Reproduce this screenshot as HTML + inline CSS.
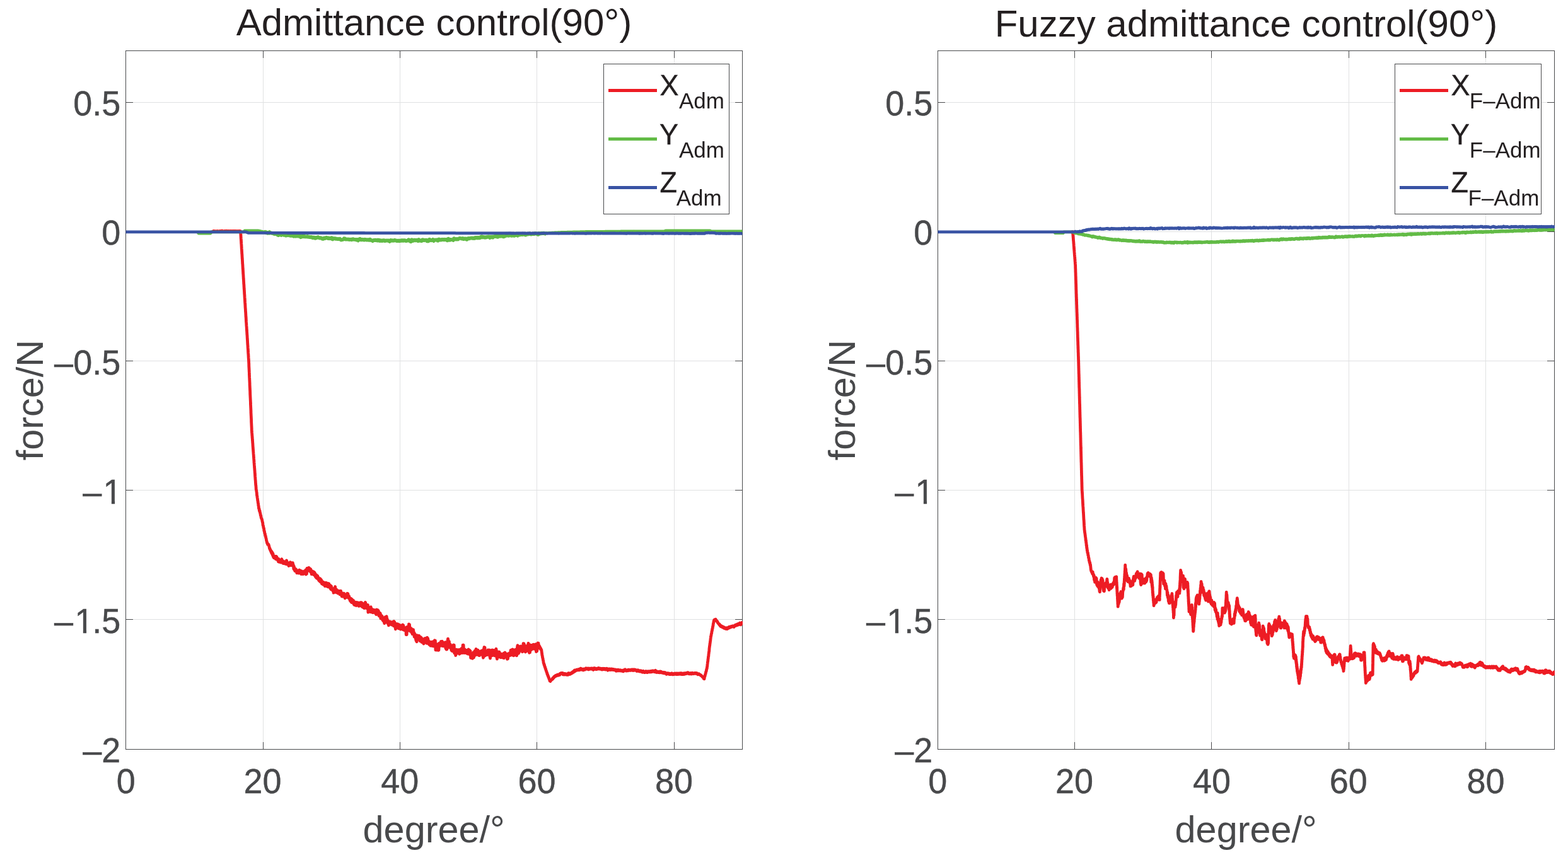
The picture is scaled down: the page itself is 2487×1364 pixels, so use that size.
<!DOCTYPE html>
<html lang="en"><head><meta charset="utf-8"><title>Admittance control vs fuzzy admittance control (90°)</title>
<style>html,body{margin:0;padding:0;background:#fff;}body{width:2487px;height:1364px;overflow:hidden;}svg{display:block;}text{font-family:'Liberation Sans', Arial, Helvetica, sans-serif;}</style></head><body>
<svg xmlns="http://www.w3.org/2000/svg" width="2487" height="1364" viewBox="0 0 2487 1364">
<rect x="0" y="0" width="2487" height="1364" fill="#ffffff"/>
<g>
<path d="M417.5 80.5V1188.5M634.5 80.5V1188.5M851.5 80.5V1188.5M1069.5 80.5V1188.5M199.5 162.5H1177.5M199.5 367.5H1177.5M199.5 572.5H1177.5M199.5 777.5H1177.5M199.5 982.5H1177.5" stroke="#e0e1e2" stroke-width="1" fill="none"/>
<rect x="199.5" y="80.5" width="978.0" height="1108.0" fill="none" stroke="#48494b" stroke-width="1"/>
<path d="M417.5 1188.5v-11.5M417.5 80.5v11.5M634.5 1188.5v-11.5M634.5 80.5v11.5M851.5 1188.5v-11.5M851.5 80.5v11.5M1069.5 1188.5v-11.5M1069.5 80.5v11.5M199.5 162.5h11.5M1177.5 162.5h-11.5M199.5 367.5h11.5M1177.5 367.5h-11.5M199.5 572.5h11.5M1177.5 572.5h-11.5M199.5 777.5h11.5M1177.5 777.5h-11.5M199.5 982.5h11.5M1177.5 982.5h-11.5" stroke="#48494b" stroke-width="1" fill="none"/>
<clipPath id="clip0"><rect x="199.0" y="80.0" width="979.0" height="1109.0"/></clipPath>
<g clip-path="url(#clip0)" fill="none" stroke-width="4.80" stroke-linejoin="round" stroke-linecap="butt">
<path d="M336.5 368.2L337.0 367.9L337.5 367.3L338.0 366.8L338.5 366.4L339.0 366.7L339.5 366.4L340.0 366.7L340.5 366.9L341.0 367.0L341.5 366.9L342.0 366.7L342.5 366.6L343.0 366.8L343.5 366.6L344.0 366.8L344.5 366.5L345.0 366.8L345.5 366.5L346.0 366.8L346.5 366.9L347.0 367.0L347.5 366.9L348.0 367.0L348.5 366.5L349.1 366.8L349.6 366.5L350.1 366.8L350.6 366.5L351.1 366.3L351.6 366.2L352.1 366.3L352.6 366.2L353.1 366.9L353.6 366.8L354.1 366.9L354.6 366.8L355.1 366.7L355.6 366.5L356.1 366.7L356.6 366.5L357.1 366.7L357.6 366.5L358.1 366.7L358.6 366.2L359.1 366.3L359.6 366.5L360.1 366.7L360.6 366.5L361.1 366.7L361.6 366.5L362.1 366.7L362.6 366.4L363.1 366.8L363.6 366.4L364.1 366.8L364.6 366.5L365.1 366.7L365.6 366.5L366.1 366.7L366.6 366.4L367.1 366.8L367.6 366.5L368.1 366.8L368.6 366.5L369.1 366.7L369.6 366.4L370.1 366.8L370.7 366.5L371.2 366.7L371.7 366.4L372.2 366.7L372.7 366.4L373.2 366.7L373.7 366.4L374.2 366.8L374.7 366.5L375.2 366.8L375.7 366.5L376.2 367.0L376.7 366.8L377.2 367.0L377.7 366.5L378.2 366.8L378.7 366.5L379.2 366.9L379.7 366.4L380.2 366.6L380.7 366.4L381.2 366.6L381.6 367.8L381.7 370.2L381.9 371.9L382.0 374.2L382.1 375.8L382.2 378.2L382.4 379.9L382.5 382.2L382.6 383.9L382.7 386.2L382.9 387.8L383.0 390.1L383.1 391.9L383.2 394.2L383.4 395.8L383.5 398.2L383.6 399.8L383.7 402.1L383.9 403.8L384.0 406.1L384.1 407.8L384.2 410.1L384.4 411.8L384.5 414.1L384.6 415.8L384.7 418.1L384.9 419.8L385.0 422.1L385.1 423.8L385.2 426.1L385.4 427.8L385.5 430.1L385.6 431.8L385.7 434.1L385.9 435.9L386.0 438.1L386.1 439.8L386.2 442.1L386.4 443.8L386.5 446.1L386.6 447.8L386.7 450.1L386.9 451.8L387.0 454.2L387.1 455.9L387.2 458.1L387.4 459.9L387.5 462.2L387.6 463.9L387.7 466.1L387.9 467.9L388.0 470.2L388.1 471.9L388.3 474.2L388.4 475.8L388.5 478.2L388.6 479.9L388.8 482.2L388.9 484.1L389.0 486.3L389.1 488.1L389.3 490.3L389.4 492.2L389.5 494.3L389.7 496.1L389.8 498.3L389.9 500.1L390.0 502.3L390.2 504.1L390.3 506.4L390.4 508.3L390.5 510.4L390.7 512.3L390.8 514.4L390.9 516.2L391.1 518.4L391.2 519.8L391.3 522.0L391.4 523.8L391.6 526.0L391.7 527.9L391.8 530.1L392.0 531.9L392.1 534.0L392.2 535.8L392.3 538.0L392.5 539.8L392.6 542.1L392.7 543.9L392.8 546.1L393.0 547.9L393.1 550.1L393.2 551.9L393.4 554.1L393.5 555.9L393.6 558.1L393.7 559.9L393.9 562.2L394.0 563.9L394.1 566.2L394.2 567.9L394.4 570.2L394.5 571.9L394.6 574.2L394.7 575.8L394.8 578.2L394.8 579.9L394.9 582.2L395.0 583.9L395.1 586.2L395.2 587.9L395.3 590.2L395.4 591.7L395.4 594.1L395.5 595.7L395.6 598.2L395.7 599.8L395.8 602.1L395.9 603.8L396.0 606.1L396.1 607.8L396.1 610.1L396.2 611.8L396.3 614.1L396.4 615.7L396.5 618.1L396.6 619.8L396.7 622.1L396.7 623.7L396.8 626.1L396.9 627.8L397.0 630.1L397.1 631.8L397.2 634.1L397.3 635.8L397.4 638.2L397.4 639.9L397.5 642.1L397.6 643.9L397.7 646.2L397.8 647.9L397.9 650.1L398.0 651.9L398.0 654.1L398.1 655.9L398.2 658.1L398.3 659.9L398.4 662.1L398.5 663.9L398.6 666.1L398.6 667.9L398.7 670.1L398.8 671.9L398.9 674.2L399.0 675.9L399.1 678.2L399.2 679.9L399.2 682.1L399.4 683.9L399.5 686.2L399.7 687.8L399.8 690.1L400.0 691.8L400.1 694.1L400.3 695.7L400.4 698.0L400.6 699.7L400.7 701.9L400.9 703.6L401.0 705.9L401.1 707.6L401.3 709.9L401.4 711.6L401.6 713.9L401.7 715.6L401.9 717.9L402.0 719.5L402.2 721.8L402.3 723.4L402.5 725.8L402.6 727.4L402.8 729.7L402.9 731.4L403.0 733.7L403.2 735.4L403.3 737.7L403.5 739.3L403.6 741.6L403.8 743.2L403.9 745.5L404.1 747.3L404.2 749.5L404.4 751.1L404.5 753.5L404.6 755.2L404.8 757.5L404.9 759.1L405.1 761.9L405.2 761.9L405.4 766.0L405.5 766.5L405.7 769.9L405.8 769.3L406.0 772.1L406.1 773.4L406.2 776.1L406.6 777.2L406.9 780.0L407.2 781.3L407.5 785.9L407.8 786.5L408.1 789.6L408.4 790.6L408.7 793.9L409.0 794.7L409.3 797.7L409.6 798.5L409.9 802.2L410.2 802.4L410.5 806.5L411.0 806.6L411.4 810.4L411.9 809.7L412.4 813.2L412.8 813.8L413.3 817.3L413.8 817.8L414.2 821.3L414.7 822.1L415.2 823.5L415.7 824.7L416.1 827.4L416.6 828.5L417.1 833.4L417.5 833.5L418.0 837.5L418.5 837.6L418.9 842.0L419.4 842.6L419.8 845.7L420.3 846.4L420.8 849.9L421.2 849.8L421.7 853.2L422.1 854.0L422.6 857.3L423.1 858.6L423.6 861.3L424.0 861.0L424.5 863.4L425.0 862.8L425.5 863.2L426.0 863.5L426.5 865.4L427.0 867.2L427.5 870.1L428.0 869.8L428.5 872.3L429.0 872.0L429.5 874.5L430.0 873.6L430.5 877.0L431.0 874.9L431.5 878.6L432.0 876.3L432.5 880.9L433.0 878.1L433.5 883.3L434.0 882.1L434.5 884.8L435.1 882.4L435.6 885.1L436.1 882.3L436.6 885.9L437.1 882.4L437.6 886.9L438.1 882.3L438.6 884.5L439.1 883.5L439.6 887.7L440.1 886.4L440.6 888.6L441.0 887.0L441.5 890.9L442.0 886.5L442.5 891.3L443.0 888.8L443.4 891.4L443.9 889.3L444.4 891.5L444.9 890.3L445.4 892.1L445.9 890.8L446.3 888.2L446.8 886.7L447.3 888.4L447.8 889.7L448.3 892.5L448.8 890.2L449.2 893.7L449.7 890.2L450.2 893.4L450.7 890.5L451.2 893.9L451.7 891.5L452.1 894.2L452.6 892.0L453.1 894.4L453.6 892.0L454.1 894.7L454.5 889.0L455.0 890.8L455.5 893.0L456.0 894.9L456.5 892.9L457.0 894.9L457.4 892.8L457.9 897.6L458.4 896.4L458.9 896.4L459.4 892.3L459.9 896.5L460.3 891.6L460.8 895.8L461.3 892.1L461.8 896.9L462.3 895.3L462.8 896.5L463.3 896.1L463.8 892.6L464.3 892.6L464.8 895.4L465.3 896.0L465.8 902.4L466.3 898.1L466.8 903.5L467.3 900.9L467.8 905.7L468.3 902.5L468.8 905.6L469.3 902.6L469.7 906.3L470.2 904.3L470.7 908.8L471.2 904.7L471.7 908.2L472.2 904.9L472.6 908.3L473.1 905.6L473.6 909.2L474.1 905.5L474.6 907.4L475.1 904.0L475.6 908.3L476.1 904.9L476.6 908.2L477.1 905.8L477.6 910.5L478.0 905.6L478.5 910.0L479.0 907.4L479.5 909.8L480.0 906.7L480.5 910.7L481.0 907.2L481.5 910.1L482.0 906.2L482.5 908.3L483.0 905.7L483.5 908.4L484.0 905.6L484.5 907.3L484.9 904.0L485.4 911.1L485.9 908.8L486.4 910.3L486.9 901.5L487.4 905.2L487.8 901.9L488.3 905.6L488.8 900.9L489.3 905.1L489.8 900.5L490.3 904.3L490.8 901.0L491.3 905.6L491.8 902.5L492.3 906.9L492.8 902.6L493.2 907.7L493.7 908.4L494.2 910.6L494.7 909.5L495.2 909.6L495.7 905.8L496.2 910.7L496.7 907.2L497.2 911.1L497.7 906.9L498.2 911.9L498.7 907.9L499.2 911.3L499.7 909.4L500.2 914.4L500.7 911.2L501.3 916.0L501.8 911.6L502.3 917.0L502.8 913.2L503.3 917.3L503.8 913.3L504.3 918.2L504.8 915.5L505.3 920.0L505.8 918.9L506.3 921.4L506.8 920.1L507.3 920.9L507.8 917.7L508.3 923.0L508.9 918.9L509.4 923.4L509.9 920.2L510.4 925.9L510.9 922.3L511.4 926.3L511.9 923.8L512.4 927.2L512.9 923.2L513.4 927.2L513.9 923.9L514.4 928.0L514.9 925.2L515.3 929.5L515.8 925.2L516.3 928.8L516.8 924.2L517.3 929.0L517.8 924.3L518.2 929.8L518.7 925.0L519.2 929.5L519.7 925.6L520.2 930.8L520.7 925.5L521.2 930.1L521.7 925.7L522.2 931.4L522.7 927.6L523.1 931.8L523.6 928.2L524.1 933.6L524.6 928.9L525.1 934.8L525.6 930.0L526.1 935.4L526.6 932.8L527.1 935.6L527.6 933.3L528.1 937.5L528.6 934.4L529.1 940.2L529.6 935.1L530.1 939.5L530.6 935.1L531.1 932.4L531.6 930.5L532.1 938.8L532.6 934.2L533.1 939.5L533.6 935.0L534.1 938.8L534.6 936.6L535.1 940.3L535.6 936.8L536.1 941.2L536.6 936.8L537.1 941.0L537.6 937.4L538.1 940.9L538.6 937.3L539.1 942.8L539.6 937.8L540.1 942.4L540.6 937.2L541.1 942.8L541.6 943.5L542.1 945.6L542.6 944.2L543.1 946.1L543.6 940.8L544.1 944.7L544.7 941.9L545.2 944.8L545.7 941.1L546.2 946.9L546.7 946.5L547.2 948.8L547.7 947.3L548.2 946.4L548.7 943.3L549.2 947.7L549.7 944.5L550.2 942.8L550.7 941.2L551.2 942.8L551.7 941.4L552.2 943.6L552.7 945.2L553.1 948.6L553.6 945.3L554.1 949.7L554.6 948.0L555.1 952.5L555.6 949.6L556.1 953.8L556.6 949.1L557.1 954.9L557.6 949.9L558.1 955.7L558.6 950.9L559.1 955.7L559.6 952.3L560.1 956.4L560.6 952.4L561.1 958.4L561.6 954.6L562.1 959.5L562.6 956.0L563.1 959.5L563.6 955.1L564.1 959.6L564.6 955.1L565.1 960.5L565.6 955.4L566.1 959.3L566.6 955.9L567.1 959.5L567.6 955.7L568.1 959.4L568.5 956.7L569.0 961.3L569.5 957.2L570.0 961.2L570.5 956.4L571.0 959.9L571.5 955.6L572.0 959.6L572.5 955.7L573.0 959.8L573.5 955.7L574.0 961.8L574.5 957.4L575.0 962.8L575.5 957.1L576.0 962.4L576.5 959.0L577.0 964.1L577.5 958.9L578.0 964.7L578.5 959.3L579.0 957.8L579.5 955.3L580.0 957.8L580.5 958.6L581.0 964.2L581.4 960.5L581.9 964.9L582.4 961.1L582.9 960.8L583.4 959.5L583.9 971.1L584.3 968.9L584.8 967.7L585.3 963.5L585.8 969.2L586.3 964.9L586.8 969.0L587.2 965.7L587.7 970.6L588.2 962.7L588.7 965.3L589.2 966.4L589.7 971.0L590.3 966.6L590.8 971.5L591.3 966.6L591.8 971.6L592.3 967.8L592.8 971.0L593.3 967.5L593.8 970.8L594.3 967.7L594.8 971.2L595.3 968.0L595.8 973.3L596.3 968.3L596.8 974.5L597.3 967.0L597.9 969.8L598.3 967.6L598.8 969.7L599.3 967.5L599.8 970.6L600.3 968.7L600.8 976.4L601.3 971.7L601.8 977.2L602.3 972.0L602.8 977.6L603.3 972.9L603.8 980.8L604.3 976.0L604.8 980.4L605.3 976.4L605.8 981.7L606.3 977.6L606.8 983.4L607.3 981.8L607.7 984.7L608.2 982.9L608.7 985.1L609.2 985.6L609.7 988.6L610.2 986.5L610.6 982.6L611.1 978.6L611.6 983.3L612.1 980.1L612.6 979.7L613.1 977.6L613.5 980.7L614.0 981.3L614.5 988.0L615.0 983.6L615.5 989.3L615.9 985.7L616.4 991.9L616.9 986.8L617.4 989.7L617.9 986.0L618.4 989.7L618.9 985.9L619.4 990.2L619.9 986.6L620.4 990.1L620.9 986.8L621.4 991.1L621.9 986.9L622.4 990.8L622.9 986.5L623.4 990.8L623.9 985.9L624.4 992.7L624.9 985.3L625.4 992.8L625.9 986.7L626.4 993.6L626.9 995.1L627.4 997.9L627.9 996.3L628.4 992.8L628.8 989.3L629.3 993.3L629.8 989.9L630.3 994.6L630.8 989.7L631.3 995.6L631.8 990.3L632.3 996.9L632.8 990.7L633.3 996.1L633.8 991.4L634.3 996.7L634.8 992.7L635.3 998.0L635.8 991.8L636.3 997.6L636.8 992.5L637.3 997.7L637.8 993.8L638.3 998.3L638.8 990.9L639.3 993.9L639.8 991.8L640.3 999.0L640.8 995.9L641.3 999.7L641.8 996.8L642.2 999.7L642.7 995.7L643.2 999.3L643.7 995.7L644.2 1006.6L644.7 1003.9L645.1 1006.6L645.6 994.4L646.1 1000.1L646.6 994.6L647.1 1000.5L647.6 994.7L648.0 999.2L648.5 989.8L649.0 992.7L649.5 990.7L650.0 999.8L650.5 995.2L651.0 1001.4L651.5 997.0L652.0 1001.2L652.5 996.8L653.0 1003.3L653.5 999.0L654.0 1005.6L654.5 999.3L655.0 1005.6L655.5 998.6L656.0 1002.0L656.5 1003.7L657.0 1009.8L657.5 1004.4L658.0 1010.1L658.5 1006.1L659.0 1012.3L659.5 1013.5L660.0 1016.1L660.5 1014.4L661.0 1017.8L661.5 1007.6L662.0 1011.2L662.5 1008.6L663.0 1011.9L663.5 1008.3L664.1 1013.6L664.6 1008.2L665.1 1014.1L665.6 1009.3L666.1 1016.7L666.6 1011.0L667.1 1017.0L667.6 1010.7L668.1 1017.6L668.6 1011.8L669.1 1018.5L669.6 1013.5L670.1 1018.5L670.6 1014.5L671.1 1019.6L671.6 1018.2L672.1 1021.0L672.6 1018.6L673.1 1015.8L673.5 1012.7L674.0 1015.9L674.5 1012.4L675.0 1015.5L675.5 1012.9L676.0 1019.0L676.5 1013.9L677.0 1020.3L677.5 1011.1L678.0 1014.1L678.5 1012.2L679.0 1014.8L679.5 1017.2L680.0 1021.4L680.5 1017.2L681.0 1022.4L681.5 1018.5L682.0 1021.7L682.5 1018.2L683.0 1024.2L683.5 1018.6L684.0 1024.0L684.5 1018.1L685.0 1024.3L685.5 1019.4L686.0 1023.7L686.5 1017.8L687.0 1024.9L687.5 1017.5L688.0 1024.8L688.5 1019.5L688.9 1024.9L689.4 1015.6L689.9 1018.1L690.4 1016.1L690.9 1030.8L691.4 1028.2L691.9 1031.2L692.4 1022.1L692.9 1028.9L693.4 1021.9L693.9 1027.4L694.4 1021.6L694.9 1031.3L695.4 1028.4L695.9 1031.2L696.4 1020.4L696.9 1024.9L697.4 1019.8L697.9 1024.7L698.4 1020.4L698.9 1024.2L699.4 1017.3L699.9 1023.2L700.4 1017.5L700.9 1021.9L701.4 1017.1L701.9 1024.6L702.4 1020.9L702.9 1024.5L703.4 1020.1L703.9 1024.9L704.4 1019.4L704.9 1023.3L705.4 1019.2L705.9 1022.7L706.4 1018.6L706.9 1028.3L707.5 1025.4L708.0 1030.1L708.5 1026.8L709.0 1029.8L709.5 1027.1L710.0 1016.4L710.5 1013.1L711.0 1015.9L711.5 1016.6L712.0 1019.5L712.4 1017.4L712.9 1026.8L713.4 1022.1L713.9 1026.9L714.4 1022.1L714.9 1028.0L715.3 1023.7L715.8 1031.0L716.3 1024.3L716.8 1032.3L717.3 1025.9L717.8 1032.0L718.3 1026.1L718.7 1033.1L719.2 1023.0L719.7 1025.8L720.2 1023.2L720.7 1035.9L721.2 1030.1L721.7 1036.4L722.2 1036.4L722.7 1039.5L723.2 1030.7L723.7 1036.3L724.2 1030.1L724.7 1036.6L725.2 1030.6L725.7 1035.6L726.2 1031.1L726.7 1035.1L727.2 1030.6L727.7 1035.9L728.2 1030.9L728.7 1037.4L729.2 1031.5L729.7 1035.8L730.2 1029.8L730.7 1036.1L731.2 1030.2L731.7 1034.7L732.2 1028.3L732.7 1034.3L733.2 1029.6L733.7 1035.5L734.1 1023.1L734.6 1025.2L735.1 1023.0L735.6 1035.1L736.1 1029.7L736.6 1035.5L737.1 1029.9L737.6 1034.7L738.1 1031.2L738.6 1035.7L739.1 1031.2L739.6 1035.9L740.1 1031.9L740.6 1036.4L741.1 1032.4L741.6 1037.1L742.1 1030.8L742.6 1036.0L743.1 1029.8L743.6 1036.9L744.1 1032.2L744.6 1037.9L745.1 1031.5L745.6 1037.8L746.1 1032.6L746.6 1043.3L747.1 1040.3L747.6 1043.6L748.1 1038.6L748.6 1041.7L749.0 1041.4L749.5 1044.4L750.0 1041.7L750.5 1040.9L751.0 1034.6L751.5 1042.9L752.0 1034.5L752.5 1038.7L753.0 1032.4L753.5 1039.6L754.0 1033.6L754.5 1032.2L755.0 1029.4L755.5 1038.0L756.0 1032.4L756.5 1038.4L757.0 1031.0L757.5 1038.4L758.0 1031.1L758.5 1037.3L759.0 1034.7L759.5 1039.5L760.0 1035.4L760.5 1039.7L761.0 1034.7L761.5 1036.5L762.0 1032.9L762.5 1036.0L763.0 1032.8L763.5 1038.2L764.0 1032.2L764.5 1038.4L765.0 1031.6L765.5 1038.2L766.0 1040.7L766.5 1043.2L767.0 1040.3L767.5 1029.5L768.0 1026.4L768.5 1029.8L769.0 1026.8L769.5 1040.0L770.0 1035.3L770.5 1039.0L771.0 1033.8L771.5 1038.1L772.0 1034.8L772.5 1038.7L773.0 1034.6L773.5 1037.1L774.0 1031.0L774.5 1038.4L775.0 1031.5L775.5 1038.1L776.0 1030.9L776.5 1037.2L777.0 1041.7L777.5 1044.1L778.0 1031.9L778.5 1039.6L778.9 1032.6L779.4 1039.5L779.9 1031.1L780.4 1039.8L780.9 1031.0L781.4 1038.1L781.9 1031.9L782.4 1038.8L782.9 1032.4L783.4 1038.3L783.9 1031.4L784.4 1039.8L784.9 1032.3L785.4 1040.2L785.9 1032.5L786.4 1032.5L786.9 1029.1L787.4 1032.7L787.9 1042.1L788.4 1045.2L788.9 1033.7L789.4 1040.6L789.9 1034.5L790.4 1040.7L790.9 1034.1L791.4 1041.8L791.9 1034.0L792.4 1042.1L792.9 1037.3L793.4 1041.9L793.9 1037.4L794.4 1042.9L794.9 1036.8L795.4 1042.5L795.9 1037.3L796.5 1042.9L797.0 1038.1L797.5 1043.1L798.0 1039.4L798.5 1043.3L799.0 1036.1L799.5 1043.9L800.0 1036.0L800.5 1042.5L801.0 1035.0L801.5 1042.0L802.0 1038.4L802.5 1041.8L803.0 1037.6L803.5 1041.3L804.0 1037.2L804.5 1045.4L805.0 1042.4L805.5 1044.9L806.0 1036.9L806.5 1040.4L807.0 1037.3L807.5 1040.1L808.0 1036.0L808.5 1039.4L809.0 1036.2L809.5 1039.5L810.0 1031.4L810.5 1037.5L811.0 1030.9L811.5 1034.5L812.0 1030.7L812.5 1034.7L813.0 1030.0L813.5 1039.3L814.0 1036.0L814.5 1039.8L815.0 1036.7L815.5 1039.4L816.0 1030.8L816.5 1035.4L817.0 1030.6L817.5 1035.7L818.0 1030.1L818.5 1035.1L819.0 1031.0L819.5 1039.8L820.0 1036.9L820.5 1026.3L821.0 1023.7L821.5 1035.0L822.0 1028.3L822.5 1036.3L823.0 1029.4L823.5 1034.3L824.0 1028.0L824.5 1031.4L825.0 1025.2L825.5 1031.5L826.0 1024.9L826.5 1030.6L827.0 1026.2L827.5 1030.9L828.0 1027.6L828.5 1033.9L829.0 1028.0L829.5 1033.2L830.0 1020.7L830.5 1023.3L831.0 1020.8L831.5 1022.9L832.0 1023.2L832.5 1025.9L833.0 1026.7L833.5 1034.2L834.0 1027.3L834.5 1032.7L835.0 1025.2L835.5 1032.5L836.0 1024.5L836.5 1031.7L837.0 1025.2L837.5 1022.9L838.0 1020.3L838.5 1022.5L839.0 1032.8L839.5 1035.3L840.0 1032.3L840.5 1035.0L841.0 1022.9L841.5 1030.0L842.0 1023.3L842.5 1030.9L843.0 1023.4L843.5 1029.7L844.0 1023.3L844.5 1029.0L845.0 1023.5L845.5 1029.0L846.0 1022.2L846.5 1028.8L847.0 1022.4L847.5 1028.5L848.0 1023.3L848.5 1029.6L849.0 1022.5L849.5 1028.3L850.0 1021.6L850.5 1033.7L851.0 1030.2L851.5 1033.0L852.0 1030.7L852.5 1026.2L853.0 1020.0L853.5 1028.0L854.0 1020.2L854.5 1026.4L855.0 1023.8L855.5 1026.2L855.9 1025.0L856.4 1027.3L856.9 1027.1L857.3 1029.7L857.8 1028.6L858.3 1030.3L858.8 1030.9L859.1 1033.3L859.5 1036.1L859.9 1039.5L860.2 1040.1L860.6 1043.3L861.0 1044.2L861.4 1047.3L861.8 1048.2L862.1 1051.6L862.5 1051.5L863.0 1054.6L863.5 1054.5L864.0 1057.7L864.5 1057.7L865.0 1060.5L865.5 1060.7L866.0 1063.4L866.5 1064.0L867.0 1066.3L867.5 1066.7L868.0 1069.5L868.5 1069.5L869.0 1071.9L869.5 1072.1L870.0 1074.6L870.5 1074.7L871.0 1077.1L871.5 1077.6L872.0 1079.9L872.5 1080.0L873.0 1080.5L873.5 1079.0L874.0 1079.1L874.5 1077.9L875.0 1078.0L875.5 1077.2L876.0 1077.6L876.5 1075.7L877.0 1076.7L877.5 1074.9L878.0 1075.4L878.5 1073.5L879.0 1074.2L879.5 1072.6L880.0 1073.3L880.5 1072.0L881.0 1072.6L881.5 1071.2L882.0 1072.0L882.5 1071.0L883.0 1071.9L883.5 1070.5L884.0 1071.1L884.5 1070.1L885.0 1070.7L885.5 1070.4L886.0 1071.1L886.5 1069.8L887.0 1070.6L887.5 1069.4L888.0 1070.3L888.5 1068.1L889.0 1068.5L889.5 1067.7L890.0 1068.0L890.5 1067.6L891.0 1068.1L891.5 1067.6L892.0 1068.0L892.5 1067.6L893.0 1069.9L893.5 1068.5L894.0 1069.7L894.5 1068.7L895.0 1070.1L895.5 1068.4L896.0 1069.9L896.5 1068.6L897.0 1069.7L897.5 1068.7L898.0 1070.1L898.5 1069.2L899.0 1070.2L899.5 1069.0L900.0 1070.2L900.5 1069.3L901.0 1070.3L901.5 1067.7L902.0 1068.3L902.5 1067.8L903.0 1068.0L903.5 1068.9L904.0 1069.5L904.5 1068.3L905.0 1068.9L905.5 1067.6L906.0 1068.3L906.5 1067.1L907.0 1067.8L907.5 1066.1L908.0 1067.2L908.5 1065.4L909.0 1066.5L909.5 1064.9L910.0 1066.0L910.5 1063.8L911.0 1063.9L911.5 1063.1L912.0 1064.7L912.5 1063.2L913.0 1064.0L913.5 1062.9L914.0 1063.5L914.5 1062.2L915.0 1063.1L915.5 1062.1L916.0 1063.0L916.5 1062.0L917.0 1062.7L917.5 1061.7L918.0 1062.7L918.5 1061.4L919.0 1062.7L919.5 1061.3L920.0 1060.9L920.5 1060.4L921.0 1060.9L921.5 1060.3L922.0 1062.2L922.5 1061.5L923.0 1062.0L923.5 1061.4L924.0 1062.1L924.5 1062.4L925.0 1063.0L925.5 1061.0L926.0 1062.2L926.5 1061.1L927.0 1062.2L927.5 1060.9L928.0 1062.0L928.5 1060.9L929.0 1060.4L929.5 1059.8L930.0 1061.1L930.5 1060.2L931.0 1060.9L931.5 1060.3L932.0 1060.8L932.5 1060.0L933.0 1061.7L933.5 1060.1L934.0 1061.7L934.5 1060.3L935.0 1061.4L935.5 1060.2L936.0 1061.0L936.5 1060.3L937.0 1061.1L937.5 1060.3L938.0 1061.1L938.5 1059.9L939.0 1061.3L939.5 1059.9L940.0 1061.1L940.5 1061.9L941.0 1062.4L941.5 1061.8L942.0 1060.1L942.5 1059.5L943.0 1060.0L943.5 1060.4L944.0 1061.2L944.5 1060.1L945.0 1061.6L945.5 1060.2L946.0 1061.3L946.5 1060.6L947.0 1061.4L947.5 1060.6L948.0 1060.2L948.5 1059.7L949.0 1060.2L949.5 1059.6L950.0 1061.0L950.5 1060.1L951.0 1061.0L951.5 1060.0L952.0 1061.0L952.5 1060.3L953.0 1061.3L953.5 1060.5L954.0 1061.8L954.5 1060.4L955.0 1062.0L955.5 1060.5L956.0 1061.9L956.5 1060.3L957.0 1061.4L957.5 1060.4L958.0 1061.5L958.5 1060.4L959.0 1061.4L959.5 1060.6L960.0 1061.9L960.5 1060.8L961.0 1061.9L961.5 1061.0L962.0 1061.6L962.5 1060.2L963.0 1061.9L963.5 1062.5L964.0 1063.1L964.5 1062.5L965.0 1062.2L965.5 1060.9L966.0 1062.4L966.5 1061.0L967.0 1062.1L967.5 1061.1L968.0 1062.5L968.5 1061.1L969.0 1062.1L969.5 1061.1L970.0 1062.2L970.5 1061.0L971.0 1062.2L971.5 1061.5L972.0 1062.3L972.5 1061.6L973.0 1062.4L973.5 1061.5L974.0 1062.5L974.5 1062.0L975.0 1062.8L975.5 1062.0L976.0 1063.1L976.5 1062.1L977.0 1064.1L977.5 1063.5L978.0 1064.1L978.5 1062.4L979.0 1063.4L979.5 1062.4L980.0 1063.8L980.5 1062.3L981.0 1063.9L981.5 1062.8L982.0 1063.8L982.5 1062.8L983.0 1063.8L983.5 1063.1L984.0 1063.7L984.5 1062.8L985.0 1064.0L985.5 1063.2L986.0 1064.0L986.5 1063.5L987.0 1064.3L987.5 1063.2L988.0 1064.8L988.5 1063.3L989.0 1064.7L989.5 1062.6L990.0 1063.0L990.5 1062.4L991.0 1062.4L991.5 1061.7L992.0 1062.3L992.5 1063.3L993.0 1064.0L993.5 1063.2L994.0 1064.0L994.5 1063.0L995.0 1063.8L995.5 1062.9L996.0 1063.8L996.5 1062.2L997.0 1063.4L997.5 1062.2L998.0 1063.2L998.5 1062.5L999.0 1063.3L999.5 1062.4L1000.0 1063.3L1000.5 1062.4L1001.0 1063.2L1001.5 1062.1L1002.0 1063.1L1002.5 1062.0L1003.0 1062.9L1003.5 1062.0L1004.0 1063.5L1004.5 1061.9L1005.0 1063.3L1005.5 1061.9L1006.0 1063.2L1006.5 1062.0L1007.0 1062.9L1007.5 1062.4L1008.0 1063.1L1008.5 1062.6L1009.0 1063.4L1009.5 1063.8L1010.0 1064.4L1010.5 1064.1L1011.0 1063.6L1011.5 1062.8L1012.0 1064.2L1012.5 1062.9L1013.0 1064.6L1013.5 1063.9L1014.0 1064.7L1014.5 1064.1L1015.0 1065.1L1015.5 1063.9L1016.0 1065.1L1016.5 1063.8L1017.0 1065.3L1017.5 1064.7L1018.0 1065.6L1018.5 1064.6L1019.0 1066.2L1019.5 1064.8L1020.0 1064.6L1020.5 1064.2L1021.0 1064.8L1021.5 1065.4L1022.0 1066.5L1022.5 1065.5L1023.0 1066.6L1023.5 1065.3L1024.0 1065.1L1024.5 1064.5L1025.0 1065.0L1025.5 1065.2L1026.0 1066.4L1026.5 1065.2L1027.0 1066.5L1027.5 1064.8L1028.0 1066.0L1028.5 1065.1L1029.0 1065.8L1029.5 1064.8L1030.0 1065.6L1030.5 1065.1L1031.0 1065.9L1031.5 1064.6L1032.0 1065.7L1032.5 1064.5L1033.0 1065.7L1033.5 1064.1L1034.0 1065.6L1034.5 1064.3L1035.0 1065.2L1035.5 1064.0L1036.0 1065.0L1036.5 1063.9L1037.0 1064.7L1037.5 1065.1L1038.0 1065.7L1038.5 1065.3L1039.0 1063.7L1039.5 1063.3L1040.0 1063.9L1040.5 1065.9L1041.0 1066.5L1041.5 1066.1L1042.0 1066.1L1042.5 1065.0L1043.0 1066.4L1043.5 1065.3L1044.0 1066.5L1044.5 1065.5L1045.0 1066.6L1045.5 1065.3L1046.0 1066.8L1046.5 1065.3L1047.0 1066.8L1047.5 1065.0L1048.0 1065.7L1048.5 1065.2L1049.0 1066.8L1049.5 1066.2L1050.0 1067.0L1050.5 1066.4L1051.0 1067.2L1051.5 1066.5L1052.0 1067.4L1052.5 1066.2L1053.0 1067.8L1053.5 1066.7L1054.0 1067.9L1054.5 1066.5L1055.0 1067.7L1055.5 1066.8L1056.0 1068.1L1056.5 1068.7L1057.0 1069.4L1057.5 1068.9L1058.0 1068.2L1058.5 1067.8L1059.0 1068.6L1059.5 1067.9L1060.0 1068.9L1060.5 1068.0L1061.0 1068.9L1061.5 1068.3L1062.0 1069.4L1062.5 1068.3L1063.0 1069.5L1063.5 1068.5L1064.0 1069.5L1064.5 1068.4L1065.0 1068.3L1065.5 1067.8L1066.0 1068.4L1066.5 1068.7L1067.0 1069.8L1067.5 1068.8L1068.0 1069.7L1068.5 1068.5L1069.0 1069.6L1069.5 1068.3L1070.0 1069.3L1070.5 1068.1L1071.0 1069.3L1071.5 1068.2L1072.0 1069.2L1072.5 1068.1L1073.0 1069.4L1073.5 1068.3L1074.0 1069.5L1074.5 1068.0L1075.0 1069.3L1075.5 1068.2L1076.0 1069.4L1076.5 1068.0L1077.0 1069.2L1077.5 1068.1L1078.0 1069.0L1078.5 1068.0L1079.0 1069.2L1079.5 1067.8L1080.0 1069.1L1080.5 1067.6L1081.0 1069.5L1081.5 1068.3L1082.0 1069.4L1082.5 1068.2L1083.0 1069.4L1083.5 1068.1L1084.0 1069.4L1084.5 1067.9L1085.0 1069.2L1085.5 1067.8L1086.0 1069.2L1086.5 1067.6L1087.0 1068.6L1087.5 1067.8L1088.0 1068.6L1088.5 1067.6L1089.0 1068.5L1089.5 1067.3L1090.0 1067.8L1090.5 1066.9L1091.0 1067.4L1091.5 1066.8L1092.0 1068.6L1092.5 1068.0L1093.0 1068.6L1093.5 1068.0L1094.0 1068.8L1094.5 1067.8L1095.0 1068.8L1095.5 1067.6L1096.0 1068.8L1096.5 1067.6L1097.0 1069.0L1097.5 1067.4L1098.0 1068.3L1098.5 1067.3L1099.0 1068.3L1099.5 1067.8L1100.0 1068.7L1100.5 1067.9L1101.0 1068.1L1101.5 1067.5L1102.0 1068.2L1102.5 1067.4L1103.0 1068.2L1103.5 1067.5L1104.0 1068.3L1104.5 1067.5L1105.0 1068.3L1105.5 1067.7L1106.0 1069.1L1106.5 1068.5L1107.0 1069.8L1107.5 1069.0L1108.0 1069.0L1108.5 1068.8L1109.0 1069.7L1109.5 1069.5L1110.0 1070.2L1110.5 1070.1L1111.0 1071.0L1111.5 1070.8L1112.0 1071.7L1112.5 1071.5L1113.0 1072.4L1113.5 1072.7L1114.0 1073.6L1114.5 1073.3L1115.0 1074.3L1115.5 1074.2L1116.0 1076.1L1116.5 1075.2L1117.0 1076.8L1117.5 1073.5L1118.1 1072.4L1118.6 1069.5L1119.1 1068.7L1119.7 1065.3L1120.2 1064.6L1120.7 1061.3L1121.2 1060.6L1121.5 1057.7L1121.8 1056.8L1122.0 1053.7L1122.2 1052.6L1122.5 1049.5L1122.8 1048.7L1123.0 1045.6L1123.2 1045.0L1123.5 1041.5L1123.8 1040.8L1124.0 1037.5L1124.2 1036.7L1124.5 1033.7L1124.8 1032.9L1125.0 1028.8L1125.2 1027.3L1125.5 1024.8L1125.8 1023.3L1126.0 1020.8L1126.2 1020.3L1126.5 1017.4L1126.8 1016.2L1127.0 1013.4L1127.2 1012.1L1127.5 1009.3L1127.9 1008.3L1128.3 1005.3L1128.7 1004.6L1129.0 1001.5L1129.4 1000.6L1129.8 997.4L1130.2 996.8L1130.6 993.6L1131.0 992.5L1131.3 989.2L1131.7 988.1L1132.1 985.3L1132.5 984.1L1133.0 983.0L1133.5 983.5L1134.0 983.9L1134.5 984.2L1135.0 982.1L1135.5 983.8L1136.0 983.6L1136.5 985.1L1137.0 984.7L1137.5 986.4L1138.0 985.9L1138.5 988.0L1139.0 987.9L1139.5 989.1L1140.0 989.1L1140.5 990.6L1141.0 989.8L1141.5 991.6L1142.0 991.3L1142.5 993.1L1143.0 992.0L1143.5 993.7L1144.0 992.6L1144.4 994.0L1144.9 993.2L1145.4 994.6L1145.9 993.5L1146.4 995.0L1146.9 994.2L1147.4 995.7L1147.8 994.6L1148.3 996.4L1148.8 995.0L1149.3 996.4L1149.8 995.5L1150.3 997.1L1150.8 996.2L1151.2 997.4L1151.7 995.9L1152.2 997.1L1152.7 995.6L1153.2 997.6L1153.7 996.9L1154.2 997.2L1154.7 996.5L1155.2 996.2L1155.7 994.7L1156.2 996.0L1156.7 994.3L1157.1 995.8L1157.6 994.2L1158.1 995.2L1158.6 993.9L1159.1 994.8L1159.6 993.5L1160.1 994.4L1160.6 993.3L1161.1 993.9L1161.6 993.0L1162.1 993.6L1162.5 992.8L1163.0 993.4L1163.5 994.1L1164.0 994.4L1164.5 993.8L1165.0 993.0L1165.5 991.6L1166.0 992.7L1166.5 991.3L1167.0 992.3L1167.5 990.9L1168.0 992.1L1168.5 990.4L1169.0 991.7L1169.5 990.0L1170.0 991.4L1170.5 989.8L1171.0 990.9L1171.4 989.5L1171.9 990.7L1172.4 989.2L1172.9 990.2L1173.4 988.0L1173.9 988.3L1174.4 990.2L1174.9 990.7L1175.4 990.0L1175.9 988.7L1176.4 987.4L1176.9 988.5L1177.4 988.0" stroke="#ed1c24"/>
<path d="M313.5 367.9L314.0 368.6L314.5 369.3L315.0 370.0L315.5 370.0L316.0 370.0L316.5 370.0L317.0 370.0L317.5 370.0L318.0 370.0L318.5 370.0L319.0 370.0L319.5 370.0L320.0 370.0L320.5 370.0L321.0 370.0L321.5 370.0L322.0 370.0L322.5 370.0L323.0 370.0L323.5 370.0L324.0 370.0L324.5 370.0L325.0 370.0L325.5 370.0L326.0 370.0L326.5 370.0L327.0 370.0L327.5 370.0L328.0 370.0L328.5 370.0L329.0 370.0L329.5 370.0L330.0 370.0L330.5 370.0L331.0 370.0L331.5 370.0L332.0 370.0L332.5 370.0L333.0 370.0L333.5 370.0L334.0 370.0L334.5 368.9L335.0 367.9L335.5 367.9L336.0 367.9L336.5 367.9L337.0 367.9L337.5 367.9L338.0 367.9L338.5 367.9L339.0 367.9L339.5 367.9L340.0 367.9L340.5 367.9L341.0 367.9L341.5 367.9L342.0 367.9L342.5 367.9L343.0 367.9L343.5 367.9L344.0 367.9L344.5 367.9L345.0 367.9L345.5 367.9L346.0 367.9L346.5 367.9L347.0 367.9L347.5 367.9L348.0 367.9L348.5 367.9L349.0 367.9L349.5 367.9L350.0 367.9L350.5 367.9L351.0 367.9L351.5 367.9L352.0 367.9L352.5 367.9L353.0 367.9L353.5 367.9L354.0 367.9L354.5 367.9L355.0 367.9L355.5 367.9L356.0 367.9L356.5 367.9L357.0 367.9L357.5 367.9L358.0 367.9L358.5 367.9L359.0 367.9L359.5 367.9L360.0 367.9L360.5 367.9L361.0 367.9L361.5 367.9L362.0 367.9L362.5 367.9L363.0 367.9L363.5 367.9L364.0 367.9L364.5 367.9L365.0 367.9L365.5 367.9L366.0 367.9L366.5 367.9L367.0 367.9L367.5 367.9L368.0 367.9L368.5 367.9L369.0 367.9L369.5 367.9L370.0 367.9L370.5 367.9L371.0 367.9L371.5 367.9L372.0 367.9L372.5 367.9L373.0 367.9L373.5 367.9L374.0 367.9L374.5 367.9L375.0 367.9L375.5 367.9L376.0 367.9L376.5 367.9L377.0 367.9L377.5 367.9L378.0 367.9L378.5 367.9L379.0 367.9L379.5 367.9L380.0 367.9L380.5 367.9L381.0 367.9L381.5 367.9L382.0 367.9L382.5 367.9L383.0 367.9L383.5 367.9L384.0 367.9L384.5 367.9L385.0 367.9L385.5 367.9L386.0 367.9L386.5 367.9L387.0 367.9L387.5 366.9L388.0 366.0L388.5 366.0L389.0 366.0L389.5 366.0L390.0 366.0L390.5 366.0L391.0 366.0L391.5 366.0L392.0 366.0L392.5 366.0L393.0 366.0L393.5 366.0L394.0 366.0L394.5 366.0L395.0 366.0L395.5 366.0L396.0 366.0L396.5 366.0L397.0 366.0L397.5 366.0L398.0 366.0L398.5 366.0L399.0 366.0L399.5 366.0L400.0 366.0L400.5 366.0L401.0 366.0L401.5 366.0L402.0 366.0L402.5 366.0L403.0 366.0L403.5 366.0L404.0 366.0L404.5 366.0L405.0 366.0L405.5 366.0L406.0 366.0L406.5 366.0L407.0 366.0L407.5 366.0L408.0 366.0L408.5 366.0L409.0 366.0L409.5 366.0L410.0 366.0L410.5 366.1L411.0 366.2L411.5 366.3L412.0 366.4L412.5 366.5L413.0 366.6L413.5 366.8L414.0 366.9L414.5 367.0L415.0 367.1L415.5 367.2L416.0 367.3L416.5 367.4L417.0 367.5L417.5 367.6L418.0 367.7L418.5 367.8L419.0 367.8L419.5 367.9L420.0 368.0L420.5 367.3L421.0 369.2L421.5 367.7L422.0 369.4L422.5 367.7L423.0 369.3L423.5 369.7L424.0 370.3L424.5 368.4L425.0 369.4L425.5 368.5L426.0 369.7L426.5 368.8L427.0 370.2L427.5 367.5L428.0 368.2L428.5 368.7L429.0 369.7L429.5 368.8L430.0 370.0L430.5 369.3L431.0 370.2L431.5 369.3L432.0 370.3L432.5 369.4L433.0 370.6L433.5 370.0L434.0 371.2L434.5 370.2L435.0 371.3L435.5 370.1L436.0 371.7L436.5 370.5L437.0 371.5L437.5 370.6L438.0 371.5L438.5 370.7L439.0 372.0L439.5 372.3L440.0 373.0L440.5 372.4L441.0 373.4L441.5 372.8L442.0 373.5L442.5 371.0L443.0 372.1L443.5 371.3L444.0 372.1L444.5 371.4L445.0 372.2L445.5 372.8L446.0 373.5L446.5 372.8L447.0 372.6L447.5 371.3L448.0 372.6L448.5 371.2L449.0 372.9L449.5 372.0L450.0 373.3L450.5 372.1L451.0 373.3L451.5 372.4L452.0 373.3L452.5 373.2L453.0 374.0L453.5 373.5L454.0 374.0L454.5 372.3L455.0 373.3L455.5 372.4L456.0 373.4L456.5 372.2L457.0 373.7L457.5 372.3L458.0 373.4L458.5 372.3L459.0 373.5L459.5 372.6L460.0 374.2L460.5 372.8L461.0 374.2L461.5 372.9L462.0 374.2L462.5 373.3L463.0 374.3L463.5 373.2L464.0 374.5L464.5 373.3L465.0 374.5L465.5 374.6L466.0 375.3L466.5 374.6L467.0 374.8L467.5 373.5L468.0 374.9L468.5 373.7L469.0 375.3L469.5 373.8L470.0 375.1L470.5 373.9L471.0 374.7L471.5 373.9L472.0 374.9L472.5 373.5L473.0 375.0L473.5 373.6L474.0 375.1L474.5 373.8L475.0 375.5L475.5 374.2L476.0 375.5L476.5 374.2L477.0 376.7L477.5 376.2L478.0 375.6L478.5 374.4L479.0 375.8L479.5 374.6L480.0 375.7L480.5 373.3L481.0 374.0L481.5 373.3L482.0 375.7L482.5 374.2L483.0 375.9L483.5 374.5L484.0 375.7L484.5 374.8L485.0 375.9L485.5 375.0L486.0 375.8L486.5 375.1L487.0 375.9L487.5 374.6L488.0 375.8L488.5 374.7L489.0 376.2L489.5 374.9L490.0 376.4L490.5 375.3L491.0 376.5L491.5 375.4L492.0 376.4L492.5 375.5L493.0 376.7L493.5 375.5L494.0 376.5L494.5 375.6L495.0 377.4L495.5 377.0L496.0 377.6L496.5 376.0L497.0 377.0L497.5 376.2L498.0 377.0L498.5 376.1L499.0 378.1L499.5 377.4L500.0 378.2L500.5 377.6L501.0 378.2L501.5 376.1L502.0 377.2L502.5 376.5L503.0 377.4L503.5 376.3L504.0 376.2L504.5 375.6L505.0 376.3L505.5 376.4L506.0 377.8L506.5 376.6L507.0 378.0L507.5 376.6L508.0 378.0L508.5 376.9L509.0 377.7L509.5 376.9L510.0 377.9L510.5 378.7L511.0 379.3L511.5 378.7L512.0 379.3L512.5 378.7L513.0 379.2L513.5 377.2L514.0 378.4L514.5 377.2L515.0 378.4L515.5 377.0L516.0 378.5L516.5 377.4L517.0 377.0L517.5 376.4L518.0 377.0L518.5 376.6L519.0 378.1L519.5 376.9L520.0 378.5L520.5 376.9L521.0 378.3L521.5 377.1L522.0 378.7L522.5 377.2L523.0 378.5L523.5 377.5L524.0 378.7L524.5 377.4L525.0 377.5L525.5 376.9L526.0 377.5L526.5 376.9L527.0 379.9L527.5 379.4L528.0 379.9L528.5 377.8L529.0 378.6L529.5 377.8L530.0 378.7L530.5 377.8L531.0 378.6L531.5 377.7L532.0 379.4L532.5 377.9L533.0 379.4L533.5 378.5L534.0 379.3L534.5 378.6L535.0 379.5L535.5 378.8L536.0 379.5L536.5 378.4L537.0 379.6L537.5 378.6L538.0 379.7L538.5 378.4L539.0 379.3L539.5 378.3L540.0 379.3L540.5 380.3L541.0 381.0L541.5 379.9L542.0 380.5L542.5 380.0L543.0 380.4L543.5 379.9L544.0 380.5L544.5 380.0L545.0 378.4L545.5 377.8L546.0 378.3L546.5 378.0L547.0 378.6L547.5 378.0L548.0 380.1L548.5 379.1L549.0 380.1L549.5 379.0L550.0 379.9L550.5 379.0L551.0 380.1L551.5 379.2L552.0 380.0L552.5 379.1L553.0 380.3L553.5 379.2L554.0 380.5L554.5 379.2L555.0 380.4L555.5 379.5L556.0 380.2L556.5 379.2L557.0 380.6L557.5 379.1L558.0 380.7L558.5 379.3L559.0 380.4L559.5 378.7L560.0 379.4L560.5 378.7L561.0 380.3L561.5 379.4L562.0 380.3L562.5 379.5L563.0 380.3L563.5 379.5L564.0 380.4L564.5 379.5L565.0 381.0L565.5 379.7L566.0 381.1L566.5 379.5L567.0 381.1L567.5 381.3L568.0 382.1L568.5 379.3L569.0 380.7L569.5 379.5L570.0 380.5L570.5 378.4L571.0 379.1L571.5 378.6L572.0 380.8L572.5 379.6L573.0 380.7L573.5 379.6L574.0 380.7L574.5 379.2L575.0 380.6L575.5 379.7L576.0 380.7L576.5 379.4L577.0 381.0L577.5 380.2L578.0 381.1L578.5 379.3L579.0 379.9L579.5 379.5L580.0 380.0L580.5 379.5L581.0 381.0L581.5 379.8L582.0 380.9L582.5 379.8L583.0 380.9L583.5 379.7L584.0 381.0L584.5 379.8L585.0 381.2L585.5 379.7L586.0 381.4L586.5 379.3L587.0 379.9L587.5 379.3L588.0 381.4L588.5 380.3L589.0 381.6L589.5 380.6L590.0 381.8L590.5 382.2L591.0 382.8L591.5 382.3L592.0 381.7L592.5 380.4L593.0 381.6L593.5 380.4L594.0 381.5L594.5 380.1L595.0 381.4L595.5 380.2L596.0 381.5L596.5 380.3L597.0 381.6L597.5 380.9L598.0 381.9L598.5 381.0L599.0 382.0L599.5 380.0L600.0 380.6L600.5 380.4L601.0 381.6L601.5 380.3L602.0 382.5L602.5 380.7L603.0 382.4L603.5 380.8L604.0 382.5L604.5 381.0L605.0 382.1L605.5 381.1L606.0 382.4L606.5 380.9L607.0 382.4L607.5 380.8L608.0 381.5L608.5 380.8L609.0 381.7L609.5 380.7L610.0 382.5L610.5 381.0L611.0 382.5L611.5 381.2L612.0 382.3L612.5 381.1L613.0 382.0L613.5 381.1L614.0 382.0L614.5 381.3L615.0 382.1L615.5 380.9L616.0 382.5L616.5 381.0L617.0 382.6L617.5 382.8L618.0 383.5L618.5 382.9L619.0 381.9L619.5 380.4L620.0 382.1L620.5 380.5L621.0 382.2L621.5 381.0L622.0 382.1L622.5 380.8L623.0 382.3L623.5 381.1L624.0 382.1L624.5 381.2L625.0 382.2L625.5 380.4L626.0 381.8L626.5 380.6L627.0 381.8L627.5 380.8L628.0 382.0L628.5 380.9L629.0 382.6L629.5 381.3L630.0 382.5L630.5 381.3L631.0 382.4L631.5 381.2L632.0 382.6L632.5 381.1L633.0 382.6L633.5 381.1L634.0 382.7L634.5 381.2L635.0 382.3L635.5 381.6L636.0 382.3L636.5 380.8L637.0 382.2L637.5 380.8L638.0 382.0L638.5 380.7L639.0 382.2L639.5 380.7L640.0 382.3L640.5 380.7L641.0 382.1L641.5 381.0L642.0 382.1L642.5 380.8L643.0 382.2L643.5 381.4L644.0 382.6L644.5 381.6L645.0 382.4L645.5 381.5L646.0 381.9L646.5 380.8L647.0 382.0L647.5 380.0L648.0 380.5L648.5 379.9L649.0 382.2L649.5 381.1L650.0 382.2L650.5 380.9L651.0 383.6L651.5 383.0L652.0 383.6L652.5 380.0L653.0 380.5L653.5 379.9L654.0 380.6L654.5 381.1L655.0 382.4L655.5 380.9L656.0 381.6L656.5 380.3L657.0 381.8L657.5 380.3L658.0 381.9L658.5 380.2L659.0 381.8L659.5 380.5L660.0 381.7L660.5 380.2L661.0 381.7L661.5 380.5L662.0 381.8L662.5 382.1L663.0 382.7L663.5 379.7L664.0 380.1L664.5 379.6L665.0 382.3L665.5 381.2L666.0 382.1L666.5 380.8L667.0 382.4L667.5 381.2L668.0 382.6L668.5 382.0L669.0 382.5L669.5 379.9L670.0 380.4L670.5 379.8L671.0 380.4L671.5 380.2L672.0 381.6L672.5 380.2L673.0 381.8L673.5 380.4L674.0 381.1L674.5 380.4L675.0 381.2L675.5 380.4L676.0 381.1L676.5 380.2L677.0 382.9L677.5 382.3L678.0 382.8L678.5 382.1L679.0 382.9L679.5 382.1L680.0 382.7L680.5 379.3L681.0 379.8L681.5 379.2L682.0 379.7L682.5 380.7L683.0 381.6L683.5 380.6L684.0 381.7L684.5 380.6L685.0 381.6L685.5 380.6L686.0 379.8L686.5 379.2L687.0 379.8L687.5 382.0L688.0 382.6L688.5 380.1L689.0 381.4L689.5 380.0L690.0 381.3L690.5 380.3L691.0 381.0L691.5 380.0L692.0 381.1L692.5 379.9L693.0 380.9L693.5 380.0L694.0 382.1L694.5 381.5L695.0 382.1L695.5 379.1L696.0 379.7L696.5 379.1L697.0 381.1L697.5 379.8L698.0 381.0L698.5 379.8L699.0 381.0L699.5 379.6L700.0 381.0L700.5 379.5L701.0 380.5L701.5 379.2L702.0 380.4L702.5 379.5L703.0 380.7L703.5 379.5L704.0 380.5L704.5 379.3L705.0 380.9L705.5 379.5L706.0 380.6L706.5 379.5L707.0 380.5L707.5 379.4L708.0 380.6L708.5 379.6L709.0 381.8L709.5 381.2L710.0 381.8L710.5 378.5L711.0 379.0L711.5 378.3L712.0 378.9L712.5 380.6L713.0 381.2L713.5 380.6L714.0 381.1L714.5 379.4L715.0 380.5L715.5 379.4L716.0 380.3L716.5 380.3L717.0 380.8L717.5 380.4L718.0 380.9L718.5 380.8L719.0 381.5L719.5 377.9L720.0 378.4L720.5 377.7L721.0 380.2L721.5 378.9L722.0 379.8L722.5 379.0L723.0 379.9L723.5 378.6L724.0 380.1L724.5 378.9L725.0 379.8L725.5 378.5L726.0 380.1L726.5 378.7L727.0 379.9L727.5 378.5L728.0 378.2L728.5 377.6L729.0 378.3L729.5 377.5L730.0 378.1L730.5 377.5L731.0 378.0L731.5 377.9L732.0 379.0L732.5 377.9L733.0 378.8L733.5 377.7L734.0 378.8L734.5 377.6L735.0 379.7L735.5 378.1L736.0 379.5L736.5 378.0L737.0 379.2L737.5 378.1L738.0 379.1L738.5 378.1L739.0 379.3L739.5 378.0L740.0 380.2L740.5 379.6L741.0 380.2L741.5 379.5L742.0 378.9L742.5 377.4L743.0 378.9L743.5 377.5L744.0 378.7L744.5 377.5L745.0 378.7L745.5 377.4L746.0 378.2L746.5 377.2L747.0 377.9L747.5 377.3L748.0 378.0L748.5 377.1L749.0 378.3L749.5 377.2L750.0 378.1L750.5 377.3L751.0 378.6L751.5 377.3L752.0 378.3L752.5 377.1L753.0 378.4L753.5 376.5L754.0 377.9L754.5 376.5L755.0 377.5L755.5 376.5L756.0 377.7L756.5 376.4L757.0 377.8L757.5 376.6L758.0 378.0L758.5 376.2L759.0 377.8L759.5 376.4L760.0 377.9L760.5 376.7L761.0 377.9L761.5 376.1L762.0 377.5L762.5 375.1L763.0 375.7L763.5 375.1L764.0 375.5L764.5 374.9L765.0 376.9L765.5 375.5L766.0 376.8L766.5 375.4L767.0 376.8L767.5 375.5L768.0 376.7L768.5 375.9L769.0 377.2L769.5 375.8L770.0 376.9L770.5 375.8L771.0 377.0L771.5 375.6L772.0 376.4L772.5 375.3L773.0 376.4L773.5 375.4L774.0 376.3L774.5 374.9L775.0 376.2L775.5 375.0L776.0 376.1L776.5 377.1L777.0 377.7L777.5 375.2L778.0 376.3L778.5 375.3L779.0 376.5L779.5 375.1L780.0 376.2L780.5 374.9L781.0 377.1L781.5 376.5L782.0 377.0L782.5 374.9L783.0 375.7L783.5 374.7L784.0 375.7L784.5 374.8L785.0 375.6L785.5 374.7L786.0 374.3L786.5 373.5L787.0 374.1L787.5 374.4L788.0 376.0L788.5 374.4L789.0 376.2L789.5 375.6L790.0 376.2L790.5 373.9L791.0 375.0L791.5 373.9L792.0 375.3L792.5 373.8L793.0 374.8L793.5 373.7L794.0 375.2L794.5 374.3L795.0 375.1L795.5 374.1L796.0 374.9L796.5 374.1L797.0 374.7L797.5 374.0L798.0 375.7L798.5 375.1L799.0 375.8L799.5 375.1L800.0 375.2L800.5 374.7L801.0 375.1L801.5 373.2L802.0 374.1L802.5 373.0L803.0 374.2L803.5 372.8L804.0 373.9L804.5 373.2L805.0 373.9L805.5 372.8L806.0 374.2L806.5 372.6L807.0 374.2L807.5 372.8L808.0 374.0L808.5 373.0L809.0 373.8L809.5 372.9L810.0 373.8L810.5 372.8L811.0 374.3L811.5 373.0L812.0 374.2L812.5 372.2L813.0 373.3L813.5 372.3L814.0 373.3L814.5 372.4L815.0 374.3L815.5 373.7L816.0 374.2L816.5 373.6L817.0 373.7L817.5 372.0L818.0 373.4L818.5 372.2L819.0 373.5L819.5 372.2L820.0 373.5L820.5 373.7L821.0 374.3L821.5 373.4L822.0 372.9L822.5 372.1L823.0 372.9L823.5 371.7L824.0 373.0L824.5 372.0L825.0 372.9L825.5 371.9L826.0 372.5L826.5 371.6L827.0 372.4L827.5 371.2L828.0 372.6L828.5 371.7L829.0 372.7L829.5 371.5L830.0 372.3L830.5 371.6L831.0 372.2L831.5 371.4L832.0 372.1L832.5 371.4L833.0 373.1L833.5 372.5L834.0 373.0L834.5 371.1L835.0 372.4L835.5 371.3L836.0 372.1L836.5 371.3L837.0 371.9L837.5 371.2L838.0 371.9L838.5 371.1L839.0 370.7L839.5 370.1L840.0 370.6L840.5 369.9L841.0 371.9L841.5 370.6L842.0 372.0L842.5 370.4L843.0 372.0L843.5 370.4L844.0 371.7L844.5 370.1L845.0 371.5L845.5 370.2L846.0 371.6L846.5 370.5L847.0 371.7L847.5 370.6L848.0 371.5L848.5 369.7L849.0 370.9L849.5 369.8L850.0 371.0L850.5 369.9L851.0 370.9L851.5 371.3L852.0 371.9L852.5 371.2L853.0 372.3L853.5 371.7L854.0 372.2L854.5 369.8L855.0 371.1L855.5 369.9L856.0 371.2L856.5 369.6L857.0 371.0L857.5 369.9L858.0 370.6L858.5 369.6L859.0 370.8L859.5 369.5L860.0 370.5L860.5 369.5L861.0 370.6L861.5 369.5L862.0 370.4L862.5 369.3L863.0 370.4L863.5 369.5L864.0 370.5L864.5 371.2L865.0 369.8L865.5 369.8L866.0 369.7L866.5 369.7L867.0 369.7L867.5 369.7L868.0 369.6L868.5 369.6L869.0 369.6L869.5 369.6L870.0 369.5L870.5 369.5L871.0 369.5L871.5 369.5L872.0 369.4L872.5 369.4L873.0 369.4L873.5 369.4L874.0 369.3L874.5 369.3L875.0 369.3L875.5 369.2L876.0 369.2L876.5 369.2L877.0 369.2L877.5 369.1L878.0 369.1L878.5 369.1L879.0 369.1L879.5 369.0L880.0 369.0L880.5 369.0L881.0 369.0L881.5 368.9L882.0 368.9L882.5 368.9L883.0 368.9L883.5 368.8L884.0 368.8L884.5 368.8L885.0 368.8L885.5 368.7L886.0 368.7L886.5 368.7L887.0 368.7L887.5 368.6L888.0 368.6L888.5 368.6L889.0 368.6L889.5 368.5L890.0 368.5L890.5 368.5L891.0 368.5L891.5 368.5L892.0 368.4L892.5 368.4L893.0 368.4L893.5 368.4L894.0 368.4L894.5 368.4L895.0 368.4L895.5 368.4L896.0 368.4L896.5 368.3L897.0 368.3L897.5 368.3L898.0 368.3L898.5 368.3L899.0 368.3L899.5 368.3L900.0 368.2L900.5 368.2L901.0 368.2L901.5 368.2L902.0 368.2L902.5 368.2L903.0 368.2L903.5 368.2L904.0 368.1L904.5 368.1L905.0 368.1L905.5 368.1L906.0 368.1L906.5 368.1L907.0 368.1L907.5 368.1L908.0 368.1L908.5 368.0L909.0 368.0L909.5 368.0L910.0 368.0L910.5 368.0L911.0 368.0L911.5 368.0L912.0 367.9L912.5 367.9L913.0 367.9L913.5 367.9L914.0 367.9L914.5 367.9L915.0 367.9L915.5 367.9L916.0 367.9L916.5 367.8L917.0 367.8L917.5 367.8L918.0 367.8L918.5 367.8L919.0 367.8L919.5 367.8L920.0 367.8L920.5 367.7L921.0 367.7L921.5 367.7L922.0 367.7L922.5 367.7L923.0 367.7L923.5 367.7L924.0 367.6L924.5 367.6L925.0 367.6L925.5 367.6L926.0 367.6L926.5 367.6L927.0 367.6L927.5 367.6L928.0 367.6L928.5 367.5L929.0 367.5L929.5 367.5L930.0 367.5L930.5 367.5L931.0 367.5L931.5 367.5L932.0 367.5L932.5 367.5L933.0 367.5L933.5 367.5L934.0 367.5L934.5 367.5L935.0 367.5L935.5 367.5L936.0 367.4L936.5 367.4L937.0 367.4L937.5 367.4L938.0 367.4L938.5 367.4L939.0 367.4L939.5 367.4L940.0 367.4L940.5 367.4L941.0 367.4L941.5 367.4L942.0 367.4L942.5 367.4L943.0 367.4L943.5 367.4L944.0 367.4L944.5 367.4L945.0 367.4L945.5 367.4L946.0 367.4L946.5 367.4L947.0 367.4L947.5 367.4L948.0 367.4L948.5 367.3L949.0 367.3L949.5 367.3L950.0 367.3L950.5 367.3L951.0 367.3L951.5 367.3L952.0 367.3L952.5 367.3L953.0 367.3L953.5 367.3L954.0 367.3L954.5 367.3L955.0 367.3L955.5 367.3L956.0 367.3L956.5 367.3L957.0 367.3L957.5 367.3L958.0 367.3L958.5 367.3L959.0 367.3L959.5 367.3L960.0 367.2L960.5 367.2L961.0 367.2L961.5 367.2L962.0 367.2L962.5 367.2L963.0 367.2L963.5 367.2L964.0 367.2L964.5 367.2L965.0 367.2L965.5 367.2L966.0 367.2L966.5 367.2L967.0 367.2L967.5 367.2L968.0 367.2L968.5 367.2L969.0 367.2L969.5 367.2L970.0 367.2L970.5 367.2L971.0 367.2L971.5 367.2L972.0 367.1L972.5 367.1L973.0 367.1L973.5 367.1L974.0 367.1L974.5 367.1L975.0 367.1L975.5 367.1L976.0 367.1L976.5 367.1L977.0 367.1L977.5 367.1L978.0 367.1L978.5 367.1L979.0 367.1L979.5 367.1L980.0 367.1L980.5 367.1L981.0 367.1L981.5 367.1L982.0 367.1L982.5 367.1L983.0 367.1L983.5 367.1L984.0 367.1L984.5 367.0L985.0 367.0L985.5 367.0L986.0 367.0L986.5 367.0L987.0 367.0L987.5 367.0L988.0 367.0L988.5 367.0L989.0 367.0L989.5 367.0L990.0 367.0L990.5 367.0L991.0 367.0L991.5 367.0L992.0 367.0L992.5 367.0L993.0 367.0L993.5 367.0L994.0 367.0L994.5 367.0L995.0 367.0L995.5 367.0L996.0 367.0L996.5 367.0L997.0 367.0L997.5 367.0L998.0 367.0L998.5 367.0L999.0 367.0L999.5 367.0L1000.0 367.0L1000.5 367.0L1001.0 367.0L1001.5 367.0L1002.0 367.0L1002.5 367.0L1003.0 367.0L1003.5 367.0L1004.0 367.0L1004.5 367.0L1005.0 367.0L1005.5 367.0L1006.0 366.9L1006.5 366.9L1007.0 366.9L1007.5 366.9L1008.0 366.9L1008.5 366.9L1009.0 366.9L1009.5 366.9L1010.0 366.9L1010.5 366.9L1011.0 366.9L1011.5 366.9L1012.0 366.9L1012.5 366.9L1013.0 366.9L1013.5 366.9L1014.0 366.9L1014.5 366.9L1015.0 366.9L1015.5 366.9L1016.0 366.9L1016.5 366.9L1017.0 366.9L1017.5 366.9L1018.0 366.9L1018.5 366.9L1019.0 366.9L1019.5 366.9L1020.0 366.9L1020.5 366.9L1021.0 366.9L1021.5 366.9L1022.0 366.9L1022.5 366.9L1023.0 366.9L1023.5 366.9L1024.0 366.9L1024.5 366.9L1025.0 366.9L1025.5 366.9L1026.0 366.9L1026.5 366.9L1027.0 366.9L1027.5 366.9L1028.0 366.9L1028.5 366.9L1029.0 366.9L1029.5 366.9L1030.0 366.9L1030.5 366.9L1031.0 366.9L1031.5 366.9L1032.0 366.9L1032.5 366.9L1033.0 366.9L1033.5 366.9L1034.0 366.9L1034.5 366.9L1035.0 366.9L1035.5 366.9L1036.0 366.9L1036.5 366.9L1037.0 366.9L1037.5 366.9L1038.0 366.9L1038.5 366.8L1039.0 366.8L1039.5 366.8L1040.0 366.8L1040.5 366.8L1041.0 366.8L1041.5 366.8L1042.0 366.8L1042.5 366.8L1043.0 366.8L1043.5 366.8L1044.0 366.8L1044.5 366.8L1045.0 366.8L1045.5 366.8L1046.0 366.8L1046.5 366.8L1047.0 366.8L1047.5 366.8L1048.0 366.8L1048.5 366.8L1049.0 366.8L1049.5 366.8L1050.0 366.8L1050.5 366.8L1051.0 366.8L1051.5 366.8L1052.0 366.8L1052.5 366.8L1053.0 366.8L1053.5 366.8L1054.0 366.8L1054.5 366.6L1055.0 366.3L1055.5 366.1L1056.0 365.8L1056.5 365.8L1057.0 365.8L1057.5 365.8L1058.0 365.8L1058.5 365.8L1059.0 365.8L1059.5 365.8L1060.0 365.8L1060.5 365.8L1061.0 365.8L1061.5 365.8L1062.0 365.8L1062.5 365.8L1063.0 365.8L1063.5 365.8L1064.0 365.8L1064.5 365.8L1065.0 365.8L1065.5 365.8L1066.0 365.8L1066.5 365.8L1067.0 365.8L1067.5 365.8L1068.0 365.8L1068.5 365.8L1069.0 365.8L1069.5 365.8L1070.0 365.8L1070.5 365.8L1071.0 365.8L1071.5 365.8L1072.0 365.8L1072.5 365.8L1073.0 365.8L1073.5 365.8L1074.0 365.8L1074.5 365.8L1075.0 365.8L1075.5 365.8L1076.0 365.8L1076.5 365.8L1077.0 365.8L1077.5 365.8L1078.0 365.8L1078.5 365.8L1079.0 365.8L1079.5 365.8L1080.0 365.8L1080.5 365.8L1081.0 365.8L1081.5 365.8L1082.0 365.8L1082.5 365.8L1083.0 365.8L1083.5 365.8L1084.0 365.8L1084.5 365.8L1085.0 365.8L1085.5 365.8L1086.0 365.8L1086.5 365.8L1087.0 365.8L1087.5 365.8L1088.0 365.8L1088.5 365.8L1089.0 365.8L1089.5 365.8L1090.0 365.8L1090.5 365.8L1091.0 365.8L1091.5 365.8L1092.0 365.8L1092.5 365.8L1093.0 365.8L1093.5 365.8L1094.0 365.8L1094.5 365.8L1095.0 365.8L1095.5 365.8L1096.0 365.8L1096.5 365.8L1097.0 365.8L1097.5 365.8L1098.0 365.8L1098.5 365.8L1099.0 365.8L1099.5 365.8L1100.0 365.8L1100.5 365.8L1101.0 365.8L1101.5 365.8L1102.0 365.8L1102.5 365.8L1103.0 365.8L1103.5 365.8L1104.0 365.8L1104.5 365.8L1105.0 365.8L1105.5 365.8L1106.0 365.8L1106.5 365.8L1107.0 365.8L1107.5 365.8L1108.0 365.8L1108.5 365.8L1109.0 365.8L1109.5 365.8L1110.0 365.8L1110.5 365.8L1111.0 365.8L1111.5 365.8L1112.0 365.8L1112.5 365.8L1113.0 365.8L1113.5 365.8L1114.0 365.8L1114.5 365.8L1115.0 365.8L1115.5 365.8L1116.0 365.8L1116.5 365.8L1117.0 365.8L1117.5 365.8L1118.0 365.8L1118.5 365.8L1119.0 365.8L1119.5 365.8L1120.0 365.8L1120.5 365.8L1121.0 365.8L1121.5 365.8L1122.0 365.8L1122.5 365.8L1123.0 365.8L1123.5 365.8L1124.0 365.8L1124.5 365.8L1125.0 365.8L1125.5 365.8L1126.0 365.8L1126.5 366.1L1127.0 366.4L1127.5 366.7L1128.0 367.0L1128.5 367.0L1129.0 367.0L1129.5 367.0L1130.0 367.0L1130.5 367.0L1131.0 367.0L1131.5 367.0L1132.0 367.0L1132.5 367.0L1133.0 367.0L1133.5 367.0L1134.0 367.0L1134.5 367.0L1135.0 367.0L1135.5 367.0L1136.0 367.0L1136.5 367.0L1137.0 367.0L1137.5 367.0L1138.0 367.0L1138.5 367.0L1139.0 367.0L1139.5 367.0L1140.0 367.0L1140.5 367.0L1141.0 367.0L1141.5 367.0L1142.0 367.0L1142.5 367.0L1143.0 367.0L1143.5 367.0L1144.0 367.0L1144.5 367.0L1145.0 367.0L1145.5 367.0L1146.0 367.0L1146.5 367.0L1147.0 367.0L1147.5 367.0L1148.0 367.0L1148.5 367.0L1149.0 367.0L1149.5 367.0L1150.0 367.0L1150.5 367.0L1151.0 367.0L1151.5 367.0L1152.0 367.0L1152.5 367.0L1152.9 367.0L1153.4 367.0L1153.9 367.0L1154.4 367.0L1154.9 367.0L1155.4 367.0L1155.9 367.0L1156.4 367.0L1156.9 367.0L1157.4 367.0L1157.9 367.0L1158.4 367.0L1158.9 367.0L1159.4 367.0L1159.9 367.0L1160.4 367.0L1160.9 367.0L1161.4 367.0L1161.9 367.0L1162.4 367.0L1162.9 367.0L1163.4 367.0L1163.9 367.0L1164.4 367.0L1164.9 367.0L1165.4 367.0L1165.9 367.0L1166.4 367.0L1166.9 367.0L1167.4 367.0L1167.9 367.0L1168.4 367.0L1168.9 367.0L1169.4 367.0L1169.9 367.0L1170.4 367.0L1170.9 367.0L1171.4 367.0L1171.9 367.0L1172.4 367.0L1172.9 367.0L1173.4 367.0L1173.9 367.0L1174.4 367.0L1174.9 367.0L1175.4 367.0L1175.9 367.0L1176.4 367.0L1176.9 367.0L1177.4 367.0" stroke="#62bb46"/>
<path d="M199.5 367.9L200.5 367.9L201.5 367.9L202.5 367.9L203.5 367.9L204.5 367.9L205.5 367.9L206.5 367.9L207.5 367.9L208.5 367.9L209.5 367.9L210.5 367.9L211.5 367.9L212.5 367.9L213.5 367.9L214.5 367.9L215.5 367.9L216.5 367.9L217.5 367.9L218.6 367.9L219.6 367.9L220.6 367.9L221.6 367.9L222.6 367.9L223.6 367.9L224.6 367.9L225.6 367.9L226.6 367.9L227.6 367.9L228.6 367.9L229.6 367.9L230.6 367.9L231.6 367.9L232.6 367.9L233.6 367.9L234.6 367.9L235.6 367.9L236.6 367.9L237.6 367.9L238.6 367.9L239.6 367.9L240.6 367.9L241.6 367.9L242.6 367.9L243.6 367.9L244.6 367.9L245.6 367.9L246.6 367.9L247.6 367.9L248.6 367.9L249.6 367.9L250.6 367.9L251.6 367.9L252.6 367.9L253.6 367.9L254.6 367.9L255.6 367.9L256.6 367.9L257.7 367.9L258.7 367.9L259.7 367.9L260.7 367.9L261.7 367.9L262.7 367.9L263.7 367.9L264.7 367.9L265.7 367.9L266.7 367.9L267.7 367.9L268.7 367.9L269.7 367.9L270.7 367.9L271.7 367.9L272.7 367.9L273.7 367.9L274.7 367.9L275.7 367.9L276.7 367.9L277.7 367.9L278.7 367.9L279.7 367.9L280.7 367.9L281.7 367.9L282.7 367.9L283.7 367.9L284.7 367.9L285.7 367.9L286.7 367.9L287.7 367.9L288.7 367.9L289.7 367.9L290.7 367.9L291.7 367.9L292.7 367.9L293.7 367.9L294.8 367.9L295.8 367.9L296.8 367.9L297.8 367.9L298.8 367.9L299.8 367.9L300.8 367.9L301.8 367.9L302.8 367.9L303.8 367.9L304.8 367.9L305.8 367.9L306.8 367.9L307.8 367.9L308.8 367.9L309.8 367.9L310.8 367.9L311.8 367.9L312.8 367.9L313.8 367.9L314.8 367.9L315.8 367.9L316.8 367.9L317.8 367.9L318.8 367.9L319.8 367.9L320.8 367.9L321.8 367.9L322.8 367.9L323.8 367.9L324.8 367.9L325.8 367.9L326.8 367.9L327.8 367.9L328.8 367.9L329.8 367.9L330.8 367.9L331.8 367.9L332.9 367.9L333.9 367.9L334.9 367.9L335.9 367.9L336.9 367.9L337.9 367.9L338.9 367.9L339.9 367.9L340.9 367.9L341.9 367.9L342.9 367.9L343.9 367.9L344.9 367.9L345.9 367.9L346.9 367.9L347.9 367.9L348.9 367.9L349.9 367.9L350.9 367.9L351.9 367.9L352.9 367.9L353.9 367.9L354.9 367.9L355.9 367.9L356.9 367.9L357.9 367.9L358.9 367.9L359.9 367.9L360.9 367.9L361.9 367.9L362.9 367.9L363.9 367.9L364.9 367.9L365.9 367.9L366.9 367.9L367.9 367.9L368.9 367.9L369.9 367.9L371.0 367.9L372.0 367.9L373.0 367.9L374.0 367.9L375.0 367.9L376.0 367.9L377.0 367.9L378.0 367.9L379.0 367.9L380.0 367.9L381.0 367.9L382.0 367.9L383.0 367.9L384.0 367.9L385.0 367.9L386.0 367.9L387.0 367.9L388.0 367.9L389.0 367.9L390.0 367.9L391.0 368.3L392.0 368.6L393.0 369.0L394.0 369.4L395.0 369.4L396.0 369.4L397.0 369.4L398.0 369.4L399.0 369.4L400.0 369.4L401.0 369.4L402.0 369.4L403.0 369.4L404.0 369.4L405.0 369.4L406.0 369.4L407.0 369.4L408.0 369.4L409.0 369.4L410.0 369.4L411.0 369.4L412.0 369.4L413.0 369.4L414.0 369.4L415.0 369.4L416.0 369.4L417.0 369.4L418.0 369.4L419.0 369.4L420.0 369.4L421.0 369.4L422.0 369.4L423.0 369.4L424.0 369.4L425.0 369.4L426.0 369.4L427.0 369.4L428.0 369.4L429.0 369.4L430.0 369.4L431.0 369.4L432.0 369.4L433.0 369.4L434.0 369.4L435.0 369.4L436.0 369.4L437.0 369.4L438.0 369.4L439.0 369.4L440.0 369.4L441.0 369.4L442.0 369.4L443.0 369.4L444.0 369.4L445.0 369.4L446.0 369.4L447.0 369.4L448.0 369.4L449.0 369.4L450.0 369.4L451.0 369.4L452.0 369.4L453.0 369.4L454.0 369.4L455.0 369.4L456.0 369.5L457.0 369.5L458.0 369.5L459.0 369.5L460.0 369.5L461.0 369.5L462.0 369.5L463.0 369.5L464.0 369.5L465.0 369.5L466.0 369.5L467.0 369.5L468.0 369.5L469.0 369.5L470.0 369.5L471.0 369.5L472.0 369.5L473.0 369.5L474.0 369.5L475.0 369.5L476.0 369.5L477.0 369.5L478.0 369.5L479.0 369.5L480.0 369.5L481.0 369.5L482.0 369.5L483.0 369.5L484.0 369.5L485.0 369.5L486.0 369.5L487.0 369.5L488.0 369.5L489.0 369.5L490.0 369.5L491.0 369.5L492.0 369.5L493.0 369.5L494.0 369.5L495.0 369.5L496.0 369.5L497.0 369.5L498.0 369.5L499.0 369.5L500.0 369.5L501.0 369.5L502.0 369.5L503.0 369.5L504.0 369.5L505.0 369.5L506.0 369.5L507.0 369.5L508.0 369.5L509.0 369.5L510.0 369.5L511.0 369.5L512.0 369.5L513.0 369.5L514.0 369.5L515.0 369.5L516.0 369.5L517.0 369.5L518.0 369.5L519.0 369.5L520.0 369.5L521.0 369.5L522.0 369.5L523.0 369.5L524.0 369.5L525.0 369.5L526.0 369.5L527.0 369.5L528.0 369.5L529.0 369.5L530.0 369.5L531.0 369.5L532.0 369.5L533.0 369.5L534.0 369.5L535.0 369.5L536.0 369.5L537.0 369.5L538.0 369.5L539.0 369.5L540.0 369.5L541.0 369.5L542.0 369.5L543.0 369.5L544.0 369.5L545.0 369.5L546.0 369.5L547.0 369.5L548.0 369.5L549.0 369.5L550.0 369.5L551.0 369.5L552.0 369.5L553.0 369.5L554.0 369.5L555.0 369.5L556.0 369.5L557.0 369.5L558.0 369.5L559.0 369.5L560.0 369.5L561.0 369.5L562.0 369.5L563.0 369.5L564.0 369.5L565.0 369.5L566.0 369.5L567.0 369.5L568.0 369.5L569.0 369.5L570.0 369.5L571.0 369.5L572.0 369.5L573.0 369.5L574.0 369.5L575.0 369.5L576.0 369.5L577.0 369.5L578.0 369.5L579.0 369.6L580.0 369.6L581.0 369.6L582.0 369.6L583.0 369.6L584.0 369.6L585.0 369.6L586.0 369.6L587.0 369.6L588.0 369.6L589.0 369.6L590.0 369.6L591.0 369.6L592.0 369.6L593.0 369.6L594.0 369.6L595.0 369.6L596.0 369.6L597.0 369.6L598.0 369.6L599.0 369.6L600.0 369.6L601.0 369.6L602.0 369.6L603.0 369.6L604.0 369.6L605.0 369.6L606.0 369.6L607.0 369.6L608.0 369.6L609.0 369.6L610.0 369.6L611.0 369.6L612.0 369.6L613.0 369.6L614.0 369.6L615.0 369.6L616.0 369.6L617.0 369.6L618.0 369.6L619.0 369.6L620.0 369.6L621.0 369.6L622.0 369.6L623.0 369.6L624.0 369.6L625.0 369.6L626.0 369.6L627.0 369.6L628.0 369.6L629.0 369.6L630.0 369.6L631.0 369.6L632.0 369.6L633.0 369.6L634.0 369.6L635.0 369.6L636.0 369.6L637.0 369.6L638.0 369.6L639.0 369.6L640.0 369.6L641.0 369.6L642.0 369.6L643.0 369.6L644.0 369.6L645.0 369.6L646.0 369.6L647.0 369.6L648.0 369.6L649.0 369.6L650.0 369.6L651.0 369.6L652.0 369.6L653.0 369.6L654.0 369.6L655.0 369.6L656.0 369.6L657.0 369.6L658.0 369.6L659.0 369.6L660.0 369.6L661.0 369.6L662.0 369.6L663.0 369.6L664.0 369.6L665.0 369.6L666.0 369.6L667.0 369.6L668.0 369.7L669.0 369.7L670.0 369.7L671.0 369.7L672.0 369.7L673.0 369.7L674.0 369.7L675.0 369.7L676.0 369.7L677.0 369.7L678.0 369.7L679.0 369.7L680.0 369.7L681.0 369.7L682.0 369.7L683.0 369.7L684.0 369.7L685.0 369.7L686.0 369.7L687.0 369.7L688.0 369.7L689.0 369.7L690.0 369.7L691.0 369.7L692.0 369.7L693.0 369.7L694.0 369.7L695.0 369.7L696.0 369.7L697.0 369.7L698.0 369.7L699.0 369.7L700.0 369.7L701.0 369.7L702.0 369.7L703.0 369.7L704.0 369.7L705.0 369.7L706.0 369.7L707.0 369.7L708.0 369.7L709.0 369.7L710.0 369.7L711.0 369.7L712.0 369.7L713.0 369.7L714.0 369.7L715.0 369.7L716.0 369.7L717.0 369.7L718.0 369.7L719.0 369.7L720.0 369.7L721.0 369.7L722.0 369.7L723.0 369.8L724.0 369.8L725.0 369.8L726.0 369.8L727.0 369.8L728.0 369.8L729.0 369.8L730.0 369.8L731.0 369.8L732.0 369.8L733.0 369.8L734.0 369.8L735.0 369.8L736.0 369.8L737.0 369.8L738.0 369.8L739.0 369.8L740.0 369.8L741.0 369.8L742.0 369.8L743.0 369.8L744.0 369.8L745.0 369.8L746.0 369.8L747.0 369.8L748.0 369.8L749.0 369.8L750.0 369.8L751.0 369.8L752.0 369.8L753.0 369.8L754.0 369.8L755.0 369.8L756.0 369.8L757.0 369.8L758.0 369.8L759.0 369.8L760.0 369.8L761.0 369.8L762.0 369.8L763.0 369.8L764.0 369.8L765.0 369.8L766.0 369.8L767.0 369.8L768.0 369.8L769.0 369.8L770.0 369.8L771.0 369.8L772.0 369.8L773.0 369.8L774.0 369.8L775.0 369.8L776.0 369.8L777.0 369.8L778.0 369.9L779.0 369.9L780.0 369.9L781.0 369.9L782.0 369.9L783.0 369.9L784.0 369.9L785.0 369.9L786.0 369.9L787.0 369.9L788.0 369.9L789.0 369.9L790.0 369.9L791.0 369.9L792.0 369.9L793.0 369.9L794.0 369.9L795.0 369.9L796.0 369.9L797.0 369.9L798.0 369.9L799.0 369.9L800.0 369.9L801.0 369.9L802.0 370.0L803.0 369.8L804.0 370.1L805.0 369.8L806.0 370.0L807.0 369.7L808.0 370.0L809.0 369.7L810.0 370.0L811.0 369.9L812.0 370.0L813.0 369.9L814.0 370.0L815.0 369.9L816.0 370.2L817.0 370.1L818.0 370.1L819.0 369.8L820.0 370.0L821.0 369.8L822.0 370.1L823.0 369.9L824.0 370.0L825.0 369.8L826.0 370.0L827.0 369.8L828.0 370.0L829.0 369.7L830.0 370.0L831.0 369.8L832.0 370.1L833.0 369.8L834.0 370.2L835.0 370.1L836.0 370.1L837.0 369.9L838.0 370.1L839.0 369.8L840.0 370.0L841.0 369.8L842.0 370.3L843.0 370.2L844.0 370.1L845.0 369.9L846.0 370.1L847.0 369.8L848.0 370.1L849.0 369.8L850.0 370.1L851.0 369.9L852.0 370.1L853.0 369.9L854.0 370.1L855.0 369.9L856.0 370.3L857.0 370.2L858.0 370.1L859.0 369.9L860.0 370.1L861.0 369.8L862.0 370.1L863.0 369.7L864.0 369.8L865.0 369.9L866.0 370.1L867.0 369.9L868.0 370.3L869.0 370.2L870.0 370.1L871.0 369.9L872.0 370.1L873.0 370.0L874.0 370.1L875.0 369.8L876.0 370.1L877.0 369.9L878.0 370.1L879.0 369.8L880.0 370.1L881.0 369.9L882.0 370.2L883.0 370.0L884.0 370.1L885.0 370.0L886.0 370.3L887.0 370.2L888.0 370.1L889.0 370.0L890.0 370.1L891.0 369.9L892.0 370.1L893.0 370.0L894.0 370.1L895.0 369.9L896.0 370.1L897.0 369.9L898.0 370.2L899.0 369.9L900.0 370.1L901.0 370.0L902.0 370.2L903.0 370.0L904.0 370.0L905.0 369.9L906.0 369.8L907.0 369.8L908.0 370.2L909.0 370.1L910.0 370.2L911.0 370.1L912.0 370.3L913.0 370.2L914.0 369.9L915.0 369.8L916.0 370.2L917.0 370.0L918.0 370.2L919.0 370.0L920.0 370.2L921.0 370.0L922.0 370.2L923.0 370.0L924.0 370.1L925.0 370.0L926.0 370.1L927.0 370.2L928.0 370.3L929.0 370.2L930.0 370.3L931.0 369.8L932.0 370.1L933.0 369.9L934.0 370.1L935.0 369.9L936.0 370.2L937.0 369.9L938.0 370.2L939.0 369.8L940.0 369.9L941.0 369.9L942.0 370.1L943.0 369.9L944.0 370.1L945.0 369.8L946.0 369.9L947.0 370.0L948.0 370.1L949.0 370.0L950.0 370.2L951.0 369.9L952.0 370.2L953.0 370.0L954.0 369.9L955.0 369.8L956.0 370.2L957.0 370.1L958.0 370.2L959.0 370.1L960.0 370.2L961.0 370.1L962.0 370.2L963.0 370.0L964.0 370.2L965.0 370.0L966.0 370.2L967.0 370.0L968.0 370.1L969.0 370.0L970.0 370.1L971.0 370.0L972.0 370.1L973.0 369.9L974.0 370.2L975.0 369.9L976.0 370.2L977.0 370.1L978.0 370.2L979.0 370.0L980.0 370.2L981.0 370.1L982.0 370.2L983.0 369.9L984.0 370.2L985.0 369.9L986.0 370.2L987.0 370.0L988.0 370.2L989.0 370.0L990.0 370.3L991.0 370.0L992.0 370.3L993.0 370.2L994.0 370.4L995.0 369.9L996.0 370.0L997.0 369.8L998.0 370.2L999.0 369.9L1000.0 370.2L1001.0 370.0L1002.0 370.2L1003.0 369.9L1004.0 370.2L1005.0 370.0L1006.0 370.2L1007.0 370.0L1008.0 370.2L1009.0 370.0L1010.0 370.1L1011.0 370.0L1012.0 370.1L1013.0 370.0L1014.0 370.4L1015.0 370.0L1016.0 370.3L1017.0 370.0L1018.0 370.3L1019.0 370.1L1020.0 370.2L1021.0 370.1L1022.0 370.0L1023.0 369.9L1024.0 370.4L1025.0 370.2L1026.0 370.2L1027.0 370.0L1028.0 370.2L1029.0 370.0L1030.0 370.2L1031.0 370.1L1032.0 370.2L1033.0 370.1L1034.0 370.3L1035.0 370.1L1036.0 370.3L1037.0 369.8L1038.0 369.9L1039.0 370.0L1040.0 370.2L1041.0 370.0L1042.0 370.2L1043.0 370.0L1044.0 370.2L1045.0 370.1L1046.0 370.2L1047.0 370.1L1048.0 370.2L1049.0 370.1L1050.0 370.3L1051.0 370.1L1052.0 370.5L1053.0 370.4L1054.0 370.2L1055.0 370.0L1056.0 370.2L1057.0 370.0L1058.0 370.3L1059.0 370.0L1060.0 370.3L1061.0 370.1L1062.0 370.3L1063.0 370.0L1064.0 370.3L1065.0 370.0L1066.0 370.3L1067.0 369.9L1068.0 370.0L1069.0 370.3L1070.0 370.3L1071.0 370.1L1072.0 370.3L1073.0 369.9L1074.0 370.0L1075.0 370.1L1076.0 370.3L1077.0 370.1L1078.0 370.3L1079.0 370.1L1080.0 370.3L1081.0 370.1L1082.0 370.2L1083.0 370.1L1084.0 370.2L1085.0 370.4L1086.0 370.4L1087.0 370.1L1088.0 370.3L1089.0 370.1L1090.0 370.3L1091.0 370.2L1092.0 370.3L1093.0 370.4L1094.0 370.5L1095.0 370.4L1096.0 370.5L1097.0 370.1L1098.0 370.3L1099.0 370.1L1100.0 370.3L1101.0 370.1L1102.0 370.4L1103.0 369.9L1104.0 370.0L1105.0 370.2L1106.0 370.3L1107.0 370.2L1108.0 370.3L1109.0 370.1L1110.0 370.3L1111.0 370.1L1112.0 370.3L1113.0 370.1L1114.0 370.4L1115.0 370.1L1116.0 370.3L1117.0 370.2L1118.0 370.3L1119.0 369.3L1120.0 369.4L1121.0 369.3L1122.0 369.4L1123.0 369.2L1124.0 369.2L1125.0 369.3L1126.0 369.5L1127.0 369.3L1128.0 369.4L1129.0 369.2L1130.0 369.4L1131.0 369.3L1132.0 369.5L1133.0 369.3L1134.0 369.3L1135.0 370.2L1136.0 370.3L1137.0 370.2L1138.0 370.2L1139.0 370.1L1140.0 370.3L1141.1 370.2L1142.1 370.4L1143.1 370.0L1144.1 370.1L1145.1 370.2L1146.1 370.3L1147.1 370.2L1148.1 370.4L1149.1 370.2L1150.1 370.4L1151.2 370.2L1152.2 370.5L1153.2 370.3L1154.2 370.3L1155.2 370.2L1156.2 370.4L1157.2 370.2L1158.2 370.3L1159.2 370.2L1160.2 370.2L1161.2 370.1L1162.3 370.2L1163.3 370.2L1164.3 370.4L1165.3 370.2L1166.3 370.5L1167.3 370.2L1168.3 370.4L1169.3 370.2L1170.3 370.5L1171.3 370.2L1172.4 370.5L1173.4 370.2L1174.4 370.4L1175.4 370.4L1176.4 370.4L1177.4 370.3" stroke="#3953a4"/>
</g>
<g>
<text transform="translate(199.80 1258.20) scale(1 1.015)" text-anchor="middle" font-size="54px" fill="#48494b" stroke="#48494b" stroke-width="0.40">0</text>
<text transform="translate(416.60 1258.20) scale(1 1.015)" text-anchor="middle" font-size="54px" fill="#48494b" stroke="#48494b" stroke-width="0.40">20</text>
<text transform="translate(634.15 1258.20) scale(1 1.015)" text-anchor="middle" font-size="54px" fill="#48494b" stroke="#48494b" stroke-width="0.40">40</text>
<text transform="translate(851.50 1258.20) scale(1 1.015)" text-anchor="middle" font-size="54px" fill="#48494b" stroke="#48494b" stroke-width="0.40">60</text>
<text transform="translate(1069.00 1258.20) scale(1 1.015)" text-anchor="middle" font-size="54px" fill="#48494b" stroke="#48494b" stroke-width="0.40">80</text>
<text transform="translate(191.20 183.39) scale(1 1.015)" text-anchor="end" font-size="54px" fill="#48494b" stroke="#48494b" stroke-width="0.40">0.5</text>
<text transform="translate(191.20 388.48) scale(1 1.015)" text-anchor="end" font-size="54px" fill="#48494b" stroke="#48494b" stroke-width="0.40">0</text>
<text transform="translate(191.20 593.57) scale(1 1.015)" text-anchor="end" font-size="54px" fill="#48494b" stroke="#48494b" stroke-width="0.40">–0.5</text>
<text transform="translate(193.55 798.66) scale(1 1.015)" text-anchor="end" font-size="54px" fill="#48494b" stroke="#48494b" stroke-width="0.40">1</text>
<path d="M164.36 793.66h12.50v6.50h-12.50zM182.13 793.66h11.00v6.50h-11.00z" fill="#ffffff"/>
<text transform="translate(161.17 798.66) scale(1 1.015)" text-anchor="end" font-size="54px" fill="#48494b" stroke="#48494b" stroke-width="0.40">–</text>
<text transform="translate(148.51 1003.76) scale(1 1.015)" text-anchor="end" font-size="54px" fill="#48494b" stroke="#48494b" stroke-width="0.40">1</text>
<path d="M119.32 998.76h12.50v6.50h-12.50zM137.09 998.76h11.00v6.50h-11.00z" fill="#ffffff"/>
<text transform="translate(191.20 1003.76) scale(1 1.015)" text-anchor="end" font-size="54px" fill="#48494b" stroke="#48494b" stroke-width="0.40">.5</text>
<text transform="translate(116.13 1003.76) scale(1 1.015)" text-anchor="end" font-size="54px" fill="#48494b" stroke="#48494b" stroke-width="0.40">–</text>
<text transform="translate(191.20 1208.85) scale(1 1.015)" text-anchor="end" font-size="54px" fill="#48494b" stroke="#48494b" stroke-width="0.40">–2</text>
</g>
<text x="688.20" y="1335.50" text-anchor="middle" font-size="59.4px" fill="#48494b">degree/°</text>
<text transform="translate(68.00 634.50) rotate(-90)" text-anchor="middle" font-size="59.4px" fill="#48494b">force/N</text>
<text x="688.50" y="55.80" text-anchor="middle" font-size="60px" fill="#231f20">Admittance control(90°)</text>
<rect x="957.5" y="101.5" width="199.0" height="238" fill="#ffffff" stroke="#48494b" stroke-width="1"/>
<line x1="965.00" y1="143.50" x2="1042.00" y2="143.50" stroke="#ed1c24" stroke-width="5.00"/>
<text transform="translate(1046.50 150.80) scale(1 1.015)" text-anchor="start" font-size="45px" fill="#231f20" stroke="#231f20" stroke-width="0.40">X</text>
<text x="1077.00" y="171.75" font-size="35.0px" fill="#231f20">Adm</text>
<line x1="965.00" y1="220.50" x2="1042.00" y2="220.50" stroke="#62bb46" stroke-width="5.00"/>
<text transform="translate(1045.90 229.00) scale(1 1.015)" text-anchor="start" font-size="45px" fill="#231f20" stroke="#231f20" stroke-width="0.40">Y</text>
<text x="1077.00" y="249.80" font-size="35.0px" fill="#231f20">Adm</text>
<line x1="965.00" y1="297.50" x2="1042.00" y2="297.50" stroke="#3953a4" stroke-width="5.00"/>
<text transform="translate(1046.50 305.10) scale(1 1.015)" text-anchor="start" font-size="45px" fill="#231f20" stroke="#231f20" stroke-width="0.40">Z</text>
<text x="1072.70" y="325.70" font-size="35.0px" fill="#231f20">Adm</text>
</g>
<g>
<path d="M1704.5 80.5V1188.5M1921.5 80.5V1188.5M2139.5 80.5V1188.5M2356.5 80.5V1188.5M1487.5 162.5H2465.5M1487.5 367.5H2465.5M1487.5 572.5H2465.5M1487.5 777.5H2465.5M1487.5 982.5H2465.5" stroke="#e0e1e2" stroke-width="1" fill="none"/>
<rect x="1487.5" y="80.5" width="978.0" height="1108.0" fill="none" stroke="#48494b" stroke-width="1"/>
<path d="M1704.5 1188.5v-11.5M1704.5 80.5v11.5M1921.5 1188.5v-11.5M1921.5 80.5v11.5M2139.5 1188.5v-11.5M2139.5 80.5v11.5M2356.5 1188.5v-11.5M2356.5 80.5v11.5M1487.5 162.5h11.5M2465.5 162.5h-11.5M1487.5 367.5h11.5M2465.5 367.5h-11.5M1487.5 572.5h11.5M2465.5 572.5h-11.5M1487.5 777.5h11.5M2465.5 777.5h-11.5M1487.5 982.5h11.5M2465.5 982.5h-11.5" stroke="#48494b" stroke-width="1" fill="none"/>
<clipPath id="clip1"><rect x="1487.0" y="80.0" width="979.0" height="1109.0"/></clipPath>
<g clip-path="url(#clip1)" fill="none" stroke-width="4.80" stroke-linejoin="round" stroke-linecap="butt">
<path d="M1699.5 367.7L1700.0 368.1L1700.5 367.8L1701.0 368.1L1701.5 367.8L1701.7 370.2L1701.8 371.9L1702.0 374.1L1702.1 375.6L1702.3 377.8L1702.4 379.6L1702.6 381.8L1702.8 383.6L1702.9 385.8L1703.1 387.6L1703.2 389.7L1703.4 391.6L1703.5 393.8L1703.7 395.9L1703.9 398.2L1704.0 399.9L1704.2 402.2L1704.3 403.9L1704.5 406.2L1704.7 407.9L1704.8 410.3L1705.0 411.9L1705.1 414.2L1705.3 415.9L1705.4 418.2L1705.6 419.9L1705.7 422.3L1705.7 424.1L1705.8 426.2L1705.9 428.1L1705.9 430.2L1706.0 432.1L1706.1 434.2L1706.1 436.1L1706.2 438.2L1706.3 440.0L1706.3 442.1L1706.4 444.0L1706.5 446.1L1706.5 448.0L1706.6 450.1L1706.7 452.0L1706.7 454.1L1706.8 455.9L1706.8 458.0L1706.9 459.9L1707.0 462.0L1707.0 463.9L1707.1 466.0L1707.2 467.5L1707.2 469.7L1707.3 471.4L1707.4 473.7L1707.4 475.4L1707.5 477.7L1707.6 479.4L1707.6 481.7L1707.7 483.3L1707.8 485.6L1707.8 487.3L1707.9 489.6L1708.0 491.3L1708.0 493.6L1708.1 495.3L1708.2 497.5L1708.2 499.2L1708.3 501.5L1708.4 503.3L1708.4 505.6L1708.5 507.2L1708.6 509.5L1708.6 511.2L1708.7 513.4L1708.8 515.2L1708.8 517.7L1708.9 519.6L1709.0 521.7L1709.0 523.6L1709.1 525.7L1709.2 527.5L1709.2 529.6L1709.3 531.5L1709.3 533.6L1709.4 535.5L1709.5 537.6L1709.5 539.4L1709.6 541.6L1709.7 543.4L1709.7 545.5L1709.8 547.4L1709.9 549.5L1709.9 551.4L1710.0 553.5L1710.1 555.3L1710.1 557.5L1710.2 559.0L1710.3 561.2L1710.3 563.0L1710.4 565.2L1710.5 567.0L1710.5 569.2L1710.6 570.9L1710.7 573.2L1710.7 574.9L1710.8 577.2L1710.8 578.9L1710.9 581.2L1710.9 583.0L1711.0 585.2L1711.0 586.9L1711.1 589.1L1711.1 590.9L1711.2 593.2L1711.3 594.9L1711.3 597.2L1711.4 598.9L1711.4 601.2L1711.5 602.9L1711.5 605.2L1711.6 606.9L1711.6 609.2L1711.7 610.9L1711.7 613.1L1711.8 615.0L1711.9 617.2L1711.9 618.9L1712.0 621.2L1712.0 623.0L1712.1 625.2L1712.1 626.9L1712.2 629.2L1712.2 630.9L1712.3 633.2L1712.3 634.6L1712.4 636.7L1712.4 638.6L1712.5 640.7L1712.6 642.6L1712.6 644.7L1712.7 646.6L1712.7 648.7L1712.8 650.6L1712.8 652.7L1712.9 654.6L1712.9 656.7L1713.0 658.6L1713.0 660.7L1713.1 662.6L1713.2 664.7L1713.2 666.6L1713.3 668.7L1713.3 670.5L1713.4 672.7L1713.4 674.6L1713.5 676.7L1713.5 678.6L1713.6 680.7L1713.6 682.9L1713.7 685.1L1713.8 686.9L1713.8 689.1L1713.9 690.9L1713.9 693.1L1714.0 694.9L1714.0 697.1L1714.1 698.9L1714.1 701.1L1714.2 702.9L1714.2 705.1L1714.3 706.9L1714.4 709.1L1714.4 710.9L1714.5 713.1L1714.5 714.9L1714.6 717.1L1714.6 718.9L1714.7 721.1L1714.7 722.9L1714.8 725.1L1714.8 726.9L1714.9 729.1L1714.9 730.9L1715.0 733.1L1715.1 734.9L1715.1 737.1L1715.2 738.9L1715.2 741.1L1715.3 742.9L1715.3 745.1L1715.4 746.9L1715.4 749.1L1715.5 750.9L1715.5 753.1L1715.6 754.9L1715.7 757.1L1715.7 758.9L1715.8 761.1L1715.8 762.9L1715.9 765.1L1715.9 766.9L1716.0 769.1L1716.0 770.9L1716.1 773.1L1716.1 774.9L1716.2 777.1L1716.3 778.9L1716.4 781.0L1716.6 782.8L1716.7 785.0L1716.8 786.7L1716.9 788.9L1717.0 790.6L1717.2 792.9L1717.3 794.5L1717.4 796.7L1717.5 798.5L1717.6 800.7L1717.7 802.4L1717.9 804.6L1718.0 806.3L1718.1 808.6L1718.2 810.2L1718.3 812.5L1718.5 814.2L1718.6 816.4L1718.7 818.1L1718.8 820.3L1718.9 822.1L1719.0 824.3L1719.2 826.0L1719.3 828.2L1719.4 829.9L1719.5 832.3L1719.6 834.0L1719.8 836.3L1719.9 838.0L1720.0 840.2L1720.3 841.8L1720.5 844.1L1720.8 845.8L1721.1 848.0L1721.3 849.7L1721.6 851.9L1721.9 853.6L1722.1 857.4L1722.4 856.7L1722.7 861.1L1722.9 860.6L1723.2 865.5L1723.5 864.6L1723.7 869.3L1724.0 868.8L1724.3 873.3L1724.5 872.3L1724.9 876.8L1725.4 876.6L1725.8 880.7L1726.2 880.9L1726.6 884.9L1727.0 885.1L1727.4 889.3L1727.8 889.3L1728.2 892.6L1728.7 892.0L1729.1 896.0L1729.5 895.4L1729.9 899.7L1730.3 903.5L1730.8 905.8L1731.2 906.0L1731.7 907.9L1732.2 908.2L1732.7 910.3L1733.1 906.8L1733.6 910.8L1734.1 910.4L1734.6 914.7L1735.1 912.4L1735.6 919.8L1736.1 917.2L1736.6 923.3L1737.1 918.0L1737.6 917.8L1738.1 916.1L1738.5 919.6L1739.1 917.4L1739.6 927.3L1740.1 923.0L1740.6 929.2L1741.1 923.2L1741.6 930.5L1742.2 925.2L1742.7 930.3L1743.0 926.9L1743.3 933.7L1743.7 931.9L1744.0 938.0L1744.3 935.7L1744.5 938.8L1744.7 931.4L1744.9 935.3L1745.1 927.2L1745.4 930.9L1745.6 923.0L1745.8 927.1L1746.0 920.0L1746.5 923.5L1747.1 916.9L1747.6 923.4L1748.1 917.7L1748.6 926.2L1749.0 919.9L1749.5 928.6L1750.0 933.4L1750.4 937.2L1750.9 935.2L1751.4 937.7L1751.9 927.9L1752.4 930.8L1752.9 926.5L1753.4 930.3L1753.9 924.7L1754.4 929.5L1754.9 924.1L1755.4 921.7L1755.9 918.3L1756.3 922.6L1756.8 924.3L1757.3 932.4L1757.7 927.4L1758.2 933.4L1758.7 929.9L1759.2 935.7L1759.7 929.4L1760.2 933.9L1760.7 928.5L1761.2 933.0L1761.7 927.2L1762.2 933.3L1762.7 927.9L1763.2 932.1L1763.7 927.3L1764.2 931.3L1764.7 926.1L1765.3 928.5L1765.8 924.6L1766.3 927.4L1766.7 923.0L1767.2 926.4L1767.7 916.5L1768.2 924.4L1768.7 915.3L1769.2 922.7L1769.7 916.5L1770.2 921.4L1770.7 914.6L1770.8 922.4L1770.9 919.7L1771.1 927.2L1771.2 923.6L1771.3 931.5L1771.4 927.6L1771.5 934.3L1771.7 930.7L1771.8 938.3L1771.9 936.5L1772.0 942.1L1772.1 939.8L1772.2 945.5L1772.4 943.9L1772.5 950.4L1772.6 947.5L1772.7 953.7L1772.8 950.9L1772.9 958.3L1773.1 955.7L1773.2 962.2L1773.7 954.5L1774.2 958.1L1774.7 951.9L1775.2 955.1L1775.8 947.7L1776.3 945.1L1776.8 941.1L1777.3 941.7L1777.8 938.5L1778.3 940.6L1778.8 941.6L1779.3 949.1L1779.8 941.6L1780.3 947.3L1780.8 938.7L1781.3 936.6L1781.8 932.2L1782.3 934.9L1782.4 929.8L1782.5 930.8L1782.6 925.9L1782.8 926.6L1782.9 924.9L1783.0 929.8L1783.2 921.7L1783.3 926.1L1783.4 917.7L1783.6 920.6L1783.7 913.8L1783.8 916.7L1783.9 910.0L1784.1 914.2L1784.2 905.5L1784.3 910.6L1784.5 900.7L1784.6 904.7L1784.7 896.2L1785.2 905.3L1785.7 902.3L1786.1 909.2L1786.6 908.7L1787.1 917.5L1787.6 912.7L1788.0 921.2L1788.5 916.2L1789.0 922.5L1789.5 918.0L1790.0 920.9L1790.5 917.2L1791.0 922.9L1791.5 919.8L1792.0 925.1L1792.5 923.6L1793.0 929.8L1793.5 924.4L1793.9 929.7L1794.4 923.0L1794.9 928.8L1795.4 922.4L1795.9 928.3L1796.3 921.3L1796.8 927.9L1797.3 920.4L1797.8 916.5L1798.3 914.2L1798.7 916.2L1799.2 918.7L1799.7 921.3L1800.2 915.3L1800.7 917.9L1801.2 913.5L1801.7 916.4L1802.2 909.9L1802.7 914.7L1803.2 908.4L1803.7 910.9L1804.2 906.7L1804.7 913.6L1805.2 909.7L1805.7 914.3L1806.2 911.7L1806.7 917.0L1807.2 912.7L1807.7 911.4L1808.1 909.9L1808.6 913.6L1809.1 924.1L1809.7 927.7L1810.2 910.4L1810.7 914.0L1811.2 911.4L1811.7 923.7L1812.2 918.8L1812.7 925.2L1813.2 918.6L1813.7 924.4L1814.2 919.5L1814.7 924.3L1815.2 920.1L1815.7 925.1L1816.2 917.9L1816.7 922.6L1817.2 917.9L1817.7 923.1L1818.2 916.3L1818.7 921.0L1819.2 915.6L1819.7 913.5L1820.2 909.3L1820.7 912.7L1821.2 908.4L1821.7 912.3L1822.2 909.4L1822.7 913.6L1823.2 911.7L1823.7 914.4L1824.2 910.3L1824.8 913.5L1825.3 911.5L1825.8 923.3L1826.3 916.2L1826.8 924.0L1827.0 920.2L1827.1 928.4L1827.3 922.7L1827.5 931.5L1827.7 927.1L1827.9 935.4L1828.1 930.8L1828.2 940.6L1828.4 937.8L1828.6 944.8L1828.8 942.1L1829.0 948.2L1829.2 946.1L1829.3 952.6L1829.5 950.5L1829.7 956.2L1829.9 954.9L1830.1 960.6L1830.6 953.9L1831.1 957.7L1831.6 952.8L1832.1 956.9L1832.6 951.2L1833.0 956.1L1833.5 952.0L1834.0 955.2L1834.5 949.9L1835.0 951.4L1835.5 947.4L1836.1 951.3L1836.6 946.5L1837.1 951.1L1837.6 945.2L1838.1 950.9L1838.6 945.2L1839.2 951.4L1839.2 943.7L1839.3 947.9L1839.4 940.0L1839.5 943.0L1839.6 935.9L1839.6 939.5L1839.7 933.1L1839.8 935.1L1839.9 928.1L1840.0 932.6L1840.1 924.1L1840.1 928.3L1840.2 920.2L1840.3 923.1L1840.4 916.0L1840.5 920.6L1840.6 912.1L1840.6 916.7L1840.7 908.9L1840.8 911.6L1841.3 907.9L1841.8 913.8L1842.2 907.3L1842.7 916.3L1843.2 909.8L1843.7 919.4L1844.2 908.6L1844.6 911.8L1845.1 909.8L1845.6 926.1L1846.1 924.3L1846.6 925.3L1847.0 920.6L1847.5 929.4L1848.0 924.6L1848.5 933.9L1848.9 925.8L1849.4 930.7L1849.9 929.5L1850.4 935.1L1850.9 935.7L1851.4 944.3L1851.9 939.5L1852.3 947.9L1852.8 943.7L1853.3 953.6L1853.8 949.1L1854.3 956.6L1854.8 951.1L1855.3 956.6L1855.8 950.0L1856.4 953.1L1856.9 947.0L1857.4 949.5L1857.9 944.5L1858.4 947.5L1858.9 941.5L1859.1 947.4L1859.3 944.9L1859.4 951.2L1859.6 949.0L1859.8 955.4L1859.9 952.7L1860.1 960.0L1860.3 956.7L1860.4 963.5L1860.6 961.2L1860.8 967.9L1860.9 965.1L1861.1 971.9L1861.3 969.0L1861.4 979.8L1861.7 975.6L1862.1 975.9L1862.4 958.8L1862.7 960.5L1863.1 955.5L1863.4 955.8L1863.7 962.5L1864.1 962.9L1864.4 958.6L1864.7 959.6L1865.0 954.0L1865.4 951.2L1865.7 944.0L1866.0 947.4L1866.4 939.5L1866.9 946.3L1867.4 940.8L1867.9 946.7L1868.4 937.3L1868.9 940.5L1869.5 937.3L1870.0 940.7L1870.5 937.3L1870.6 938.8L1870.8 933.2L1870.9 940.9L1871.0 933.8L1871.2 937.8L1871.3 928.7L1871.4 933.1L1871.6 924.1L1871.7 929.1L1871.8 921.0L1872.0 924.5L1872.1 915.7L1872.2 913.7L1872.4 908.6L1872.5 910.3L1872.6 904.5L1873.1 909.1L1873.6 907.6L1874.1 918.2L1874.5 913.5L1875.0 919.9L1875.5 916.4L1876.0 915.7L1876.5 913.1L1876.9 931.8L1877.4 929.7L1877.9 933.8L1878.4 931.3L1878.9 920.6L1879.4 918.0L1879.8 920.7L1880.3 923.2L1880.8 930.8L1881.3 923.9L1881.8 930.2L1882.2 924.6L1882.7 929.2L1883.2 923.4L1883.7 930.3L1883.8 925.1L1883.9 934.4L1884.0 928.7L1884.2 938.3L1884.3 934.0L1884.4 940.8L1884.5 936.3L1884.6 945.4L1884.7 941.3L1884.9 949.7L1885.0 946.5L1885.1 954.8L1885.2 950.0L1885.3 958.3L1885.4 953.7L1885.6 961.8L1885.7 958.1L1885.8 966.8L1885.9 960.9L1886.0 970.2L1886.2 965.4L1886.7 970.3L1887.2 963.0L1887.7 969.8L1888.2 971.7L1888.7 974.6L1889.2 970.2L1889.8 966.7L1890.3 959.4L1890.4 967.8L1890.6 962.6L1890.7 972.1L1890.8 967.7L1891.0 975.9L1891.1 971.7L1891.2 979.4L1891.4 973.9L1891.5 982.3L1891.7 979.5L1891.8 986.9L1891.9 984.8L1892.1 992.2L1892.2 988.5L1892.3 995.6L1892.5 993.6L1892.6 1001.3L1892.8 997.1L1892.9 1000.5L1893.1 991.9L1893.3 994.4L1893.5 987.0L1893.7 989.2L1893.9 983.7L1894.1 986.5L1894.3 978.8L1894.5 981.2L1894.7 975.3L1894.9 978.3L1895.1 971.4L1895.3 974.1L1895.5 967.9L1895.7 971.2L1895.9 962.7L1896.1 967.6L1896.3 957.5L1896.5 963.3L1896.7 955.2L1896.9 959.3L1897.1 949.5L1897.3 954.8L1897.5 947.4L1897.7 950.3L1898.2 945.7L1898.7 953.0L1899.2 944.0L1899.8 947.3L1900.3 951.9L1900.8 956.0L1901.3 952.7L1901.8 958.1L1902.1 952.3L1902.3 954.0L1902.6 948.5L1902.8 950.2L1903.1 941.9L1903.3 945.4L1903.6 936.7L1903.9 941.0L1904.1 932.5L1904.4 936.4L1904.6 927.6L1904.9 932.4L1905.1 922.4L1905.6 927.5L1906.1 925.9L1906.6 935.2L1907.1 930.8L1907.6 936.2L1908.1 932.0L1908.6 940.5L1909.1 935.6L1909.6 944.3L1910.1 939.6L1910.6 946.1L1911.1 942.8L1911.6 949.9L1912.1 943.6L1912.6 952.2L1913.2 941.8L1913.7 946.2L1914.2 943.9L1914.7 945.1L1915.1 941.2L1915.6 942.5L1916.1 951.5L1916.5 954.0L1917.0 950.3L1917.5 938.4L1918.0 937.7L1918.4 942.3L1918.9 944.5L1919.4 952.5L1919.8 947.2L1920.3 956.0L1920.8 951.9L1921.3 958.1L1921.8 951.9L1922.2 958.6L1922.7 955.0L1923.2 960.0L1923.7 955.8L1924.2 960.3L1924.6 957.2L1925.1 962.0L1925.6 955.5L1926.1 958.9L1926.6 956.9L1927.1 967.3L1927.6 964.1L1928.1 970.1L1928.6 966.7L1929.1 971.7L1929.7 973.9L1930.2 978.3L1930.7 976.9L1931.0 982.1L1931.3 972.5L1931.7 981.7L1932.0 977.3L1932.3 986.0L1932.7 981.8L1933.0 988.6L1933.3 985.8L1933.7 992.5L1934.0 990.0L1934.4 991.9L1934.8 986.2L1935.2 988.4L1935.6 982.4L1936.0 991.0L1936.5 986.2L1936.9 987.3L1937.3 981.5L1937.7 981.8L1938.1 976.7L1938.5 978.3L1938.9 964.3L1939.4 971.8L1939.9 965.1L1940.4 970.4L1940.9 964.7L1941.4 971.0L1941.9 965.6L1942.4 972.0L1942.9 963.4L1943.4 970.2L1943.9 962.7L1944.0 967.8L1944.1 960.2L1944.2 965.0L1944.3 955.4L1944.4 959.9L1944.5 951.7L1944.6 956.4L1944.8 948.8L1944.9 949.7L1945.0 943.3L1945.1 945.4L1945.2 939.2L1945.6 945.6L1945.9 943.1L1946.3 950.1L1946.7 955.1L1947.1 959.6L1947.4 958.9L1947.8 957.5L1948.2 955.5L1948.5 961.0L1948.9 958.4L1949.3 966.5L1949.7 960.7L1949.8 969.4L1949.9 965.1L1950.1 974.3L1950.2 968.4L1950.4 978.6L1950.5 973.9L1950.7 982.0L1950.8 978.1L1951.0 985.5L1951.1 981.4L1951.3 988.6L1951.8 983.0L1952.3 988.6L1952.7 985.8L1953.2 990.0L1953.7 985.0L1954.2 989.4L1954.7 983.3L1955.1 988.3L1955.6 982.0L1956.1 987.8L1956.6 981.3L1957.1 988.4L1957.5 980.5L1957.9 980.7L1958.3 973.3L1958.7 976.6L1959.1 969.7L1959.5 972.1L1959.9 966.2L1960.3 968.2L1960.7 960.6L1961.1 964.6L1961.5 953.2L1961.9 953.8L1962.3 948.7L1962.8 952.5L1963.3 957.7L1963.8 962.6L1964.3 960.0L1964.8 964.5L1965.2 962.3L1965.7 969.5L1966.2 963.8L1966.7 970.5L1967.2 966.2L1967.7 972.9L1968.1 969.1L1968.6 973.2L1969.1 970.3L1969.6 975.6L1970.1 971.4L1970.6 968.8L1971.2 966.5L1971.7 971.0L1972.2 973.9L1972.7 979.1L1973.2 975.7L1973.7 981.3L1974.2 977.0L1974.7 984.6L1975.2 979.7L1975.7 984.8L1976.2 976.7L1976.7 981.2L1977.2 974.6L1977.7 979.5L1978.2 973.9L1978.7 982.4L1979.2 978.5L1979.7 977.8L1980.2 970.3L1980.7 978.1L1981.2 972.0L1981.6 980.6L1982.1 975.4L1982.6 982.4L1983.1 977.1L1983.6 988.2L1984.1 983.6L1984.6 991.1L1985.1 985.9L1985.6 991.0L1986.1 985.8L1986.6 991.7L1987.0 978.7L1987.5 981.9L1988.0 978.2L1988.5 994.1L1989.0 990.8L1989.4 994.4L1989.9 976.8L1990.4 979.1L1990.9 976.2L1991.0 981.4L1991.2 980.3L1991.4 994.5L1991.5 990.1L1991.7 999.4L1991.9 992.8L1992.0 1002.2L1992.2 997.8L1992.4 1006.9L1992.5 1000.9L1993.0 1007.9L1993.6 998.1L1994.1 1003.5L1994.6 994.8L1995.1 998.0L1995.6 990.9L1996.1 994.8L1996.7 987.9L1997.1 993.7L1997.5 991.1L1997.9 1004.0L1998.3 1003.5L1998.7 1008.1L1999.1 1007.2L1999.5 1001.1L2000.0 999.7L2000.4 1004.3L2000.8 1004.1L2001.2 1013.9L2001.6 1009.0L2001.8 1014.6L2002.0 1005.0L2002.2 1008.8L2002.3 1001.9L2002.5 1005.2L2002.7 997.7L2002.9 1002.3L2003.1 993.0L2003.3 998.6L2003.7 994.2L2004.2 1002.4L2004.6 996.3L2005.1 1005.8L2005.5 1002.6L2006.0 1009.5L2006.5 1007.1L2006.9 1013.0L2007.4 1009.5L2007.9 1008.7L2008.4 1006.7L2008.9 1010.8L2009.4 1011.5L2010.0 1020.5L2010.5 1014.2L2011.0 1022.2L2011.5 1015.7L2011.6 1020.6L2011.6 1012.5L2011.7 1017.1L2011.8 1008.8L2011.8 1013.3L2011.9 1004.2L2011.9 1010.3L2012.0 1000.8L2012.1 1005.9L2012.1 996.8L2012.2 1000.9L2012.3 991.4L2012.3 997.0L2012.8 989.4L2013.3 993.6L2013.8 991.5L2014.3 994.6L2014.8 993.5L2015.3 1002.5L2015.8 999.0L2016.3 1004.1L2016.8 1000.7L2017.3 1008.6L2017.7 1000.4L2018.2 1007.0L2018.7 997.4L2019.2 1002.3L2019.7 992.2L2020.2 998.4L2020.6 991.0L2021.1 995.5L2021.6 986.0L2022.1 992.0L2022.6 983.5L2023.0 988.4L2023.2 984.3L2023.3 992.9L2023.4 988.1L2023.5 997.2L2023.6 990.7L2023.7 999.2L2023.9 994.9L2024.4 1000.6L2024.9 993.3L2025.3 998.2L2025.8 988.9L2026.3 994.4L2026.8 986.6L2027.3 988.3L2027.8 981.4L2028.3 985.7L2028.8 977.8L2029.3 981.5L2029.6 981.2L2029.9 989.5L2030.2 985.6L2030.4 993.5L2030.7 988.6L2031.0 995.8L2031.3 992.0L2031.8 996.0L2032.3 989.7L2032.8 993.2L2033.3 987.8L2033.9 992.1L2034.4 991.5L2034.9 992.9L2035.4 989.0L2035.9 993.0L2036.4 992.6L2036.9 996.0L2037.3 984.7L2037.8 992.6L2038.3 986.1L2038.8 995.7L2039.3 989.3L2039.7 996.0L2040.2 988.9L2040.7 993.6L2041.2 989.9L2041.7 996.9L2042.2 992.4L2042.7 1000.4L2043.2 994.3L2043.8 1003.5L2044.3 1006.3L2044.8 1011.1L2045.3 1009.1L2045.8 1008.0L2046.3 1004.9L2046.9 1009.6L2047.4 1005.2L2047.9 1009.6L2048.4 1006.6L2048.9 1009.1L2049.4 1005.9L2049.6 1011.8L2049.7 1008.7L2049.9 1016.9L2050.0 1012.6L2050.2 1019.6L2050.4 1017.7L2050.5 1023.7L2050.7 1021.1L2050.8 1028.2L2051.0 1025.2L2051.1 1031.3L2051.3 1029.3L2051.4 1035.1L2051.6 1033.6L2051.7 1041.7L2051.9 1037.6L2052.4 1044.1L2052.8 1037.7L2053.3 1044.3L2053.8 1038.7L2054.3 1045.4L2054.7 1039.4L2055.2 1045.6L2055.4 1041.3L2055.7 1050.2L2055.9 1045.9L2056.1 1053.0L2056.3 1049.5L2056.6 1058.0L2056.8 1053.1L2057.0 1060.8L2057.2 1056.8L2057.5 1064.8L2057.7 1060.0L2058.0 1067.7L2058.3 1063.1L2058.7 1071.1L2059.0 1068.6L2059.3 1076.2L2059.7 1071.0L2060.0 1080.9L2060.3 1074.6L2060.6 1083.8L2060.9 1077.5L2061.2 1079.7L2061.6 1073.2L2061.9 1076.2L2062.2 1068.8L2062.5 1072.7L2062.8 1064.8L2063.1 1067.9L2063.4 1061.0L2063.7 1062.3L2064.0 1056.6L2064.3 1058.6L2064.4 1052.9L2064.5 1055.0L2064.7 1048.9L2064.8 1050.3L2064.9 1045.0L2065.1 1046.3L2065.2 1040.3L2065.3 1042.0L2065.5 1037.1L2065.6 1038.8L2065.7 1032.6L2065.9 1034.9L2066.0 1029.1L2066.1 1031.0L2066.3 1024.5L2066.4 1027.0L2066.5 1017.2L2066.6 1018.3L2066.8 1012.7L2066.9 1013.7L2067.0 1009.2L2067.2 1010.1L2067.3 1004.7L2067.4 1006.4L2067.6 1001.6L2067.9 1008.1L2068.2 1003.3L2068.6 1004.7L2068.9 999.1L2069.2 1001.1L2069.5 995.2L2069.9 996.6L2070.2 991.5L2070.5 986.3L2070.9 981.5L2071.2 982.4L2071.5 977.5L2071.9 986.9L2072.2 977.8L2072.5 981.3L2073.0 977.5L2073.5 985.3L2073.9 981.3L2074.4 992.7L2074.9 992.1L2075.3 995.6L2075.8 996.1L2076.3 996.2L2076.8 994.5L2077.2 999.7L2077.7 998.0L2078.2 1004.1L2078.6 1001.9L2079.1 1007.9L2079.6 1005.0L2080.1 1009.9L2080.6 1006.8L2081.1 1011.9L2081.6 1011.2L2082.1 1013.7L2082.6 1008.7L2083.1 1011.6L2083.6 1010.6L2084.1 1013.6L2084.5 1013.7L2085.0 1016.1L2085.5 1014.4L2086.0 1017.5L2086.5 1014.6L2087.0 1016.1L2087.5 1012.3L2088.0 1014.4L2088.5 1009.9L2089.0 1011.4L2089.4 1009.7L2089.9 1012.8L2090.4 1010.5L2090.9 1014.3L2091.4 1010.6L2091.9 1013.6L2092.3 1011.3L2092.8 1014.5L2093.3 1012.1L2093.8 1014.8L2094.3 1012.7L2094.7 1018.8L2095.2 1017.2L2095.7 1019.1L2096.2 1017.3L2096.7 1012.4L2097.2 1011.2L2097.7 1012.5L2098.2 1010.8L2098.7 1016.0L2099.2 1013.7L2099.7 1016.4L2100.1 1015.8L2100.5 1021.0L2100.9 1019.8L2101.3 1024.3L2101.7 1022.3L2102.2 1028.9L2102.6 1026.4L2103.0 1032.7L2103.5 1029.0L2104.0 1035.0L2104.5 1031.0L2105.0 1036.1L2105.5 1032.7L2106.0 1037.4L2106.4 1033.7L2106.9 1038.0L2107.4 1035.8L2107.9 1039.3L2108.4 1036.7L2108.9 1040.9L2109.4 1038.1L2109.9 1041.9L2110.4 1039.0L2110.9 1042.7L2111.4 1039.6L2111.9 1043.2L2112.4 1040.2L2112.9 1043.6L2113.0 1042.5L2113.2 1047.4L2113.3 1045.8L2113.4 1051.5L2113.6 1048.6L2113.7 1054.4L2114.1 1048.6L2114.4 1050.6L2114.8 1045.3L2115.2 1046.6L2115.6 1040.4L2115.9 1042.3L2116.3 1038.2L2116.7 1037.9L2117.1 1038.3L2117.5 1042.7L2117.9 1046.4L2118.3 1050.1L2118.7 1050.8L2119.1 1050.3L2119.5 1049.4L2120.0 1051.1L2120.5 1047.2L2121.0 1049.6L2121.5 1044.3L2122.0 1045.9L2122.4 1041.3L2122.9 1043.1L2123.4 1041.1L2123.9 1041.5L2124.4 1038.1L2124.8 1039.3L2125.1 1037.8L2125.5 1042.9L2125.8 1041.5L2126.2 1047.0L2126.5 1046.0L2126.9 1050.2L2127.4 1049.4L2127.9 1053.6L2128.4 1052.7L2129.0 1057.0L2129.5 1056.2L2130.0 1060.3L2130.5 1059.3L2131.0 1064.4L2131.2 1059.5L2131.4 1061.3L2131.6 1055.4L2131.8 1057.2L2131.9 1050.6L2132.1 1052.9L2132.3 1046.7L2132.5 1048.5L2132.7 1043.8L2133.2 1047.1L2133.7 1043.8L2134.2 1047.7L2134.7 1043.3L2135.2 1047.6L2135.8 1043.2L2136.3 1045.9L2136.8 1043.1L2137.3 1046.3L2137.8 1045.2L2138.3 1048.4L2138.9 1045.2L2139.4 1044.1L2139.9 1042.8L2140.4 1044.6L2140.9 1042.6L2141.0 1045.4L2141.2 1040.2L2141.3 1041.4L2141.4 1036.0L2141.6 1037.5L2141.7 1032.2L2141.8 1033.7L2142.0 1028.0L2142.1 1029.5L2142.2 1024.5L2142.4 1029.6L2142.5 1028.0L2142.7 1034.3L2142.8 1032.1L2143.0 1037.4L2143.1 1036.6L2143.2 1041.8L2143.4 1040.2L2143.9 1044.4L2144.4 1039.6L2144.8 1044.9L2145.3 1040.3L2145.8 1044.6L2146.3 1039.5L2146.8 1044.0L2147.2 1039.3L2147.7 1043.4L2148.2 1036.7L2148.7 1037.7L2149.2 1035.9L2149.7 1037.7L2150.2 1036.0L2150.6 1037.4L2151.1 1038.4L2151.6 1040.4L2152.1 1038.2L2152.6 1039.7L2153.1 1037.6L2153.6 1039.1L2154.1 1036.9L2154.6 1039.9L2155.1 1038.3L2155.6 1041.0L2156.1 1039.2L2156.6 1038.4L2157.1 1037.5L2157.6 1039.4L2158.1 1038.2L2158.6 1047.1L2159.1 1045.9L2159.6 1047.0L2160.0 1040.0L2160.5 1043.8L2161.0 1039.3L2161.5 1043.3L2162.0 1039.7L2162.5 1042.8L2163.0 1035.0L2163.5 1036.5L2164.0 1034.8L2164.1 1038.3L2164.2 1038.4L2164.3 1042.0L2164.4 1042.3L2164.5 1051.7L2164.6 1050.0L2164.7 1056.6L2164.8 1055.0L2164.9 1059.5L2165.0 1057.9L2165.1 1063.9L2165.2 1062.7L2165.3 1067.4L2165.4 1066.6L2165.6 1071.8L2165.7 1070.5L2165.8 1075.5L2165.9 1074.5L2166.1 1079.2L2166.2 1077.6L2166.4 1083.3L2166.5 1077.6L2166.7 1081.6L2166.8 1081.7L2167.3 1081.5L2167.8 1077.8L2168.2 1077.9L2168.7 1074.6L2169.2 1079.5L2169.7 1074.8L2170.1 1076.2L2170.6 1071.3L2171.1 1074.4L2171.6 1071.3L2172.1 1077.5L2172.6 1075.3L2173.1 1069.4L2173.6 1067.1L2174.2 1068.7L2174.7 1066.8L2175.2 1071.0L2175.7 1068.1L2176.2 1070.5L2176.7 1067.7L2177.2 1070.1L2177.2 1065.7L2177.3 1065.7L2177.3 1061.6L2177.3 1062.3L2177.4 1057.2L2177.4 1057.7L2177.4 1054.0L2177.5 1055.2L2177.5 1050.6L2177.5 1051.4L2177.6 1046.6L2177.6 1047.3L2177.6 1041.9L2177.7 1043.5L2177.7 1038.1L2177.8 1039.8L2177.8 1034.3L2177.8 1035.5L2177.9 1029.6L2177.9 1031.8L2177.9 1026.2L2178.0 1027.8L2178.0 1022.2L2178.0 1023.5L2178.5 1020.7L2179.0 1025.6L2179.5 1022.9L2179.9 1028.5L2180.4 1025.2L2180.9 1033.3L2181.4 1032.7L2181.9 1035.3L2182.4 1030.1L2182.8 1033.8L2183.3 1032.0L2183.8 1035.9L2184.3 1033.1L2184.8 1036.6L2185.3 1034.6L2185.8 1036.9L2186.3 1034.6L2186.8 1037.3L2187.3 1035.5L2187.8 1037.8L2188.3 1035.7L2188.7 1037.8L2189.2 1037.6L2189.7 1041.3L2190.2 1040.8L2190.6 1044.0L2191.1 1043.1L2191.6 1047.1L2192.0 1046.4L2192.6 1048.2L2193.1 1045.1L2193.6 1047.8L2194.1 1045.3L2194.6 1047.9L2195.1 1044.0L2195.6 1048.1L2196.1 1043.3L2196.6 1047.7L2197.1 1043.5L2197.6 1047.0L2198.1 1043.2L2198.6 1046.1L2199.2 1041.0L2199.7 1043.1L2200.2 1038.6L2200.7 1041.4L2201.2 1035.9L2201.7 1039.3L2202.2 1033.8L2202.8 1035.8L2203.2 1032.9L2203.7 1039.4L2204.2 1038.2L2204.7 1040.5L2205.2 1038.9L2205.6 1039.3L2206.1 1036.3L2206.6 1040.1L2207.1 1036.8L2207.6 1043.5L2208.1 1042.4L2208.5 1044.3L2209.0 1036.4L2209.6 1038.4L2210.1 1043.4L2210.6 1045.4L2211.1 1044.1L2211.6 1044.2L2212.1 1042.3L2212.6 1045.3L2213.1 1043.1L2213.6 1045.6L2214.1 1043.1L2214.6 1045.6L2215.1 1043.4L2215.6 1043.5L2216.1 1041.6L2216.6 1043.0L2217.1 1043.0L2217.6 1046.5L2218.1 1043.2L2218.6 1045.7L2219.1 1042.6L2219.6 1045.1L2220.1 1042.8L2220.6 1045.2L2221.1 1042.7L2221.6 1044.9L2222.1 1042.3L2222.6 1044.9L2223.0 1040.0L2223.5 1041.6L2224.0 1039.9L2224.5 1048.9L2225.0 1046.9L2225.5 1048.7L2226.0 1042.9L2226.5 1044.7L2227.0 1042.9L2227.5 1044.9L2228.1 1043.2L2228.6 1045.5L2229.1 1043.0L2229.6 1045.8L2230.1 1043.4L2230.6 1045.8L2231.1 1039.7L2231.6 1041.2L2232.1 1039.7L2232.6 1041.3L2233.1 1040.5L2233.6 1042.4L2234.1 1040.6L2234.6 1051.6L2235.1 1050.8L2235.6 1054.1L2236.1 1048.7L2236.6 1053.9L2236.7 1052.2L2236.8 1058.6L2237.0 1056.5L2237.1 1062.6L2237.3 1060.1L2237.4 1064.7L2237.5 1063.9L2237.7 1068.3L2237.8 1067.3L2237.9 1073.1L2238.1 1072.2L2238.2 1077.4L2238.7 1072.9L2239.2 1075.5L2239.7 1072.3L2240.2 1074.6L2240.7 1071.8L2241.2 1073.1L2241.7 1070.3L2242.2 1071.5L2242.7 1067.8L2243.2 1068.6L2243.7 1066.4L2244.2 1067.8L2244.7 1065.7L2245.1 1067.6L2245.6 1064.8L2246.1 1066.6L2246.6 1064.3L2247.1 1066.0L2247.6 1063.7L2248.1 1065.0L2248.3 1061.1L2248.4 1061.3L2248.5 1057.5L2248.7 1057.3L2248.8 1053.4L2248.9 1053.5L2249.1 1049.6L2249.2 1049.6L2249.4 1046.0L2249.5 1045.8L2249.6 1042.0L2249.8 1041.9L2250.2 1041.0L2250.7 1044.2L2251.2 1043.2L2251.7 1046.1L2252.2 1044.3L2252.7 1047.0L2253.1 1046.0L2253.6 1048.3L2254.1 1047.6L2254.6 1050.1L2255.1 1049.5L2255.5 1051.8L2256.0 1048.8L2256.5 1049.2L2257.0 1045.9L2257.5 1046.1L2258.0 1043.2L2258.5 1044.9L2259.0 1043.0L2259.5 1045.1L2260.0 1043.0L2260.5 1045.3L2261.0 1043.3L2261.5 1046.4L2262.0 1044.5L2262.5 1046.2L2263.0 1044.8L2263.5 1046.3L2264.0 1044.6L2264.4 1047.0L2264.9 1043.2L2265.4 1044.1L2265.9 1043.3L2266.4 1047.3L2266.9 1045.5L2267.4 1047.6L2267.9 1045.7L2268.4 1047.4L2268.9 1045.6L2269.4 1047.8L2269.9 1046.1L2270.4 1048.2L2270.9 1046.0L2271.4 1048.6L2271.9 1047.1L2272.4 1048.5L2272.9 1047.5L2273.4 1049.1L2273.9 1047.9L2274.4 1049.4L2274.9 1047.1L2275.4 1048.9L2275.9 1047.2L2276.4 1049.3L2276.9 1047.6L2277.4 1049.6L2277.9 1047.6L2278.4 1049.9L2279.0 1048.0L2279.5 1050.1L2279.9 1049.0L2280.4 1050.9L2280.9 1049.7L2281.4 1051.7L2281.9 1050.1L2282.4 1051.3L2282.9 1050.5L2283.4 1051.7L2283.9 1050.9L2284.4 1050.4L2284.9 1049.8L2285.4 1051.0L2285.9 1051.4L2286.4 1054.0L2286.9 1051.9L2287.4 1054.2L2287.9 1052.3L2288.4 1054.1L2288.9 1052.6L2289.3 1054.7L2289.9 1053.0L2290.4 1051.8L2290.9 1051.0L2291.4 1051.7L2291.9 1052.3L2292.4 1054.5L2292.9 1052.3L2293.4 1054.0L2293.9 1052.0L2294.4 1054.1L2294.9 1051.5L2295.4 1052.7L2295.9 1051.5L2296.4 1052.4L2296.9 1051.2L2297.4 1052.1L2297.9 1051.0L2298.4 1052.0L2298.9 1050.8L2299.4 1051.7L2299.9 1050.4L2300.4 1051.3L2300.9 1050.2L2301.4 1052.7L2301.8 1051.3L2302.3 1053.9L2302.8 1052.5L2303.2 1055.2L2303.7 1054.0L2304.2 1056.5L2304.7 1054.3L2305.2 1055.9L2305.7 1054.4L2306.2 1056.1L2306.7 1054.2L2307.2 1056.8L2307.7 1055.7L2308.2 1056.7L2308.7 1052.0L2309.2 1052.5L2309.7 1053.6L2310.2 1055.1L2310.7 1053.4L2311.2 1055.0L2311.7 1052.4L2312.2 1054.4L2312.7 1052.0L2313.2 1053.8L2313.7 1052.0L2314.2 1053.9L2314.7 1051.7L2315.2 1051.8L2315.7 1050.9L2316.2 1052.1L2316.7 1052.2L2317.2 1053.4L2317.7 1052.0L2318.2 1053.5L2318.7 1053.1L2319.2 1054.5L2319.7 1056.4L2320.2 1058.2L2320.7 1057.3L2321.2 1058.3L2321.7 1056.3L2322.2 1058.4L2322.7 1056.1L2323.2 1057.7L2323.7 1055.5L2324.1 1057.1L2324.6 1055.7L2325.1 1056.7L2325.6 1054.9L2326.1 1056.1L2326.6 1054.8L2327.1 1057.9L2327.6 1056.7L2328.1 1057.3L2328.6 1053.9L2329.1 1055.1L2329.6 1053.6L2330.1 1054.6L2330.6 1052.9L2331.1 1054.6L2331.6 1053.7L2332.1 1052.9L2332.6 1052.4L2333.2 1057.0L2333.7 1056.3L2334.2 1057.3L2334.7 1053.5L2335.2 1054.4L2335.7 1053.8L2336.2 1056.9L2336.8 1055.3L2337.3 1057.4L2337.8 1055.2L2338.3 1057.9L2338.8 1058.3L2339.3 1059.0L2339.8 1057.6L2340.3 1057.2L2340.8 1055.5L2341.3 1056.4L2341.8 1054.9L2342.4 1055.8L2342.9 1054.4L2343.4 1055.5L2343.9 1053.7L2344.4 1055.7L2344.9 1052.9L2345.4 1055.1L2345.9 1052.6L2346.4 1054.6L2346.9 1050.7L2347.4 1051.3L2347.9 1050.2L2348.4 1054.4L2348.9 1053.8L2349.4 1055.3L2349.9 1051.3L2350.4 1052.4L2350.9 1051.9L2351.4 1055.0L2351.9 1053.7L2352.4 1056.2L2352.9 1055.1L2353.4 1057.4L2353.9 1056.0L2354.4 1057.4L2355.0 1056.4L2355.5 1058.3L2356.0 1057.0L2356.5 1059.1L2357.0 1057.9L2357.5 1059.0L2358.0 1057.5L2358.5 1058.9L2359.0 1057.4L2359.5 1058.9L2360.0 1057.7L2360.5 1058.9L2361.0 1057.6L2361.5 1058.8L2362.0 1057.1L2362.5 1058.9L2363.0 1057.2L2363.5 1059.0L2364.0 1057.6L2364.5 1059.2L2365.0 1057.5L2365.5 1058.8L2366.0 1056.9L2366.5 1058.6L2367.0 1057.3L2367.5 1059.2L2368.0 1057.1L2368.5 1059.2L2369.0 1057.0L2369.5 1058.9L2370.0 1057.1L2370.5 1058.7L2371.0 1057.4L2371.5 1058.7L2372.0 1057.5L2372.5 1058.4L2373.0 1057.1L2373.5 1059.0L2373.9 1058.1L2374.4 1060.3L2374.9 1059.4L2375.3 1061.6L2375.8 1060.5L2376.3 1063.0L2376.8 1061.5L2377.3 1063.2L2377.8 1061.8L2378.3 1063.4L2378.8 1061.3L2379.3 1063.3L2379.8 1062.1L2380.3 1061.1L2380.8 1059.8L2381.3 1060.8L2381.8 1058.5L2382.3 1059.8L2382.8 1057.4L2383.4 1057.3L2383.8 1056.8L2384.3 1060.8L2384.8 1059.3L2385.3 1060.9L2385.8 1059.7L2386.3 1061.1L2386.8 1059.8L2387.3 1061.9L2387.8 1059.9L2388.3 1062.8L2388.8 1060.5L2389.3 1063.3L2389.8 1061.6L2390.3 1064.0L2390.8 1062.4L2391.3 1064.6L2391.8 1063.3L2392.3 1065.4L2392.8 1063.5L2393.3 1065.6L2393.8 1064.1L2394.3 1065.5L2394.8 1065.4L2395.3 1066.2L2395.8 1065.2L2396.3 1062.6L2396.8 1061.5L2397.3 1062.3L2397.8 1061.1L2398.3 1063.8L2398.8 1061.9L2399.3 1063.3L2399.8 1061.5L2400.4 1063.2L2400.9 1061.2L2401.4 1062.7L2401.9 1060.6L2402.4 1062.4L2402.9 1060.5L2403.4 1061.9L2403.9 1059.8L2404.4 1061.9L2404.9 1062.4L2405.4 1063.3L2405.9 1062.1L2406.4 1062.9L2406.9 1060.5L2407.4 1063.9L2407.9 1063.7L2408.4 1066.7L2408.9 1066.8L2409.4 1068.2L2409.9 1066.6L2410.4 1068.7L2410.9 1066.5L2411.4 1068.0L2411.9 1066.6L2412.4 1068.1L2412.9 1066.0L2413.4 1067.5L2413.9 1066.0L2414.4 1067.5L2414.9 1065.4L2415.3 1066.4L2415.8 1065.3L2416.3 1066.2L2416.9 1064.3L2417.4 1064.3L2417.9 1064.8L2418.4 1064.9L2418.9 1062.9L2419.4 1062.8L2419.9 1058.1L2420.5 1058.7L2421.0 1057.5L2421.5 1059.5L2421.9 1058.2L2422.4 1060.1L2422.9 1058.4L2423.4 1060.3L2423.9 1058.4L2424.4 1061.1L2424.9 1059.5L2425.4 1062.2L2425.9 1061.1L2426.4 1062.7L2426.9 1061.6L2427.4 1063.4L2427.9 1062.3L2428.4 1063.6L2428.9 1062.0L2429.4 1063.8L2429.9 1062.3L2430.4 1063.5L2430.9 1062.1L2431.4 1064.0L2431.9 1062.2L2432.5 1064.4L2433.0 1062.2L2433.5 1064.2L2434.0 1062.8L2434.5 1064.6L2435.0 1063.5L2435.5 1065.8L2436.0 1063.6L2436.5 1065.8L2437.0 1064.4L2437.5 1065.5L2438.0 1064.7L2438.5 1065.8L2439.0 1064.7L2439.6 1066.1L2440.1 1064.9L2440.6 1066.6L2441.1 1064.7L2441.6 1066.8L2442.1 1064.5L2442.6 1066.8L2443.1 1064.3L2443.6 1065.9L2444.1 1064.5L2444.6 1066.1L2445.1 1064.4L2445.6 1065.3L2446.1 1064.2L2446.6 1065.3L2447.1 1064.2L2447.6 1065.5L2448.1 1064.4L2448.6 1067.9L2449.1 1067.0L2449.6 1068.0L2450.1 1066.9L2450.6 1067.7L2451.1 1063.0L2451.6 1063.8L2452.1 1062.9L2452.6 1066.5L2453.1 1064.5L2453.6 1066.6L2454.1 1064.6L2454.6 1066.5L2455.1 1064.9L2455.6 1065.8L2456.1 1064.2L2456.6 1066.3L2457.1 1064.5L2457.6 1066.0L2458.1 1064.2L2458.6 1067.0L2459.1 1065.9L2459.5 1067.9L2460.0 1066.1L2460.5 1068.1L2461.0 1067.4L2461.5 1068.8L2462.0 1067.8L2462.5 1069.6L2463.0 1067.8L2463.5 1069.4L2463.9 1067.7L2464.4 1069.0L2464.9 1065.9L2465.3 1066.8L2465.8 1067.8" stroke="#ed1c24"/>
<path d="M1672.5 367.9L1673.0 368.8L1673.5 369.7L1674.0 369.7L1674.5 369.7L1675.0 369.7L1675.5 369.7L1676.0 369.7L1676.5 369.7L1677.0 369.7L1677.5 369.7L1678.0 369.7L1678.5 369.7L1679.0 369.7L1679.5 369.7L1680.0 369.7L1680.5 369.7L1681.0 369.7L1681.5 369.7L1682.0 369.7L1682.5 369.7L1683.0 369.7L1683.5 369.7L1684.0 369.7L1684.5 369.7L1685.0 369.7L1685.5 369.7L1686.0 369.7L1686.5 369.7L1687.0 368.8L1687.5 367.9L1688.0 367.9L1688.5 367.9L1689.0 367.9L1689.5 367.9L1690.0 367.9L1690.5 367.9L1691.0 367.9L1691.5 367.9L1692.0 367.9L1692.5 367.9L1693.0 367.9L1693.5 367.9L1694.0 367.9L1694.5 367.9L1695.0 367.9L1695.5 367.9L1696.0 367.9L1696.5 367.9L1697.0 367.9L1697.5 367.9L1698.0 367.9L1698.5 367.9L1699.0 367.9L1699.5 367.9L1700.0 367.9L1700.5 368.0L1701.0 368.2L1701.5 368.3L1702.0 368.4L1702.5 368.6L1703.0 368.7L1703.5 368.9L1704.0 369.0L1704.5 368.7L1705.0 369.6L1705.5 368.9L1706.0 369.8L1706.5 369.2L1707.0 370.0L1707.5 368.8L1708.0 369.2L1708.5 369.3L1709.0 369.7L1709.5 369.6L1710.0 370.7L1710.5 370.4L1711.0 370.9L1711.5 370.4L1712.0 371.0L1712.5 370.5L1713.0 371.2L1713.5 370.7L1714.0 370.7L1714.5 370.5L1715.0 371.6L1715.5 371.4L1716.0 371.9L1716.5 371.6L1717.0 372.2L1717.5 371.6L1718.0 372.2L1718.5 371.8L1719.0 372.5L1719.5 372.0L1720.0 373.1L1720.5 372.9L1721.0 373.3L1721.5 373.1L1722.0 373.1L1722.5 372.7L1723.0 373.2L1723.5 372.9L1724.0 373.4L1724.5 373.1L1725.0 373.8L1725.5 373.3L1726.0 373.9L1726.5 373.4L1727.0 374.1L1727.5 373.6L1728.0 374.1L1728.5 373.9L1729.0 374.5L1729.5 374.2L1730.0 374.7L1730.5 374.4L1731.0 374.9L1731.5 375.4L1732.0 375.8L1732.5 375.6L1733.0 376.0L1733.5 374.4L1734.0 374.8L1734.5 374.6L1735.0 375.1L1735.5 375.2L1736.0 375.9L1736.5 375.3L1737.0 376.2L1737.5 375.6L1738.0 376.2L1738.5 375.9L1739.0 376.4L1739.5 376.0L1740.0 376.7L1740.5 377.1L1741.0 377.5L1741.5 376.5L1742.0 377.0L1742.5 376.6L1743.0 377.2L1743.5 376.0L1744.0 376.4L1744.5 376.8L1745.0 377.4L1745.5 376.9L1746.0 377.6L1746.5 377.2L1747.0 377.7L1747.5 377.4L1748.0 377.9L1748.5 377.5L1749.0 378.5L1749.5 378.3L1750.0 378.0L1750.5 377.6L1751.0 378.1L1751.5 377.7L1752.0 378.3L1752.5 377.7L1753.0 378.0L1753.5 377.9L1754.0 378.8L1754.5 378.4L1755.0 378.9L1755.5 378.5L1756.0 379.1L1756.5 378.6L1757.0 379.3L1757.5 378.8L1758.0 379.5L1758.5 378.9L1759.0 379.6L1759.5 379.1L1760.0 379.8L1760.5 379.3L1761.0 379.8L1761.5 379.3L1762.0 379.8L1762.5 379.4L1763.0 380.1L1763.5 379.6L1764.0 380.3L1764.5 379.5L1765.0 380.2L1765.5 380.3L1766.0 380.6L1766.5 380.4L1767.0 380.3L1767.5 379.8L1768.0 380.5L1768.5 380.0L1769.0 380.5L1769.5 379.9L1770.0 380.6L1770.5 380.0L1771.0 380.7L1771.5 380.2L1772.0 380.9L1772.5 380.1L1773.0 379.9L1773.5 379.6L1774.0 379.9L1774.5 379.7L1775.0 380.9L1775.5 380.6L1776.0 381.1L1776.5 380.6L1777.0 381.1L1777.5 380.7L1778.0 381.1L1778.5 381.3L1779.0 381.7L1779.5 380.9L1780.0 381.5L1780.5 380.9L1781.0 381.4L1781.5 380.9L1782.0 381.5L1782.5 380.9L1783.0 381.7L1783.5 381.0L1784.0 381.4L1784.5 381.0L1785.0 381.6L1785.5 381.0L1786.0 381.5L1786.5 381.1L1787.0 382.1L1787.5 381.3L1788.0 382.0L1788.5 381.5L1789.0 382.3L1789.5 381.5L1790.0 382.2L1790.5 381.5L1791.0 382.2L1791.5 381.6L1792.0 382.3L1792.5 381.8L1793.0 382.0L1793.5 381.6L1794.0 382.1L1794.5 381.7L1795.0 382.2L1795.5 381.8L1796.0 382.6L1796.5 382.0L1797.0 382.7L1797.5 382.0L1798.0 382.8L1798.5 382.2L1799.0 382.8L1799.5 382.2L1800.0 383.1L1800.5 382.4L1801.0 383.0L1801.5 382.5L1802.0 383.1L1802.5 382.4L1803.0 383.0L1803.5 382.3L1804.0 382.9L1804.5 382.2L1805.0 383.0L1805.5 382.2L1806.0 383.0L1806.5 381.7L1807.0 382.1L1807.5 381.8L1808.0 383.4L1808.5 383.1L1809.0 383.5L1809.5 382.7L1810.0 383.3L1810.5 382.8L1811.0 383.3L1811.5 382.8L1812.0 383.4L1812.5 382.9L1813.0 382.4L1813.5 382.1L1814.0 382.5L1814.5 382.7L1815.0 383.4L1815.5 382.8L1816.0 383.4L1816.5 382.7L1817.0 383.6L1817.5 382.9L1818.0 383.5L1818.5 383.0L1819.0 383.7L1819.5 382.9L1820.0 383.5L1820.5 382.9L1821.0 383.4L1821.5 382.9L1822.0 383.5L1822.5 383.0L1823.0 383.4L1823.5 382.7L1824.0 383.0L1824.5 382.7L1825.0 383.5L1825.5 383.0L1826.0 383.6L1826.5 383.4L1827.0 383.8L1827.5 383.3L1828.0 383.9L1828.5 383.4L1829.0 384.2L1829.5 384.0L1830.0 384.3L1830.5 383.2L1831.0 383.9L1831.5 383.2L1832.0 383.8L1832.5 383.3L1833.0 384.1L1833.5 383.4L1834.0 384.3L1834.5 383.5L1835.0 384.3L1835.5 383.6L1836.0 384.3L1836.5 383.5L1837.0 384.0L1837.5 383.6L1838.0 384.1L1838.5 383.7L1839.0 384.2L1839.5 383.7L1840.0 384.1L1840.5 383.7L1841.0 384.1L1841.5 383.5L1842.0 384.1L1842.5 383.7L1843.0 384.2L1843.5 383.8L1844.0 384.4L1844.5 383.9L1845.0 384.5L1845.5 384.1L1846.0 385.1L1846.5 384.8L1847.0 385.2L1847.5 384.6L1848.0 385.0L1848.5 384.7L1849.0 385.1L1849.5 384.8L1850.0 385.1L1850.5 384.1L1851.0 384.5L1851.5 384.1L1852.0 384.5L1852.5 384.2L1853.0 384.7L1853.5 384.2L1854.0 384.6L1854.5 384.2L1855.0 384.6L1855.5 384.1L1856.0 384.9L1856.5 384.4L1857.0 385.0L1857.5 384.5L1858.0 385.2L1858.5 384.3L1859.0 385.1L1859.5 384.4L1860.0 385.2L1860.5 384.5L1861.0 385.2L1861.5 385.3L1862.0 385.6L1862.5 384.0L1863.0 384.2L1863.5 383.9L1864.0 384.2L1864.5 384.1L1865.0 384.4L1865.5 384.0L1866.0 385.0L1866.5 384.3L1867.0 385.1L1867.5 384.3L1868.0 384.9L1868.5 384.3L1869.0 384.8L1869.5 384.4L1870.0 384.8L1870.5 384.4L1871.0 384.9L1871.5 384.3L1872.0 384.8L1872.5 384.3L1873.0 384.7L1873.5 384.6L1874.0 385.1L1874.5 384.6L1875.0 385.1L1875.5 384.6L1876.0 385.2L1876.5 384.5L1877.0 385.0L1877.5 384.4L1878.0 385.0L1878.5 383.7L1879.0 384.0L1879.5 383.8L1880.0 384.8L1880.5 384.1L1881.0 384.9L1881.5 384.1L1882.0 384.7L1882.5 383.7L1883.0 383.9L1883.5 383.6L1884.0 385.5L1884.5 385.2L1885.0 384.8L1885.5 384.0L1886.0 384.8L1886.5 384.1L1887.0 384.9L1887.5 384.1L1888.0 384.8L1888.5 384.3L1889.0 384.6L1889.5 384.2L1890.0 384.7L1890.5 384.2L1891.0 384.6L1891.5 384.3L1892.0 385.0L1892.5 384.2L1893.0 385.0L1893.5 384.3L1894.0 384.7L1894.5 383.8L1895.0 384.6L1895.5 384.0L1896.0 384.7L1896.5 383.8L1897.0 384.5L1897.5 384.0L1898.0 384.6L1898.5 383.9L1899.0 384.7L1899.5 383.9L1900.0 384.6L1900.5 383.7L1901.0 384.4L1901.5 383.8L1902.0 384.5L1902.5 383.8L1903.0 384.4L1903.5 383.9L1904.0 384.4L1904.5 384.0L1905.0 384.7L1905.5 384.1L1906.0 384.8L1906.5 384.0L1907.0 384.7L1907.5 384.1L1908.0 384.3L1908.5 384.0L1909.0 384.3L1909.5 383.9L1910.0 384.4L1910.5 383.9L1911.0 384.3L1911.5 383.8L1912.0 384.2L1912.5 383.8L1913.0 384.2L1913.5 383.8L1914.0 383.6L1914.5 383.3L1915.0 383.6L1915.5 383.8L1916.0 384.5L1916.5 383.8L1917.0 384.5L1917.5 383.7L1918.0 384.6L1918.5 383.9L1919.0 384.6L1919.5 383.6L1920.0 384.2L1920.5 383.7L1921.0 384.1L1921.5 383.6L1922.0 384.4L1922.5 383.6L1923.0 384.3L1923.5 383.8L1924.0 384.1L1924.5 383.7L1925.0 384.2L1925.5 383.7L1926.0 384.2L1926.5 383.8L1927.0 384.3L1927.5 383.8L1928.0 384.3L1928.5 383.7L1929.0 384.2L1929.5 383.4L1930.0 384.0L1930.5 383.4L1931.0 384.0L1931.5 383.6L1932.0 384.1L1932.5 383.6L1933.0 384.1L1933.5 383.5L1934.0 383.9L1934.5 383.4L1935.0 383.0L1935.5 382.8L1936.0 383.0L1936.5 383.0L1937.0 383.7L1937.5 383.1L1938.0 383.6L1938.5 383.0L1939.0 383.5L1939.5 383.0L1940.0 383.6L1940.5 382.9L1941.0 383.5L1941.5 383.7L1942.0 384.0L1942.5 383.7L1943.0 383.5L1943.5 382.9L1944.0 383.4L1944.5 382.7L1945.0 383.4L1945.5 382.6L1946.0 383.5L1946.5 382.8L1947.0 383.5L1947.5 382.8L1948.0 383.3L1948.5 382.2L1949.0 382.5L1949.5 382.2L1950.0 383.4L1950.5 382.7L1951.0 383.5L1951.5 382.8L1952.0 383.4L1952.5 382.7L1953.0 383.2L1953.5 382.7L1954.0 383.2L1954.5 382.2L1955.0 382.5L1955.5 382.1L1956.0 383.3L1956.5 382.4L1957.0 383.0L1957.5 382.3L1958.0 383.2L1958.5 382.4L1959.0 383.3L1959.5 382.5L1960.0 383.3L1960.5 382.3L1961.0 383.0L1961.5 382.3L1962.0 382.7L1962.5 382.3L1963.0 382.6L1963.5 382.2L1964.0 382.7L1964.5 382.2L1965.0 382.6L1965.5 382.4L1966.0 383.0L1966.5 382.2L1967.0 383.0L1967.5 382.3L1968.0 382.9L1968.5 382.3L1969.0 382.7L1969.5 382.2L1970.0 382.6L1970.5 382.2L1971.0 382.7L1971.5 381.8L1972.0 382.5L1972.5 381.9L1973.0 382.4L1973.5 381.9L1974.0 382.7L1974.5 381.9L1975.0 382.7L1975.5 381.8L1976.0 382.3L1976.5 381.8L1977.0 382.3L1977.5 381.8L1978.0 382.3L1978.5 381.7L1979.0 382.3L1979.5 381.7L1980.0 382.3L1980.5 381.6L1981.0 382.3L1981.5 381.7L1982.0 382.1L1982.5 381.8L1983.0 382.1L1983.5 381.6L1984.0 382.2L1984.5 381.5L1985.0 382.3L1985.5 381.6L1986.0 381.4L1986.5 381.1L1987.0 381.4L1987.5 382.3L1988.0 382.6L1988.5 382.2L1989.0 382.5L1989.5 381.4L1990.0 381.8L1990.5 381.3L1991.0 381.9L1991.5 381.3L1992.0 381.7L1992.5 381.2L1993.0 381.7L1993.5 381.0L1994.0 381.7L1994.5 381.0L1995.0 381.5L1995.5 381.9L1996.0 382.2L1996.5 381.9L1997.0 381.8L1997.5 381.1L1998.0 381.7L1998.5 380.9L1999.0 381.6L1999.5 381.2L2000.0 381.5L2000.5 381.1L2001.0 381.4L2001.5 380.7L2002.0 381.6L2002.5 380.7L2003.0 381.4L2003.5 380.8L2004.0 381.5L2004.5 380.6L2005.0 381.3L2005.5 380.7L2006.0 381.2L2006.5 380.8L2007.0 381.1L2007.5 380.7L2008.0 381.1L2008.5 380.7L2009.0 381.0L2009.5 380.6L2010.0 380.8L2010.5 380.3L2011.0 380.9L2011.5 380.3L2012.0 380.9L2012.5 380.2L2013.0 381.0L2013.5 380.5L2014.0 381.0L2014.5 380.4L2015.0 380.9L2015.5 380.4L2016.0 380.1L2016.5 379.8L2017.0 380.0L2017.5 379.7L2018.0 380.0L2018.5 380.1L2019.0 380.8L2019.5 380.0L2020.0 380.6L2020.5 380.0L2021.0 380.7L2021.5 380.1L2022.0 380.5L2022.5 380.1L2023.0 380.5L2023.5 380.0L2024.0 380.7L2024.5 380.0L2025.0 380.7L2025.5 379.9L2026.0 380.5L2026.5 379.9L2027.0 380.5L2027.5 380.6L2028.0 381.0L2028.5 380.6L2029.0 380.9L2029.5 379.7L2030.0 380.2L2030.5 379.6L2031.0 380.0L2031.5 378.9L2032.0 379.2L2032.5 378.8L2033.0 380.1L2033.5 379.6L2034.0 380.2L2034.5 379.0L2035.0 379.3L2035.5 378.9L2036.0 379.7L2036.5 379.3L2037.0 379.8L2037.5 379.3L2038.0 379.7L2038.5 379.3L2039.0 379.9L2039.5 379.3L2040.0 379.9L2040.5 379.3L2041.0 380.0L2041.5 379.3L2042.0 379.8L2042.5 379.2L2043.0 379.7L2043.5 379.0L2044.0 378.9L2044.5 378.6L2045.0 378.8L2045.5 378.9L2046.0 379.7L2046.5 378.9L2047.0 379.6L2047.5 378.8L2048.0 379.5L2048.5 378.6L2049.0 379.3L2049.5 378.6L2050.0 379.3L2050.5 378.7L2051.0 379.2L2051.5 378.7L2052.0 379.6L2052.5 379.3L2053.0 379.6L2053.5 379.2L2054.0 379.0L2054.5 378.4L2055.0 379.0L2055.5 378.4L2056.0 378.4L2056.5 378.0L2057.0 378.3L2057.5 378.5L2058.0 379.1L2058.5 378.4L2059.0 379.2L2059.5 379.1L2060.0 379.3L2060.5 379.0L2061.0 379.3L2061.5 377.7L2062.0 378.0L2062.5 377.7L2063.0 378.2L2063.5 377.8L2064.0 378.7L2064.5 378.0L2065.0 378.8L2065.5 377.9L2066.0 378.7L2066.5 378.8L2067.0 379.1L2067.5 377.8L2068.0 378.4L2068.5 377.8L2069.0 378.3L2069.5 377.8L2070.0 378.2L2070.5 377.7L2071.0 378.6L2071.5 377.9L2072.0 378.6L2072.5 377.7L2073.0 378.3L2073.5 377.6L2074.0 378.4L2074.5 377.6L2075.0 378.3L2075.5 377.5L2076.0 378.1L2076.5 377.3L2077.0 378.0L2077.5 378.4L2078.0 378.7L2078.5 378.3L2079.0 378.0L2079.5 377.6L2080.0 378.0L2080.5 377.4L2081.0 378.2L2081.5 377.5L2082.0 378.1L2082.5 377.3L2083.0 378.1L2083.5 377.4L2084.0 377.8L2084.5 377.3L2085.0 377.7L2085.5 377.2L2086.0 377.6L2086.5 377.1L2087.0 377.6L2087.5 377.1L2088.0 377.6L2088.5 376.9L2089.0 377.6L2089.5 377.0L2090.0 377.6L2090.5 377.1L2091.0 377.6L2091.5 376.3L2092.0 376.6L2092.5 376.6L2093.0 377.3L2093.5 376.6L2094.0 377.4L2094.5 376.7L2095.0 377.3L2095.5 376.7L2096.0 377.1L2096.5 376.7L2097.0 377.2L2097.5 376.3L2098.0 377.1L2098.5 376.3L2099.0 377.0L2099.5 376.4L2100.0 376.9L2100.5 376.4L2101.0 376.9L2101.5 376.3L2102.0 377.1L2102.5 376.2L2103.0 376.9L2103.5 376.2L2104.0 376.9L2104.5 376.3L2105.0 376.9L2105.5 376.3L2106.0 376.9L2106.5 376.1L2107.0 376.8L2107.5 375.5L2108.0 375.8L2108.5 375.4L2109.0 376.5L2109.5 376.1L2110.0 376.5L2110.5 375.9L2111.0 376.5L2111.5 375.9L2112.0 376.5L2112.5 375.8L2113.0 376.4L2113.5 375.8L2114.0 376.3L2114.5 375.8L2115.0 376.2L2115.5 376.7L2116.0 377.0L2116.5 376.4L2117.0 376.7L2117.5 376.4L2118.0 376.7L2118.5 375.0L2119.0 375.2L2119.5 374.9L2120.0 376.1L2120.5 375.7L2121.0 376.2L2121.5 375.6L2122.0 376.0L2122.5 375.6L2123.0 376.0L2123.5 375.4L2124.0 375.9L2124.5 375.4L2125.0 375.9L2125.5 375.9L2126.0 376.2L2126.5 375.9L2127.0 375.6L2127.5 375.2L2128.0 375.6L2128.5 375.1L2129.0 375.5L2129.5 375.1L2130.0 376.3L2130.5 376.0L2131.0 376.2L2131.5 375.9L2132.0 375.6L2132.5 375.0L2133.0 375.5L2133.5 374.9L2134.0 375.5L2134.5 374.9L2135.0 375.5L2135.5 374.9L2136.0 375.8L2136.5 374.9L2137.0 375.7L2137.5 374.8L2138.0 375.7L2138.5 374.7L2139.0 375.2L2139.5 374.6L2140.0 375.2L2140.5 374.7L2141.0 375.2L2141.5 374.6L2142.0 375.2L2142.5 374.8L2143.0 375.1L2143.5 374.7L2144.0 375.1L2144.5 374.7L2145.0 375.2L2145.5 374.6L2146.0 375.3L2146.5 375.2L2147.0 375.5L2147.5 375.2L2148.0 375.5L2148.5 375.1L2149.0 374.3L2149.5 374.0L2150.0 374.3L2150.5 374.3L2151.0 375.1L2151.5 374.1L2152.0 374.9L2152.5 374.3L2153.0 374.7L2153.5 374.0L2154.0 374.7L2154.5 374.1L2155.0 373.9L2155.5 373.5L2156.0 373.8L2156.5 373.9L2157.0 374.6L2157.5 374.0L2158.0 374.6L2158.5 373.9L2159.0 374.6L2159.5 373.9L2160.0 373.7L2160.5 373.5L2161.0 373.7L2161.5 373.6L2162.0 373.8L2162.5 373.6L2163.0 373.8L2163.5 374.6L2164.0 374.9L2164.5 373.7L2165.0 374.3L2165.5 373.5L2166.0 374.2L2166.5 373.6L2167.0 374.4L2167.5 373.7L2168.0 374.3L2168.5 373.8L2169.0 374.3L2169.5 373.7L2170.0 374.1L2170.5 373.4L2171.0 374.3L2171.5 373.5L2172.0 374.2L2172.5 373.4L2173.0 374.1L2173.5 374.1L2174.0 374.4L2174.5 374.0L2175.0 374.4L2175.5 373.0L2176.0 373.3L2176.5 373.0L2177.0 373.3L2177.5 374.3L2178.0 374.6L2178.5 374.3L2179.0 374.5L2179.5 373.4L2180.0 373.9L2180.5 373.4L2181.0 374.0L2181.5 373.3L2182.0 373.8L2182.5 373.2L2183.0 373.6L2183.5 373.2L2184.0 373.6L2184.5 373.2L2185.0 373.6L2185.5 373.1L2186.0 373.6L2186.5 372.9L2187.0 373.5L2187.5 372.9L2188.0 373.6L2188.5 372.7L2189.0 373.5L2189.5 372.2L2190.0 372.4L2190.5 372.2L2191.0 373.6L2191.5 373.1L2192.0 373.5L2192.5 372.6L2193.0 373.4L2193.5 372.6L2194.0 373.3L2194.5 372.5L2195.0 373.3L2195.5 372.1L2196.0 372.4L2196.5 372.1L2197.0 372.9L2197.5 372.5L2198.0 372.9L2198.5 372.5L2199.0 372.9L2199.5 372.5L2200.0 372.9L2200.5 372.0L2201.0 372.3L2201.5 372.0L2202.0 373.0L2202.5 372.4L2203.0 373.0L2203.5 372.4L2204.0 372.9L2204.5 372.3L2205.0 373.0L2205.5 371.9L2206.0 372.2L2206.5 371.9L2207.0 372.8L2207.5 372.4L2208.0 372.8L2208.5 372.4L2209.0 372.7L2209.5 372.3L2210.0 372.5L2210.5 372.1L2211.0 372.4L2211.5 372.1L2212.0 372.7L2212.5 372.3L2213.0 372.7L2213.5 372.2L2214.0 372.5L2214.5 372.1L2215.0 372.5L2215.5 372.0L2216.0 372.6L2216.5 372.0L2217.0 372.6L2217.5 371.9L2218.0 372.5L2218.5 371.9L2219.0 372.4L2219.5 371.8L2220.0 372.4L2220.5 371.8L2221.0 372.3L2221.5 371.9L2222.0 372.3L2222.5 371.8L2223.0 372.2L2223.5 371.8L2224.0 372.2L2224.5 371.3L2225.0 371.6L2225.5 371.3L2226.0 372.8L2226.5 372.4L2227.0 372.8L2227.5 372.4L2228.0 372.2L2228.5 371.6L2229.0 372.1L2229.5 372.3L2230.0 372.5L2230.5 372.3L2231.0 372.5L2231.5 371.2L2232.0 371.8L2232.5 371.2L2233.0 371.8L2233.5 371.0L2234.0 371.8L2234.5 371.3L2235.0 371.7L2235.5 371.3L2236.0 371.7L2236.5 370.8L2237.0 371.2L2237.5 370.8L2238.0 372.2L2238.5 371.9L2239.0 372.2L2239.5 370.7L2240.0 371.0L2240.5 370.7L2241.0 371.0L2241.5 370.9L2242.0 371.7L2242.5 370.8L2243.0 371.6L2243.5 371.0L2244.0 371.5L2244.5 370.9L2245.0 371.5L2245.5 370.9L2246.0 371.4L2246.5 370.9L2247.0 371.4L2247.5 370.8L2248.0 371.3L2248.5 370.5L2249.0 371.4L2249.5 370.6L2250.0 371.3L2250.5 370.7L2251.0 371.3L2251.5 370.8L2252.0 371.2L2252.5 370.8L2253.0 370.5L2253.5 370.2L2254.0 370.4L2254.5 371.3L2255.0 371.5L2255.5 371.2L2256.0 371.0L2256.5 370.4L2257.0 371.0L2257.5 370.4L2258.0 371.0L2258.5 370.3L2259.0 371.1L2259.5 370.3L2260.0 371.2L2260.5 370.4L2261.0 371.1L2261.5 370.3L2262.0 371.0L2262.5 370.6L2263.0 370.9L2263.5 370.6L2264.0 370.6L2264.5 370.3L2265.0 370.5L2265.5 370.1L2266.0 370.6L2266.5 370.1L2267.0 370.7L2267.5 370.1L2268.0 370.7L2268.5 370.0L2269.0 370.6L2269.5 369.9L2270.0 370.5L2270.5 369.6L2271.0 369.8L2271.5 369.5L2272.0 369.8L2272.5 369.8L2273.0 370.4L2273.5 369.9L2274.0 370.3L2274.5 369.9L2275.0 370.3L2275.5 369.8L2276.0 370.3L2276.5 369.8L2277.0 370.4L2277.5 369.7L2278.0 369.6L2278.5 369.3L2279.0 369.5L2279.5 370.6L2280.0 370.8L2280.5 369.7L2281.0 370.1L2281.5 369.7L2282.0 370.1L2282.5 369.8L2283.0 370.2L2283.5 369.8L2284.0 370.2L2284.5 369.7L2285.0 370.1L2285.5 369.8L2286.0 370.1L2286.5 369.7L2287.0 370.1L2287.5 369.7L2288.0 370.0L2288.5 369.3L2289.0 370.1L2289.5 369.3L2290.0 370.0L2290.5 369.5L2291.0 370.1L2291.5 369.5L2292.0 370.1L2292.5 369.5L2293.0 369.0L2293.5 368.7L2294.0 369.0L2294.5 369.2L2295.0 369.7L2295.5 369.3L2296.0 369.7L2296.5 369.0L2297.0 369.7L2297.5 368.9L2298.0 369.7L2298.5 368.9L2299.0 369.9L2299.5 369.3L2300.0 369.9L2300.5 369.3L2301.0 369.6L2301.5 369.1L2302.0 369.6L2302.5 369.0L2303.0 369.6L2303.5 369.1L2304.0 369.5L2304.5 368.9L2305.0 369.6L2305.5 368.7L2306.0 369.5L2306.5 368.9L2307.0 369.3L2307.5 369.1L2308.0 369.6L2308.5 369.1L2309.0 369.6L2309.5 369.1L2310.0 369.3L2310.5 368.8L2311.0 369.3L2311.5 368.7L2312.0 369.3L2312.5 368.5L2313.0 369.2L2313.5 368.6L2314.0 369.2L2314.5 368.5L2315.0 369.9L2315.5 369.6L2316.0 369.0L2316.5 368.6L2317.0 369.0L2317.5 368.6L2318.0 369.0L2318.5 368.6L2319.0 369.1L2319.5 368.3L2320.0 368.9L2320.5 368.2L2321.0 369.0L2321.5 368.4L2322.0 368.8L2322.5 368.3L2323.0 368.8L2323.5 368.3L2324.0 369.6L2324.5 369.2L2325.0 369.6L2325.5 368.1L2326.0 368.9L2326.5 368.1L2327.0 368.9L2327.5 368.0L2328.0 368.7L2328.5 368.3L2329.0 368.8L2329.5 368.3L2330.0 368.8L2330.5 368.2L2331.0 368.6L2331.5 368.2L2332.0 368.6L2332.5 367.9L2333.0 368.7L2333.5 368.0L2334.0 368.6L2334.5 368.0L2335.0 368.6L2335.5 367.8L2336.0 368.6L2336.5 367.7L2337.0 368.5L2337.5 367.9L2338.0 368.5L2338.5 367.7L2339.0 367.8L2339.5 367.5L2340.0 367.5L2340.5 367.1L2341.0 368.4L2341.5 367.9L2342.0 368.3L2342.5 367.9L2343.0 368.2L2343.5 367.8L2344.0 368.2L2344.5 367.7L2345.0 368.1L2345.5 367.6L2346.0 368.2L2346.5 367.5L2347.0 368.1L2347.5 367.5L2348.0 368.2L2348.5 367.6L2349.0 368.2L2349.5 367.4L2350.0 368.2L2350.5 367.4L2351.0 368.5L2351.5 368.3L2352.0 368.6L2352.5 367.6L2353.0 368.1L2353.5 367.6L2354.0 368.1L2354.5 367.6L2355.0 368.0L2355.5 367.5L2356.0 368.0L2356.5 367.4L2357.0 368.0L2357.5 367.4L2358.0 368.1L2358.5 367.4L2359.0 368.0L2359.5 367.3L2360.0 368.0L2360.5 367.3L2361.0 367.9L2361.5 367.2L2362.0 368.0L2362.5 367.4L2363.0 367.7L2363.5 367.2L2364.0 367.7L2364.5 366.7L2365.0 367.0L2365.5 366.7L2366.0 368.2L2366.5 367.9L2367.0 368.1L2367.5 367.8L2368.0 368.0L2368.5 367.7L2369.0 367.9L2369.5 366.7L2370.0 367.4L2370.5 366.7L2371.0 367.3L2371.5 366.8L2372.0 367.4L2372.5 366.7L2373.0 367.4L2373.5 366.7L2374.0 367.3L2374.5 366.7L2375.0 367.5L2375.5 366.8L2376.0 367.3L2376.5 366.9L2377.0 367.5L2377.5 366.6L2378.0 367.3L2378.5 366.5L2379.0 367.3L2379.5 366.7L2380.0 367.3L2380.5 366.3L2381.0 367.0L2381.5 366.3L2382.0 367.1L2382.5 366.4L2383.0 367.1L2383.5 366.3L2384.0 367.1L2384.5 366.3L2385.0 366.9L2385.5 366.5L2386.0 367.0L2386.5 366.5L2387.0 366.8L2387.5 366.5L2388.0 367.1L2388.5 366.4L2389.0 367.1L2389.5 366.4L2390.0 367.0L2390.5 366.4L2391.0 366.9L2391.5 366.3L2392.0 366.9L2392.5 366.3L2393.0 367.0L2393.5 366.2L2394.0 367.0L2394.5 366.2L2395.0 366.8L2395.5 366.1L2396.0 366.8L2396.5 365.9L2397.0 366.6L2397.5 366.0L2398.0 366.5L2398.5 366.8L2399.0 367.1L2399.5 365.9L2400.0 366.7L2400.5 366.0L2401.0 366.6L2401.5 365.5L2402.0 365.7L2402.5 365.4L2403.0 365.7L2403.5 365.8L2404.0 366.5L2404.5 365.8L2405.0 366.1L2405.5 365.7L2406.0 366.2L2406.5 365.7L2407.0 366.3L2407.5 365.7L2408.0 366.3L2408.5 365.6L2409.0 366.0L2409.5 365.5L2410.0 366.1L2410.5 365.6L2411.0 366.3L2411.5 365.7L2412.0 366.3L2412.5 366.4L2413.0 366.5L2413.5 366.3L2414.0 366.5L2414.5 365.0L2415.0 365.3L2415.5 365.0L2416.0 366.3L2416.5 365.6L2417.0 366.3L2417.5 365.6L2418.0 366.1L2418.5 365.3L2419.0 365.8L2419.5 365.2L2420.0 365.7L2420.5 365.2L2421.0 365.8L2421.5 365.3L2422.0 365.8L2422.5 365.4L2423.0 366.0L2423.5 365.3L2424.0 366.3L2424.5 365.9L2425.0 366.2L2425.5 365.9L2426.0 365.1L2426.5 364.7L2427.0 365.1L2427.5 364.7L2428.0 365.8L2428.5 365.1L2429.0 365.7L2429.5 365.1L2430.0 365.6L2430.5 365.1L2431.0 365.5L2431.6 365.2L2432.1 365.5L2432.6 365.0L2433.1 365.5L2433.6 365.0L2434.1 365.6L2434.6 365.0L2435.1 365.5L2435.6 364.9L2436.1 365.5L2436.6 364.8L2437.1 365.4L2437.6 364.7L2438.1 365.5L2438.6 364.8L2439.1 365.2L2439.6 364.8L2440.1 364.4L2440.6 364.1L2441.1 364.4L2441.6 364.6L2442.1 365.2L2442.6 364.6L2443.1 365.1L2443.6 364.5L2444.1 365.1L2444.6 364.4L2445.1 365.3L2445.6 364.3L2446.1 365.2L2446.6 364.4L2447.1 364.9L2447.6 364.4L2448.1 364.7L2448.6 364.2L2449.1 364.8L2449.6 364.3L2450.1 364.2L2450.6 363.9L2451.1 364.2L2451.6 364.3L2452.1 364.8L2452.6 364.2L2453.1 364.2L2453.6 363.9L2454.2 364.2L2454.7 363.9L2455.2 364.8L2455.7 364.5L2456.2 364.9L2456.7 364.4L2457.2 364.6L2457.7 364.1L2458.2 364.5L2458.7 364.0L2459.2 364.6L2459.7 363.9L2460.2 364.4L2460.7 364.1L2461.2 364.5L2461.7 363.9L2462.2 364.5L2462.7 364.0L2463.2 364.4L2463.7 363.9L2464.2 364.6L2464.7 363.9L2465.2 364.2" stroke="#62bb46"/>
<path d="M1487.5 367.9L1488.5 367.9L1489.5 367.9L1490.5 367.9L1491.5 367.9L1492.5 367.9L1493.5 367.9L1494.5 367.9L1495.5 367.9L1496.5 367.9L1497.5 367.9L1498.5 367.9L1499.5 367.9L1500.5 367.9L1501.5 367.9L1502.5 367.9L1503.5 367.9L1504.5 367.9L1505.5 367.9L1506.5 367.9L1507.5 367.9L1508.5 367.9L1509.6 367.9L1510.6 367.9L1511.6 367.9L1512.6 367.9L1513.6 367.9L1514.6 367.9L1515.6 367.9L1516.6 367.9L1517.6 367.9L1518.6 367.9L1519.6 367.9L1520.6 367.9L1521.6 367.9L1522.6 367.9L1523.6 367.9L1524.6 367.9L1525.6 367.9L1526.6 367.9L1527.6 367.9L1528.6 367.9L1529.6 367.9L1530.6 367.9L1531.6 367.9L1532.6 367.9L1533.6 367.9L1534.6 367.9L1535.6 367.9L1536.6 367.9L1537.6 367.9L1538.6 367.9L1539.6 367.9L1540.6 367.9L1541.6 367.9L1542.6 367.9L1543.6 367.9L1544.6 367.9L1545.6 367.9L1546.6 367.9L1547.6 367.9L1548.6 367.9L1549.6 367.9L1550.6 367.9L1551.6 367.9L1552.6 367.9L1553.7 367.9L1554.7 367.9L1555.7 367.9L1556.7 367.9L1557.7 367.9L1558.7 367.9L1559.7 367.9L1560.7 367.9L1561.7 367.9L1562.7 367.9L1563.7 367.9L1564.7 367.9L1565.7 367.9L1566.7 367.9L1567.7 367.9L1568.7 367.9L1569.7 367.9L1570.7 367.9L1571.7 367.9L1572.7 367.9L1573.7 367.9L1574.7 367.9L1575.7 367.9L1576.7 367.9L1577.7 367.9L1578.7 367.9L1579.7 367.9L1580.7 367.9L1581.7 367.9L1582.7 367.9L1583.7 367.9L1584.7 367.9L1585.7 367.9L1586.7 367.9L1587.7 367.9L1588.7 367.9L1589.7 367.9L1590.7 367.9L1591.7 367.9L1592.7 367.9L1593.7 367.9L1594.7 367.9L1595.7 367.9L1596.8 367.9L1597.8 367.9L1598.8 367.9L1599.8 367.9L1600.8 367.9L1601.8 367.9L1602.8 367.9L1603.8 367.9L1604.8 367.9L1605.8 367.9L1606.8 367.9L1607.8 367.9L1608.8 367.9L1609.8 367.9L1610.8 367.9L1611.8 367.9L1612.8 367.9L1613.8 367.9L1614.8 367.9L1615.8 367.9L1616.8 367.9L1617.8 367.9L1618.8 367.9L1619.8 367.9L1620.8 367.9L1621.8 367.9L1622.8 367.9L1623.8 367.9L1624.8 367.9L1625.8 367.9L1626.8 367.9L1627.8 367.9L1628.8 367.9L1629.8 367.9L1630.8 367.9L1631.8 367.9L1632.8 367.9L1633.8 367.9L1634.8 367.9L1635.8 367.9L1636.8 367.9L1637.8 367.9L1638.8 367.9L1639.8 367.9L1640.9 367.9L1641.9 367.9L1642.9 367.9L1643.9 367.9L1644.9 367.9L1645.9 367.9L1646.9 367.9L1647.9 367.9L1648.9 367.9L1649.9 367.9L1650.9 367.9L1651.9 367.9L1652.9 367.9L1653.9 367.9L1654.9 367.9L1655.9 367.9L1656.9 367.9L1657.9 367.9L1658.9 367.9L1659.9 367.9L1660.9 367.9L1661.9 367.9L1662.9 367.9L1663.9 367.9L1664.9 367.9L1665.9 367.9L1666.9 367.9L1667.9 367.9L1668.9 367.9L1669.9 367.9L1670.9 367.9L1671.9 367.9L1672.9 367.9L1673.9 367.9L1674.9 367.9L1675.9 367.9L1676.9 367.9L1677.9 367.9L1678.9 367.9L1679.9 367.9L1680.9 367.9L1681.9 367.9L1682.9 367.9L1683.9 367.9L1685.0 367.9L1686.0 367.9L1687.0 367.9L1688.0 367.9L1689.0 367.9L1690.0 367.9L1691.0 367.9L1692.0 367.9L1693.0 367.9L1694.0 367.9L1695.0 367.9L1696.0 367.9L1697.0 367.9L1698.0 367.9L1699.0 367.9L1700.0 367.9L1701.0 367.9L1702.0 367.9L1703.0 367.9L1704.0 367.9L1705.0 367.1L1706.0 367.4L1707.0 367.6L1708.0 367.8L1709.0 367.3L1710.0 367.9L1711.0 367.2L1712.0 367.6L1713.0 366.7L1714.0 367.3L1715.0 367.3L1716.0 367.5L1717.0 366.0L1718.0 366.4L1719.0 365.4L1720.0 365.8L1721.0 365.1L1722.0 365.5L1723.0 364.5L1724.0 365.0L1725.0 364.1L1726.0 364.4L1727.0 363.8L1728.0 364.3L1729.0 363.6L1730.0 363.8L1731.0 363.3L1732.0 363.5L1733.0 363.1L1734.0 363.7L1735.0 363.2L1736.0 363.7L1737.0 363.1L1738.0 363.5L1739.0 363.1L1740.0 363.5L1741.0 362.9L1742.0 363.5L1743.0 363.0L1744.0 362.6L1745.0 362.2L1746.0 363.2L1747.0 362.8L1748.0 363.4L1749.0 362.9L1750.0 363.5L1751.0 362.9L1752.0 363.2L1753.0 362.8L1754.0 362.6L1755.0 362.4L1756.0 362.5L1757.0 362.2L1758.0 363.1L1759.0 362.7L1760.0 363.5L1761.0 363.3L1762.0 362.5L1763.0 362.2L1764.0 363.0L1765.0 362.5L1766.0 363.0L1767.0 362.6L1768.0 362.9L1769.0 362.6L1770.0 363.2L1771.0 362.7L1772.0 363.1L1773.0 362.7L1774.0 363.2L1775.0 362.5L1776.0 363.1L1777.0 362.6L1778.0 363.1L1779.0 362.3L1780.0 363.0L1781.0 362.5L1782.0 362.9L1783.0 362.0L1784.0 362.2L1785.0 362.5L1786.0 363.0L1787.0 362.6L1788.0 362.9L1789.0 362.4L1790.0 363.2L1791.0 361.7L1792.0 362.0L1793.0 363.1L1794.0 363.3L1795.0 362.3L1796.0 362.9L1797.0 362.2L1798.0 362.3L1799.0 362.1L1800.0 362.3L1801.0 362.0L1802.0 362.9L1803.0 362.5L1804.0 362.9L1805.0 362.5L1806.0 362.8L1807.0 362.1L1808.0 362.7L1809.0 362.3L1810.0 362.9L1811.0 362.2L1812.0 362.6L1813.0 362.2L1814.0 363.3L1815.0 363.0L1816.0 362.7L1817.0 362.3L1818.0 362.7L1819.0 362.1L1820.0 362.8L1821.0 362.3L1822.0 362.7L1823.0 362.2L1824.0 362.8L1825.0 361.5L1826.0 361.8L1827.0 362.7L1828.0 363.0L1829.0 362.1L1830.0 362.6L1831.0 362.2L1832.0 363.2L1833.0 362.9L1834.0 362.7L1835.0 362.2L1836.0 363.1L1837.0 362.0L1838.0 362.4L1839.0 362.0L1840.0 362.5L1841.0 361.9L1842.0 361.8L1843.0 361.5L1844.0 362.9L1845.0 362.6L1846.0 362.6L1847.0 362.0L1848.0 362.5L1849.0 361.7L1850.0 362.3L1851.0 361.9L1852.0 362.2L1853.0 361.8L1854.0 362.5L1855.0 361.8L1856.0 362.4L1857.0 361.7L1858.0 362.4L1859.0 361.7L1860.0 362.3L1861.0 362.0L1862.0 362.3L1863.0 361.8L1864.0 362.2L1865.0 361.8L1866.0 362.4L1867.0 361.8L1868.0 361.5L1869.0 361.2L1870.0 362.9L1871.0 362.7L1872.0 361.5L1873.0 361.8L1874.0 362.3L1875.0 361.8L1876.0 362.1L1877.0 361.6L1878.0 362.2L1879.0 361.7L1880.0 362.5L1881.0 362.2L1882.0 362.0L1883.0 361.7L1884.0 362.1L1885.0 361.5L1886.0 362.2L1887.0 361.6L1888.0 362.2L1889.0 361.8L1890.0 362.1L1891.0 361.8L1892.0 362.2L1893.0 361.7L1894.0 362.7L1895.0 362.4L1896.0 362.0L1897.0 361.4L1898.0 361.9L1899.0 361.5L1900.0 361.3L1901.0 361.0L1902.0 361.5L1903.0 361.2L1904.0 362.0L1905.0 361.7L1906.0 362.2L1907.0 361.6L1908.0 362.3L1909.0 361.0L1910.0 361.9L1911.0 361.3L1912.0 361.8L1913.0 361.3L1914.0 362.5L1915.0 362.2L1916.0 362.1L1917.0 361.4L1918.0 362.1L1919.0 360.9L1920.0 361.1L1921.0 361.6L1922.0 361.9L1923.0 361.5L1924.0 361.9L1925.0 360.8L1926.0 361.1L1927.0 361.3L1928.0 361.9L1929.0 361.3L1930.0 361.9L1931.0 361.3L1932.0 361.8L1933.0 361.4L1934.0 361.8L1935.0 361.6L1936.0 361.9L1937.0 361.9L1938.0 362.2L1939.0 362.0L1940.0 361.8L1941.0 361.5L1942.0 361.8L1943.0 361.4L1944.0 361.7L1945.0 361.1L1946.0 361.8L1947.0 361.0L1948.0 361.6L1949.0 361.2L1950.0 361.7L1951.0 361.1L1952.0 361.7L1953.0 361.0L1954.0 361.2L1955.0 361.2L1956.0 361.7L1957.0 361.0L1958.0 361.8L1959.0 360.9L1960.0 361.1L1961.0 361.1L1962.0 361.6L1963.0 361.1L1964.0 361.5L1965.0 361.8L1966.0 361.6L1967.0 361.0L1968.0 361.6L1969.0 361.1L1970.0 361.6L1971.0 361.3L1972.0 361.6L1973.0 361.1L1974.0 361.5L1975.0 361.2L1976.0 361.6L1977.0 361.2L1978.0 361.6L1979.0 360.9L1980.0 361.4L1981.0 361.0L1982.0 361.4L1983.0 360.8L1984.0 362.0L1985.0 361.8L1986.0 361.7L1987.0 361.1L1988.0 361.7L1989.0 360.4L1990.0 361.5L1991.0 361.0L1992.0 361.6L1993.0 360.9L1994.0 361.6L1995.0 361.1L1996.0 361.6L1997.0 361.0L1998.0 361.3L1999.0 360.8L2000.0 361.4L2001.0 360.9L2002.0 361.4L2003.0 360.6L2004.0 361.3L2005.0 360.7L2006.0 361.4L2007.0 361.0L2008.0 361.3L2009.0 360.7L2010.0 361.3L2011.0 361.6L2012.0 361.9L2013.0 360.9L2014.0 361.2L2015.0 360.8L2016.0 361.3L2017.0 360.9L2018.0 361.3L2019.0 360.8L2020.0 361.5L2021.0 360.8L2022.0 361.2L2023.0 360.7L2024.0 361.2L2025.0 360.7L2026.0 361.3L2027.0 360.7L2028.0 360.5L2029.0 361.7L2030.0 361.9L2031.0 360.3L2032.0 361.1L2033.0 360.7L2034.0 361.1L2035.0 360.4L2036.0 360.7L2037.0 360.7L2038.0 361.2L2039.0 360.5L2040.0 361.2L2041.0 360.7L2042.0 361.1L2043.0 360.7L2044.0 361.8L2045.0 361.4L2046.0 360.4L2047.0 360.1L2048.0 361.6L2049.0 361.4L2050.0 361.6L2051.0 360.6L2052.0 361.2L2053.0 360.6L2054.0 361.0L2055.0 360.6L2056.0 361.2L2057.0 360.7L2058.0 361.6L2059.0 361.4L2060.0 361.1L2061.0 360.5L2062.0 361.1L2063.0 360.6L2064.0 361.2L2065.0 360.7L2066.0 361.1L2067.0 360.3L2068.0 360.6L2069.0 360.5L2070.0 361.0L2071.0 360.7L2072.0 361.1L2073.0 360.6L2074.0 361.2L2075.0 360.3L2076.0 361.1L2077.0 360.6L2078.0 361.0L2079.0 360.5L2080.0 361.7L2081.0 361.4L2082.0 361.4L2083.0 361.1L2084.0 360.8L2085.0 360.5L2086.0 360.9L2087.0 360.3L2088.0 361.0L2089.0 360.4L2090.0 361.0L2091.0 360.5L2092.0 361.1L2093.0 360.6L2094.0 361.2L2095.0 360.5L2096.0 360.9L2097.0 360.5L2098.0 360.8L2099.0 360.1L2100.0 360.4L2101.0 360.1L2102.0 360.3L2103.0 360.4L2104.0 361.0L2105.0 360.4L2106.0 360.9L2107.0 360.3L2108.0 360.9L2109.0 359.9L2110.0 360.2L2111.0 359.9L2112.0 360.1L2113.0 360.3L2114.0 360.8L2115.0 360.3L2116.0 360.8L2117.0 360.3L2118.0 360.8L2119.0 360.4L2120.0 361.5L2121.0 361.2L2122.0 360.8L2123.0 360.4L2124.0 360.2L2125.0 359.9L2126.0 361.0L2127.0 360.4L2128.0 361.0L2129.0 360.4L2130.0 360.8L2131.0 360.4L2132.0 360.9L2133.0 360.3L2134.0 360.7L2135.0 360.4L2136.0 360.7L2137.0 360.4L2138.0 360.8L2139.0 360.4L2140.0 360.6L2141.0 360.1L2142.0 360.6L2143.0 360.4L2144.0 360.7L2145.0 360.3L2146.0 360.6L2147.0 360.0L2148.0 361.2L2149.0 360.2L2150.0 360.9L2151.0 360.3L2152.0 360.9L2153.0 360.3L2154.0 360.9L2155.0 360.2L2156.0 360.6L2157.0 360.3L2158.0 360.7L2159.0 360.2L2160.0 360.8L2161.0 360.1L2162.0 360.7L2163.0 360.2L2164.0 360.8L2165.0 360.2L2166.0 360.5L2167.0 359.9L2168.0 360.6L2169.0 360.0L2170.0 360.5L2171.0 360.0L2172.0 361.2L2173.0 360.9L2174.0 360.0L2175.0 359.8L2176.0 360.9L2177.0 360.2L2178.0 360.9L2179.0 360.8L2180.0 361.1L2181.0 360.8L2182.0 361.1L2183.0 359.8L2184.0 360.0L2185.0 359.8L2186.0 360.0L2187.0 359.5L2188.0 359.7L2189.0 360.1L2190.0 360.8L2191.0 360.1L2192.0 360.4L2193.0 360.0L2194.0 360.6L2195.0 360.1L2196.0 360.7L2197.0 360.1L2198.0 360.5L2199.0 359.9L2200.0 360.5L2201.0 359.8L2202.0 360.6L2203.0 359.9L2204.0 360.6L2205.0 360.0L2206.0 361.0L2207.0 360.7L2208.0 360.6L2209.0 360.2L2210.0 360.6L2211.0 360.1L2212.0 360.5L2213.0 359.9L2214.0 360.6L2215.0 360.7L2216.0 360.9L2217.0 359.5L2218.0 359.7L2219.0 360.0L2220.0 360.3L2221.0 359.9L2222.0 359.8L2223.0 359.5L2224.0 360.4L2225.0 360.0L2226.0 360.3L2227.0 360.0L2228.0 359.7L2229.0 360.5L2230.0 360.5L2231.0 360.0L2232.0 360.6L2233.0 360.2L2234.0 360.5L2235.0 359.7L2236.0 360.3L2237.0 359.8L2238.0 360.3L2239.0 360.6L2240.0 360.4L2241.0 359.8L2242.0 360.4L2243.0 360.0L2244.0 360.4L2245.0 359.8L2246.0 360.3L2247.0 359.4L2248.0 360.5L2249.0 360.2L2250.0 360.5L2251.0 359.9L2252.0 360.6L2253.0 359.9L2254.0 360.5L2255.0 359.9L2256.0 361.0L2257.0 360.8L2258.0 360.3L2259.0 359.8L2260.0 360.4L2261.0 359.8L2262.0 360.4L2263.0 359.9L2264.0 360.9L2265.0 360.7L2266.0 360.1L2267.0 359.9L2268.0 360.3L2269.0 359.9L2270.0 360.3L2271.0 359.6L2272.0 360.2L2273.0 359.6L2274.0 360.3L2275.0 359.7L2276.0 360.3L2277.0 359.8L2278.0 360.4L2279.0 360.0L2280.0 360.4L2281.0 359.9L2282.0 360.4L2283.0 359.8L2284.0 360.4L2285.0 360.5L2286.0 360.7L2287.0 359.9L2288.0 360.2L2289.0 359.8L2290.0 360.4L2291.0 359.6L2292.0 360.3L2293.0 359.7L2294.0 360.3L2295.0 359.9L2296.0 360.3L2297.0 359.8L2298.0 360.4L2299.0 359.8L2300.0 360.5L2301.0 359.7L2302.0 360.4L2303.0 360.0L2304.0 360.3L2305.0 359.5L2306.0 360.2L2307.0 359.4L2308.0 359.6L2309.0 359.7L2310.0 360.1L2311.0 359.6L2312.0 360.1L2313.0 359.7L2314.0 360.2L2315.0 359.7L2316.0 360.3L2317.0 359.8L2318.0 360.2L2319.0 360.3L2320.0 360.6L2321.0 359.4L2322.0 359.7L2323.0 359.7L2324.0 360.1L2325.0 359.9L2326.0 360.2L2327.0 359.9L2328.0 360.0L2329.0 359.7L2330.0 360.0L2331.0 359.6L2332.0 360.1L2333.0 359.7L2334.0 359.3L2335.0 359.0L2336.0 360.2L2337.0 359.6L2338.0 360.1L2339.0 359.5L2340.0 360.3L2341.0 359.7L2342.0 360.4L2343.0 359.7L2344.0 360.1L2345.0 359.6L2346.0 360.0L2347.0 359.7L2348.0 359.4L2349.0 359.1L2350.0 359.5L2351.0 359.2L2352.0 360.2L2353.0 359.8L2354.0 360.2L2355.0 359.5L2356.0 360.1L2357.0 359.5L2358.0 360.0L2359.0 359.6L2360.0 360.1L2361.0 359.7L2362.0 360.2L2363.0 360.5L2364.0 360.7L2365.0 360.3L2366.0 360.1L2367.0 359.6L2368.0 359.4L2369.0 359.1L2370.0 360.0L2371.0 359.7L2372.0 360.6L2373.0 360.3L2374.0 360.5L2375.0 360.2L2376.0 360.2L2377.0 359.6L2378.0 360.2L2379.0 359.8L2380.0 360.1L2381.0 359.7L2382.0 360.5L2383.0 360.2L2384.0 359.2L2385.0 358.9L2386.0 360.0L2387.0 359.6L2388.0 360.0L2389.0 359.6L2390.0 359.9L2391.0 359.4L2392.0 359.8L2393.0 360.1L2394.0 360.4L2395.0 360.2L2396.0 360.4L2397.0 359.3L2398.0 359.9L2399.0 359.5L2400.0 359.9L2401.0 359.4L2402.0 359.9L2403.0 359.3L2404.0 359.9L2405.0 359.3L2406.0 359.9L2407.0 359.8L2408.0 360.1L2409.0 359.6L2410.0 359.9L2411.0 359.3L2412.0 360.2L2413.0 359.5L2414.0 359.4L2415.0 359.1L2416.0 360.0L2417.0 359.5L2418.0 360.0L2419.0 360.2L2420.0 360.4L2421.0 359.5L2422.0 360.1L2423.0 359.5L2424.0 359.8L2425.0 359.6L2426.0 359.9L2427.0 359.6L2428.0 359.8L2429.0 359.4L2430.0 360.0L2431.0 359.3L2432.0 359.8L2433.0 359.3L2434.0 359.7L2435.0 359.4L2436.0 359.7L2437.0 359.4L2438.0 360.0L2439.0 359.5L2440.0 360.1L2441.0 359.4L2442.0 359.8L2443.0 359.4L2444.0 360.0L2445.0 359.3L2446.0 359.9L2447.0 359.4L2448.0 359.9L2449.0 359.5L2450.0 359.9L2451.0 359.5L2452.0 360.0L2453.0 359.5L2454.0 360.0L2455.0 359.4L2456.0 359.8L2457.0 359.5L2458.0 359.8L2459.0 359.4L2460.0 359.8L2461.0 359.0L2462.0 359.3L2463.0 359.5L2464.0 360.0L2465.0 359.4L2466.0 359.6" stroke="#3953a4"/>
</g>
<g>
<text transform="translate(1487.30 1258.20) scale(1 1.015)" text-anchor="middle" font-size="54px" fill="#48494b" stroke="#48494b" stroke-width="0.40">0</text>
<text transform="translate(1704.05 1258.20) scale(1 1.015)" text-anchor="middle" font-size="54px" fill="#48494b" stroke="#48494b" stroke-width="0.40">20</text>
<text transform="translate(1921.90 1258.20) scale(1 1.015)" text-anchor="middle" font-size="54px" fill="#48494b" stroke="#48494b" stroke-width="0.40">40</text>
<text transform="translate(2138.75 1258.20) scale(1 1.015)" text-anchor="middle" font-size="54px" fill="#48494b" stroke="#48494b" stroke-width="0.40">60</text>
<text transform="translate(2356.45 1258.20) scale(1 1.015)" text-anchor="middle" font-size="54px" fill="#48494b" stroke="#48494b" stroke-width="0.40">80</text>
<text transform="translate(1479.20 183.39) scale(1 1.015)" text-anchor="end" font-size="54px" fill="#48494b" stroke="#48494b" stroke-width="0.40">0.5</text>
<text transform="translate(1479.20 388.48) scale(1 1.015)" text-anchor="end" font-size="54px" fill="#48494b" stroke="#48494b" stroke-width="0.40">0</text>
<text transform="translate(1479.20 593.57) scale(1 1.015)" text-anchor="end" font-size="54px" fill="#48494b" stroke="#48494b" stroke-width="0.40">–0.5</text>
<text transform="translate(1481.55 798.66) scale(1 1.015)" text-anchor="end" font-size="54px" fill="#48494b" stroke="#48494b" stroke-width="0.40">1</text>
<path d="M1452.36 793.66h12.50v6.50h-12.50zM1470.13 793.66h11.00v6.50h-11.00z" fill="#ffffff"/>
<text transform="translate(1449.17 798.66) scale(1 1.015)" text-anchor="end" font-size="54px" fill="#48494b" stroke="#48494b" stroke-width="0.40">–</text>
<text transform="translate(1436.51 1003.76) scale(1 1.015)" text-anchor="end" font-size="54px" fill="#48494b" stroke="#48494b" stroke-width="0.40">1</text>
<path d="M1407.32 998.76h12.50v6.50h-12.50zM1425.09 998.76h11.00v6.50h-11.00z" fill="#ffffff"/>
<text transform="translate(1479.20 1003.76) scale(1 1.015)" text-anchor="end" font-size="54px" fill="#48494b" stroke="#48494b" stroke-width="0.40">.5</text>
<text transform="translate(1404.13 1003.76) scale(1 1.015)" text-anchor="end" font-size="54px" fill="#48494b" stroke="#48494b" stroke-width="0.40">–</text>
<text transform="translate(1479.20 1208.85) scale(1 1.015)" text-anchor="end" font-size="54px" fill="#48494b" stroke="#48494b" stroke-width="0.40">–2</text>
</g>
<text x="1976.20" y="1335.50" text-anchor="middle" font-size="59.4px" fill="#48494b">degree/°</text>
<text transform="translate(1356.00 634.50) rotate(-90)" text-anchor="middle" font-size="59.4px" fill="#48494b">force/N</text>
<text x="1976.50" y="57.70" text-anchor="middle" font-size="60px" fill="#231f20">Fuzzy admittance control(90°)</text>
<rect x="2212.5" y="101.5" width="232.0" height="238" fill="#ffffff" stroke="#48494b" stroke-width="1"/>
<line x1="2220.00" y1="143.50" x2="2297.00" y2="143.50" stroke="#ed1c24" stroke-width="5.00"/>
<text transform="translate(2301.50 150.80) scale(1 1.015)" text-anchor="start" font-size="45px" fill="#231f20" stroke="#231f20" stroke-width="0.40">X</text>
<text x="2330.80" y="171.75" font-size="35.0px" fill="#231f20">F–Adm</text>
<line x1="2220.00" y1="220.50" x2="2297.00" y2="220.50" stroke="#62bb46" stroke-width="5.00"/>
<text transform="translate(2300.90 229.00) scale(1 1.015)" text-anchor="start" font-size="45px" fill="#231f20" stroke="#231f20" stroke-width="0.40">Y</text>
<text x="2330.80" y="249.80" font-size="35.0px" fill="#231f20">F–Adm</text>
<line x1="2220.00" y1="297.50" x2="2297.00" y2="297.50" stroke="#3953a4" stroke-width="5.00"/>
<text transform="translate(2301.50 305.10) scale(1 1.015)" text-anchor="start" font-size="45px" fill="#231f20" stroke="#231f20" stroke-width="0.40">Z</text>
<text x="2328.50" y="325.70" font-size="35.0px" fill="#231f20">F–Adm</text>
</g>
</svg></body></html>
